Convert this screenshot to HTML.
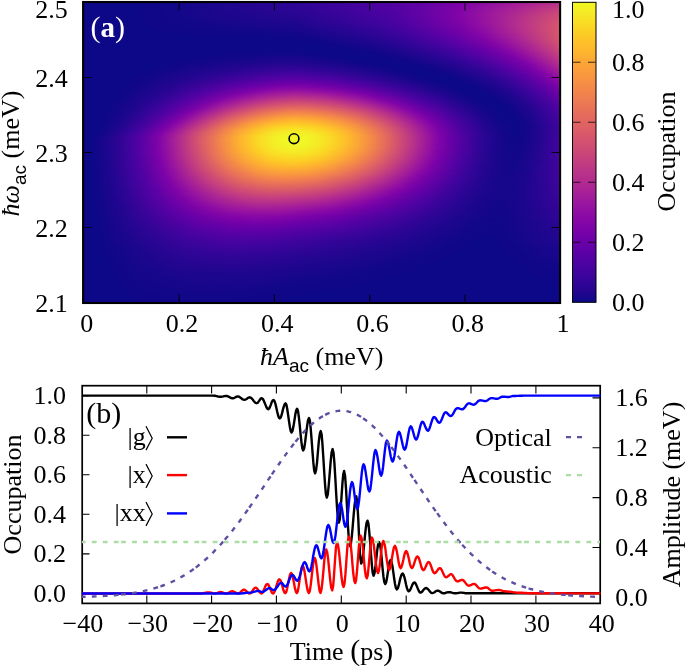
<!DOCTYPE html>
<html><head><meta charset="utf-8"><title>figure</title>
<style>html,body{margin:0;padding:0;background:#fff;width:685px;height:666px;overflow:hidden}svg{display:block;will-change:transform}</style>
</head><body>
<svg width="685" height="666" viewBox="0 0 685 666">
<defs><linearGradient id="r0"><stop offset=".000" stop-color="#0d0887"/><stop offset=".122" stop-color="#0d0887"/><stop offset=".128" stop-color="#100788"/><stop offset=".164" stop-color="#100788"/><stop offset=".174" stop-color="#130789"/><stop offset=".197" stop-color="#130789"/><stop offset=".218" stop-color="#16078a"/><stop offset=".481" stop-color="#350498"/><stop offset=".668" stop-color="#5502a4"/><stop offset=".798" stop-color="#7e03a8"/><stop offset=".920" stop-color="#a51f99"/><stop offset="1.000" stop-color="#b7318a"/></linearGradient><linearGradient id="r1"><stop offset=".000" stop-color="#0d0887"/><stop offset=".120" stop-color="#0d0887"/><stop offset=".126" stop-color="#100788"/><stop offset=".164" stop-color="#100788"/><stop offset=".174" stop-color="#130789"/><stop offset=".195" stop-color="#130789"/><stop offset=".216" stop-color="#16078a"/><stop offset=".473" stop-color="#330597"/><stop offset=".662" stop-color="#5302a3"/><stop offset=".796" stop-color="#7e03a8"/><stop offset=".914" stop-color="#a51f99"/><stop offset="1.000" stop-color="#ba3388"/></linearGradient><linearGradient id="r2"><stop offset=".000" stop-color="#0d0887"/><stop offset=".120" stop-color="#0d0887"/><stop offset=".126" stop-color="#100788"/><stop offset=".162" stop-color="#100788"/><stop offset=".172" stop-color="#130789"/><stop offset=".195" stop-color="#130789"/><stop offset=".216" stop-color="#16078a"/><stop offset=".462" stop-color="#310597"/><stop offset=".662" stop-color="#5302a3"/><stop offset=".792" stop-color="#7e03a8"/><stop offset=".903" stop-color="#a31e9a"/><stop offset="1.000" stop-color="#bc3587"/></linearGradient><linearGradient id="r3"><stop offset=".000" stop-color="#0d0887"/><stop offset=".118" stop-color="#0d0887"/><stop offset=".124" stop-color="#100788"/><stop offset=".162" stop-color="#100788"/><stop offset=".172" stop-color="#130789"/><stop offset=".195" stop-color="#130789"/><stop offset=".216" stop-color="#16078a"/><stop offset=".466" stop-color="#310597"/><stop offset=".662" stop-color="#5302a3"/><stop offset=".790" stop-color="#7e03a8"/><stop offset=".891" stop-color="#a11b9b"/><stop offset="1.000" stop-color="#bf3984"/></linearGradient><linearGradient id="r4"><stop offset=".000" stop-color="#0d0887"/><stop offset=".118" stop-color="#0d0887"/><stop offset=".124" stop-color="#100788"/><stop offset=".162" stop-color="#100788"/><stop offset=".172" stop-color="#130789"/><stop offset=".195" stop-color="#130789"/><stop offset=".216" stop-color="#16078a"/><stop offset=".468" stop-color="#310597"/><stop offset=".662" stop-color="#5302a3"/><stop offset=".788" stop-color="#7e03a8"/><stop offset=".878" stop-color="#9e199d"/><stop offset=".996" stop-color="#c03a83"/><stop offset="1.000" stop-color="#c13b82"/></linearGradient><linearGradient id="r5"><stop offset=".000" stop-color="#0d0887"/><stop offset=".116" stop-color="#0d0887"/><stop offset=".122" stop-color="#100788"/><stop offset=".160" stop-color="#100788"/><stop offset=".170" stop-color="#130789"/><stop offset=".195" stop-color="#130789"/><stop offset=".216" stop-color="#16078a"/><stop offset=".460" stop-color="#2f0596"/><stop offset=".662" stop-color="#5302a3"/><stop offset=".786" stop-color="#7e03a8"/><stop offset=".887" stop-color="#a21d9a"/><stop offset=".998" stop-color="#c23c81"/><stop offset="1.000" stop-color="#c23c81"/></linearGradient><linearGradient id="r6"><stop offset=".000" stop-color="#0d0887"/><stop offset=".116" stop-color="#0d0887"/><stop offset=".122" stop-color="#100788"/><stop offset=".160" stop-color="#100788"/><stop offset=".170" stop-color="#130789"/><stop offset=".195" stop-color="#130789"/><stop offset=".216" stop-color="#16078a"/><stop offset=".464" stop-color="#2f0596"/><stop offset=".662" stop-color="#5302a3"/><stop offset=".786" stop-color="#7e03a8"/><stop offset=".887" stop-color="#a31e9a"/><stop offset=".994" stop-color="#c33d80"/><stop offset="1.000" stop-color="#c43e7f"/></linearGradient><linearGradient id="r7"><stop offset=".000" stop-color="#0d0887"/><stop offset=".116" stop-color="#0d0887"/><stop offset=".122" stop-color="#100788"/><stop offset=".160" stop-color="#100788"/><stop offset=".170" stop-color="#130789"/><stop offset=".195" stop-color="#130789"/><stop offset=".216" stop-color="#16078a"/><stop offset=".458" stop-color="#2e0595"/><stop offset=".662" stop-color="#5302a3"/><stop offset=".784" stop-color="#7e03a8"/><stop offset=".868" stop-color="#9e199d"/><stop offset=".989" stop-color="#c43e7f"/><stop offset="1.000" stop-color="#c6417d"/></linearGradient><linearGradient id="r8"><stop offset=".000" stop-color="#0d0887"/><stop offset=".116" stop-color="#0d0887"/><stop offset=".122" stop-color="#100788"/><stop offset=".160" stop-color="#100788"/><stop offset=".170" stop-color="#130789"/><stop offset=".197" stop-color="#130789"/><stop offset=".218" stop-color="#16078a"/><stop offset=".462" stop-color="#2e0595"/><stop offset=".662" stop-color="#5302a3"/><stop offset=".784" stop-color="#7e03a8"/><stop offset=".876" stop-color="#a21d9a"/><stop offset=".996" stop-color="#c7427c"/><stop offset="1.000" stop-color="#c8437b"/></linearGradient><linearGradient id="r9"><stop offset=".000" stop-color="#0d0887"/><stop offset=".116" stop-color="#0d0887"/><stop offset=".122" stop-color="#100788"/><stop offset=".162" stop-color="#100788"/><stop offset=".172" stop-color="#130789"/><stop offset=".197" stop-color="#130789"/><stop offset=".218" stop-color="#16078a"/><stop offset=".454" stop-color="#2c0594"/><stop offset=".658" stop-color="#5102a3"/><stop offset=".782" stop-color="#7e03a8"/><stop offset=".853" stop-color="#9a169f"/><stop offset=".981" stop-color="#c5407e"/><stop offset="1.000" stop-color="#ca457a"/></linearGradient><linearGradient id="r10"><stop offset=".000" stop-color="#0d0887"/><stop offset=".116" stop-color="#0d0887"/><stop offset=".122" stop-color="#100788"/><stop offset=".162" stop-color="#100788"/><stop offset=".172" stop-color="#130789"/><stop offset=".200" stop-color="#130789"/><stop offset=".221" stop-color="#16078a"/><stop offset=".460" stop-color="#2c0594"/><stop offset=".660" stop-color="#5102a3"/><stop offset=".782" stop-color="#7e03a8"/><stop offset=".866" stop-color="#a01a9c"/><stop offset=".987" stop-color="#c8437b"/><stop offset="1.000" stop-color="#cb4679"/></linearGradient><linearGradient id="r11"><stop offset=".000" stop-color="#0d0887"/><stop offset=".116" stop-color="#0d0887"/><stop offset=".122" stop-color="#100788"/><stop offset=".162" stop-color="#100788"/><stop offset=".172" stop-color="#130789"/><stop offset=".200" stop-color="#130789"/><stop offset=".221" stop-color="#16078a"/><stop offset=".452" stop-color="#2a0593"/><stop offset=".655" stop-color="#5002a2"/><stop offset=".777" stop-color="#7d03a8"/><stop offset=".851" stop-color="#9a169f"/><stop offset=".975" stop-color="#c6417d"/><stop offset="1.000" stop-color="#cc4977"/></linearGradient><linearGradient id="r12"><stop offset=".000" stop-color="#0d0887"/><stop offset=".116" stop-color="#0d0887"/><stop offset=".122" stop-color="#100788"/><stop offset=".164" stop-color="#100788"/><stop offset=".174" stop-color="#130789"/><stop offset=".202" stop-color="#130789"/><stop offset=".223" stop-color="#16078a"/><stop offset=".458" stop-color="#2a0593"/><stop offset=".658" stop-color="#5002a2"/><stop offset=".779" stop-color="#7d03a8"/><stop offset=".853" stop-color="#9c179e"/><stop offset=".981" stop-color="#c9447a"/><stop offset="1.000" stop-color="#cd4a76"/></linearGradient><linearGradient id="r13"><stop offset=".000" stop-color="#0d0887"/><stop offset=".116" stop-color="#0d0887"/><stop offset=".122" stop-color="#100788"/><stop offset=".164" stop-color="#100788"/><stop offset=".174" stop-color="#130789"/><stop offset=".204" stop-color="#130789"/><stop offset=".225" stop-color="#16078a"/><stop offset=".452" stop-color="#280592"/><stop offset=".655" stop-color="#4e02a2"/><stop offset=".777" stop-color="#7d03a8"/><stop offset=".842" stop-color="#9814a0"/><stop offset=".971" stop-color="#c7427c"/><stop offset="1.000" stop-color="#cf4c74"/></linearGradient><linearGradient id="r14"><stop offset=".000" stop-color="#0d0887"/><stop offset=".116" stop-color="#0d0887"/><stop offset=".122" stop-color="#100788"/><stop offset=".166" stop-color="#100788"/><stop offset=".176" stop-color="#130789"/><stop offset=".208" stop-color="#130789"/><stop offset=".229" stop-color="#16078a"/><stop offset=".458" stop-color="#280592"/><stop offset=".651" stop-color="#4c02a1"/><stop offset=".777" stop-color="#7d03a8"/><stop offset=".836" stop-color="#9511a1"/><stop offset=".964" stop-color="#c6417d"/><stop offset="1.000" stop-color="#d04d73"/></linearGradient><linearGradient id="r15"><stop offset=".000" stop-color="#0d0887"/><stop offset=".118" stop-color="#0d0887"/><stop offset=".124" stop-color="#100788"/><stop offset=".168" stop-color="#100788"/><stop offset=".179" stop-color="#130789"/><stop offset=".210" stop-color="#130789"/><stop offset=".231" stop-color="#16078a"/><stop offset=".450" stop-color="#260591"/><stop offset=".649" stop-color="#4b03a1"/><stop offset=".777" stop-color="#7b02a8"/><stop offset=".842" stop-color="#9814a0"/><stop offset=".971" stop-color="#c9447a"/><stop offset="1.000" stop-color="#d14e72"/></linearGradient><linearGradient id="r16"><stop offset=".000" stop-color="#0d0887"/><stop offset=".118" stop-color="#0d0887"/><stop offset=".124" stop-color="#100788"/><stop offset=".170" stop-color="#100788"/><stop offset=".181" stop-color="#130789"/><stop offset=".214" stop-color="#130789"/><stop offset=".235" stop-color="#16078a"/><stop offset=".456" stop-color="#260591"/><stop offset=".645" stop-color="#4903a0"/><stop offset=".775" stop-color="#7a02a8"/><stop offset=".830" stop-color="#920fa3"/><stop offset=".931" stop-color="#bc3587"/><stop offset="1.000" stop-color="#d24f71"/></linearGradient><linearGradient id="r17"><stop offset=".000" stop-color="#0d0887"/><stop offset=".120" stop-color="#0d0887"/><stop offset=".126" stop-color="#100788"/><stop offset=".172" stop-color="#100788"/><stop offset=".183" stop-color="#130789"/><stop offset=".218" stop-color="#130789"/><stop offset=".239" stop-color="#16078a"/><stop offset=".450" stop-color="#240691"/><stop offset=".649" stop-color="#4903a0"/><stop offset=".775" stop-color="#7a02a8"/><stop offset=".828" stop-color="#910ea3"/><stop offset=".924" stop-color="#ba3388"/><stop offset="1.000" stop-color="#d35171"/></linearGradient><linearGradient id="r18"><stop offset=".000" stop-color="#0d0887"/><stop offset=".120" stop-color="#0d0887"/><stop offset=".126" stop-color="#100788"/><stop offset=".176" stop-color="#100788"/><stop offset=".187" stop-color="#130789"/><stop offset=".225" stop-color="#130789"/><stop offset=".246" stop-color="#16078a"/><stop offset=".443" stop-color="#220690"/><stop offset=".632" stop-color="#44039e"/><stop offset=".725" stop-color="#6400a7"/><stop offset=".800" stop-color="#8405a7"/><stop offset=".878" stop-color="#a72197"/><stop offset="1.000" stop-color="#d45270"/></linearGradient><linearGradient id="r19"><stop offset=".000" stop-color="#0d0887"/><stop offset=".122" stop-color="#0d0887"/><stop offset=".128" stop-color="#100788"/><stop offset=".181" stop-color="#100788"/><stop offset=".191" stop-color="#130789"/><stop offset=".231" stop-color="#130789"/><stop offset=".252" stop-color="#16078a"/><stop offset=".450" stop-color="#220690"/><stop offset=".628" stop-color="#43039e"/><stop offset=".691" stop-color="#5601a4"/><stop offset=".792" stop-color="#8004a8"/><stop offset=".870" stop-color="#a31e9a"/><stop offset=".996" stop-color="#d45270"/><stop offset="1.000" stop-color="#d5536f"/></linearGradient><linearGradient id="r20"><stop offset=".000" stop-color="#0d0887"/><stop offset=".124" stop-color="#0d0887"/><stop offset=".130" stop-color="#100788"/><stop offset=".185" stop-color="#100788"/><stop offset=".195" stop-color="#130789"/><stop offset=".237" stop-color="#130789"/><stop offset=".258" stop-color="#16078a"/><stop offset=".443" stop-color="#20068f"/><stop offset=".626" stop-color="#41049d"/><stop offset=".689" stop-color="#5502a4"/><stop offset=".790" stop-color="#7e03a8"/><stop offset=".857" stop-color="#9d189d"/><stop offset=".975" stop-color="#cd4a76"/><stop offset="1.000" stop-color="#d5546e"/></linearGradient><linearGradient id="r21"><stop offset=".000" stop-color="#0d0887"/><stop offset=".126" stop-color="#0d0887"/><stop offset=".132" stop-color="#100788"/><stop offset=".189" stop-color="#100788"/><stop offset=".200" stop-color="#130789"/><stop offset=".248" stop-color="#130789"/><stop offset=".269" stop-color="#16078a"/><stop offset=".452" stop-color="#20068f"/><stop offset=".639" stop-color="#43039e"/><stop offset=".769" stop-color="#7401a8"/><stop offset=".824" stop-color="#8d0ba5"/><stop offset=".903" stop-color="#b22b8f"/><stop offset="1.000" stop-color="#d6556d"/></linearGradient><linearGradient id="r22"><stop offset=".000" stop-color="#0d0887"/><stop offset=".128" stop-color="#0d0887"/><stop offset=".134" stop-color="#100788"/><stop offset=".195" stop-color="#100788"/><stop offset=".206" stop-color="#130789"/><stop offset=".258" stop-color="#130789"/><stop offset=".279" stop-color="#16078a"/><stop offset=".443" stop-color="#1d068e"/><stop offset=".613" stop-color="#3c049b"/><stop offset=".674" stop-color="#4c02a1"/><stop offset=".788" stop-color="#7b02a8"/><stop offset=".836" stop-color="#920fa3"/><stop offset=".922" stop-color="#ba3388"/><stop offset="1.000" stop-color="#d6556d"/></linearGradient><linearGradient id="r23"><stop offset=".000" stop-color="#0d0887"/><stop offset=".132" stop-color="#0d0887"/><stop offset=".139" stop-color="#100788"/><stop offset=".202" stop-color="#100788"/><stop offset=".212" stop-color="#130789"/><stop offset=".271" stop-color="#130789"/><stop offset=".292" stop-color="#16078a"/><stop offset=".429" stop-color="#1b068d"/><stop offset=".569" stop-color="#310597"/><stop offset=".664" stop-color="#48039f"/><stop offset=".786" stop-color="#7a02a8"/><stop offset=".832" stop-color="#8f0da4"/><stop offset=".910" stop-color="#b42e8d"/><stop offset="1.000" stop-color="#d7566c"/></linearGradient><linearGradient id="r24"><stop offset=".000" stop-color="#0d0887"/><stop offset=".134" stop-color="#0d0887"/><stop offset=".141" stop-color="#100788"/><stop offset=".212" stop-color="#100788"/><stop offset=".223" stop-color="#130789"/><stop offset=".286" stop-color="#130789"/><stop offset=".307" stop-color="#16078a"/><stop offset=".443" stop-color="#1b068d"/><stop offset=".611" stop-color="#38049a"/><stop offset=".681" stop-color="#4c02a1"/><stop offset=".792" stop-color="#7b02a8"/><stop offset=".842" stop-color="#9410a2"/><stop offset=".931" stop-color="#bd3786"/><stop offset="1.000" stop-color="#d7566c"/></linearGradient><linearGradient id="r25"><stop offset=".000" stop-color="#0d0887"/><stop offset=".139" stop-color="#0d0887"/><stop offset=".145" stop-color="#100788"/><stop offset=".223" stop-color="#100788"/><stop offset=".233" stop-color="#130789"/><stop offset=".307" stop-color="#130789"/><stop offset=".328" stop-color="#16078a"/><stop offset=".452" stop-color="#1b068d"/><stop offset=".616" stop-color="#38049a"/><stop offset=".681" stop-color="#4b03a1"/><stop offset=".796" stop-color="#7b02a8"/><stop offset=".845" stop-color="#9410a2"/><stop offset=".931" stop-color="#bd3786"/><stop offset="1.000" stop-color="#d8576b"/></linearGradient><linearGradient id="r26"><stop offset=".000" stop-color="#0d0887"/><stop offset=".145" stop-color="#0d0887"/><stop offset=".151" stop-color="#100788"/><stop offset=".235" stop-color="#100788"/><stop offset=".246" stop-color="#130789"/><stop offset=".330" stop-color="#130789"/><stop offset=".351" stop-color="#16078a"/><stop offset=".443" stop-color="#19068c"/><stop offset=".599" stop-color="#330597"/><stop offset=".674" stop-color="#48039f"/><stop offset=".792" stop-color="#7801a8"/><stop offset=".838" stop-color="#8f0da4"/><stop offset=".918" stop-color="#b6308b"/><stop offset="1.000" stop-color="#d8576b"/></linearGradient><linearGradient id="r27"><stop offset=".000" stop-color="#0d0887"/><stop offset=".149" stop-color="#0d0887"/><stop offset=".155" stop-color="#100788"/><stop offset=".254" stop-color="#100788"/><stop offset=".265" stop-color="#130789"/><stop offset=".355" stop-color="#130789"/><stop offset=".376" stop-color="#16078a"/><stop offset=".452" stop-color="#19068c"/><stop offset=".597" stop-color="#310597"/><stop offset=".670" stop-color="#44039e"/><stop offset=".782" stop-color="#7201a8"/><stop offset=".832" stop-color="#8b0aa5"/><stop offset=".901" stop-color="#ae2892"/><stop offset="1.000" stop-color="#d8576b"/></linearGradient><linearGradient id="r28"><stop offset=".000" stop-color="#0d0887"/><stop offset=".158" stop-color="#0d0887"/><stop offset=".164" stop-color="#100788"/><stop offset=".277" stop-color="#100788"/><stop offset=".288" stop-color="#130789"/><stop offset=".382" stop-color="#130789"/><stop offset=".403" stop-color="#16078a"/><stop offset=".462" stop-color="#19068c"/><stop offset=".620" stop-color="#350498"/><stop offset=".687" stop-color="#4903a0"/><stop offset=".788" stop-color="#7401a8"/><stop offset=".838" stop-color="#8d0ba5"/><stop offset=".916" stop-color="#b42e8d"/><stop offset="1.000" stop-color="#d8576b"/></linearGradient><linearGradient id="r29"><stop offset=".000" stop-color="#0d0887"/><stop offset=".166" stop-color="#0d0887"/><stop offset=".172" stop-color="#100788"/><stop offset=".309" stop-color="#100788"/><stop offset=".319" stop-color="#130789"/><stop offset=".410" stop-color="#130789"/><stop offset=".431" stop-color="#16078a"/><stop offset=".471" stop-color="#19068c"/><stop offset=".626" stop-color="#350498"/><stop offset=".700" stop-color="#4c02a1"/><stop offset=".794" stop-color="#7501a8"/><stop offset=".840" stop-color="#8d0ba5"/><stop offset=".912" stop-color="#b22b8f"/><stop offset="1.000" stop-color="#d8576b"/></linearGradient><linearGradient id="r30"><stop offset=".000" stop-color="#0d0887"/><stop offset=".179" stop-color="#0d0887"/><stop offset=".185" stop-color="#100788"/><stop offset=".347" stop-color="#100788"/><stop offset=".357" stop-color="#130789"/><stop offset=".435" stop-color="#130789"/><stop offset=".456" stop-color="#16078a"/><stop offset=".582" stop-color="#2a0593"/><stop offset=".664" stop-color="#3e049c"/><stop offset=".775" stop-color="#6a00a8"/><stop offset=".832" stop-color="#8707a6"/><stop offset=".897" stop-color="#aa2395"/><stop offset="1.000" stop-color="#d8576b"/></linearGradient><linearGradient id="r31"><stop offset=".000" stop-color="#0d0887"/><stop offset=".195" stop-color="#0d0887"/><stop offset=".202" stop-color="#100788"/><stop offset=".384" stop-color="#100788"/><stop offset=".395" stop-color="#130789"/><stop offset=".447" stop-color="#130789"/><stop offset=".468" stop-color="#16078a"/><stop offset=".607" stop-color="#2e0595"/><stop offset=".683" stop-color="#43039e"/><stop offset=".792" stop-color="#7100a8"/><stop offset=".840" stop-color="#8a09a5"/><stop offset=".910" stop-color="#ae2892"/><stop offset="1.000" stop-color="#d8576b"/></linearGradient><linearGradient id="r32"><stop offset=".000" stop-color="#0d0887"/><stop offset=".223" stop-color="#0d0887"/><stop offset=".229" stop-color="#100788"/><stop offset=".418" stop-color="#100788"/><stop offset=".429" stop-color="#130789"/><stop offset=".458" stop-color="#130789"/><stop offset=".479" stop-color="#16078a"/><stop offset=".616" stop-color="#2e0595"/><stop offset=".687" stop-color="#43039e"/><stop offset=".792" stop-color="#6f00a8"/><stop offset=".845" stop-color="#8a09a5"/><stop offset=".916" stop-color="#b12a90"/><stop offset="1.000" stop-color="#d8576b"/></linearGradient><linearGradient id="r33"><stop offset=".000" stop-color="#0d0887"/><stop offset=".275" stop-color="#0d0887"/><stop offset=".282" stop-color="#100788"/><stop offset=".441" stop-color="#100788"/><stop offset=".452" stop-color="#130789"/><stop offset=".508" stop-color="#19068c"/><stop offset=".645" stop-color="#330597"/><stop offset=".756" stop-color="#5c01a6"/><stop offset=".832" stop-color="#8104a7"/><stop offset=".895" stop-color="#a51f99"/><stop offset="1.000" stop-color="#d8576b"/></linearGradient><linearGradient id="r34"><stop offset=".000" stop-color="#0d0887"/><stop offset=".351" stop-color="#0d0887"/><stop offset=".357" stop-color="#100788"/><stop offset=".454" stop-color="#100788"/><stop offset=".464" stop-color="#130789"/><stop offset=".534" stop-color="#1b068d"/><stop offset=".658" stop-color="#350498"/><stop offset=".771" stop-color="#6100a7"/><stop offset=".836" stop-color="#8305a7"/><stop offset=".897" stop-color="#a51f99"/><stop offset="1.000" stop-color="#d7566c"/></linearGradient><linearGradient id="r35"><stop offset=".000" stop-color="#0d0887"/><stop offset=".403" stop-color="#0d0887"/><stop offset=".410" stop-color="#100788"/><stop offset=".464" stop-color="#100788"/><stop offset=".475" stop-color="#130789"/><stop offset=".569" stop-color="#20068f"/><stop offset=".662" stop-color="#350498"/><stop offset=".775" stop-color="#6100a7"/><stop offset=".840" stop-color="#8305a7"/><stop offset=".901" stop-color="#a62098"/><stop offset="1.000" stop-color="#d7566c"/></linearGradient><linearGradient id="r36"><stop offset=".000" stop-color="#0d0887"/><stop offset=".439" stop-color="#0d0887"/><stop offset=".445" stop-color="#100788"/><stop offset=".475" stop-color="#100788"/><stop offset=".485" stop-color="#130789"/><stop offset=".565" stop-color="#1d068e"/><stop offset=".662" stop-color="#330597"/><stop offset=".773" stop-color="#5e01a6"/><stop offset=".840" stop-color="#8104a7"/><stop offset=".901" stop-color="#a31e9a"/><stop offset=".998" stop-color="#d5546e"/><stop offset="1.000" stop-color="#d6556d"/></linearGradient><linearGradient id="r37"><stop offset=".000" stop-color="#0d0887"/><stop offset=".452" stop-color="#0d0887"/><stop offset=".458" stop-color="#100788"/><stop offset=".487" stop-color="#100788"/><stop offset=".498" stop-color="#130789"/><stop offset=".597" stop-color="#220690"/><stop offset=".672" stop-color="#350498"/><stop offset=".777" stop-color="#5e01a6"/><stop offset=".845" stop-color="#8104a7"/><stop offset=".908" stop-color="#a62098"/><stop offset="1.000" stop-color="#d6556d"/></linearGradient><linearGradient id="r38"><stop offset=".000" stop-color="#0d0887"/><stop offset=".464" stop-color="#0d0887"/><stop offset=".471" stop-color="#100788"/><stop offset=".498" stop-color="#100788"/><stop offset=".508" stop-color="#130789"/><stop offset=".582" stop-color="#1d068e"/><stop offset=".668" stop-color="#310597"/><stop offset=".775" stop-color="#5b01a5"/><stop offset=".849" stop-color="#8104a7"/><stop offset=".908" stop-color="#a51f99"/><stop offset="1.000" stop-color="#d5546e"/></linearGradient><linearGradient id="r39"><stop offset=".000" stop-color="#0d0887"/><stop offset=".475" stop-color="#0d0887"/><stop offset=".481" stop-color="#100788"/><stop offset=".508" stop-color="#100788"/><stop offset=".519" stop-color="#130789"/><stop offset=".613" stop-color="#220690"/><stop offset=".693" stop-color="#38049a"/><stop offset=".790" stop-color="#6001a6"/><stop offset=".855" stop-color="#8305a7"/><stop offset=".916" stop-color="#a82296"/><stop offset="1.000" stop-color="#d5536f"/></linearGradient><linearGradient id="r40"><stop offset=".000" stop-color="#0d0887"/><stop offset=".487" stop-color="#0d0887"/><stop offset=".494" stop-color="#100788"/><stop offset=".519" stop-color="#100788"/><stop offset=".529" stop-color="#130789"/><stop offset=".622" stop-color="#220690"/><stop offset=".708" stop-color="#3c049b"/><stop offset=".788" stop-color="#5c01a6"/><stop offset=".855" stop-color="#8104a7"/><stop offset=".912" stop-color="#a31e9a"/><stop offset="1.000" stop-color="#d45270"/></linearGradient><linearGradient id="r41"><stop offset=".000" stop-color="#0d0887"/><stop offset=".498" stop-color="#0d0887"/><stop offset=".504" stop-color="#100788"/><stop offset=".529" stop-color="#100788"/><stop offset=".540" stop-color="#130789"/><stop offset=".628" stop-color="#220690"/><stop offset=".704" stop-color="#38049a"/><stop offset=".792" stop-color="#5c01a6"/><stop offset=".859" stop-color="#8104a7"/><stop offset=".920" stop-color="#a72197"/><stop offset="1.000" stop-color="#d35171"/></linearGradient><linearGradient id="r42"><stop offset=".000" stop-color="#0d0887"/><stop offset=".508" stop-color="#0d0887"/><stop offset=".515" stop-color="#100788"/><stop offset=".538" stop-color="#100788"/><stop offset=".548" stop-color="#130789"/><stop offset=".616" stop-color="#1d068e"/><stop offset=".689" stop-color="#310597"/><stop offset=".788" stop-color="#5801a4"/><stop offset=".859" stop-color="#8004a8"/><stop offset=".916" stop-color="#a21d9a"/><stop offset="1.000" stop-color="#d24f71"/></linearGradient><linearGradient id="r43"><stop offset=".000" stop-color="#0d0887"/><stop offset=".521" stop-color="#0d0887"/><stop offset=".527" stop-color="#100788"/><stop offset=".548" stop-color="#100788"/><stop offset=".559" stop-color="#130789"/><stop offset=".645" stop-color="#220690"/><stop offset=".752" stop-color="#46039f"/><stop offset=".836" stop-color="#6f00a8"/><stop offset=".880" stop-color="#8a09a5"/><stop offset=".943" stop-color="#b22b8f"/><stop offset="1.000" stop-color="#d14e72"/></linearGradient><linearGradient id="r44"><stop offset=".000" stop-color="#0d0887"/><stop offset=".532" stop-color="#0d0887"/><stop offset=".538" stop-color="#100788"/><stop offset=".559" stop-color="#100788"/><stop offset=".569" stop-color="#130789"/><stop offset=".651" stop-color="#220690"/><stop offset=".767" stop-color="#4903a0"/><stop offset=".853" stop-color="#7701a8"/><stop offset=".895" stop-color="#910ea3"/><stop offset=".958" stop-color="#b83289"/><stop offset="1.000" stop-color="#d04d73"/></linearGradient><linearGradient id="r45"><stop offset=".000" stop-color="#0d0887"/><stop offset=".542" stop-color="#0d0887"/><stop offset=".548" stop-color="#100788"/><stop offset=".567" stop-color="#100788"/><stop offset=".578" stop-color="#130789"/><stop offset=".658" stop-color="#220690"/><stop offset=".767" stop-color="#48039f"/><stop offset=".847" stop-color="#7100a8"/><stop offset=".887" stop-color="#8a09a5"/><stop offset=".950" stop-color="#b22b8f"/><stop offset="1.000" stop-color="#cf4c74"/></linearGradient><linearGradient id="r46"><stop offset=".000" stop-color="#0d0887"/><stop offset=".550" stop-color="#0d0887"/><stop offset=".557" stop-color="#100788"/><stop offset=".578" stop-color="#100788"/><stop offset=".588" stop-color="#130789"/><stop offset=".664" stop-color="#220690"/><stop offset=".765" stop-color="#44039e"/><stop offset=".840" stop-color="#6a00a8"/><stop offset=".887" stop-color="#8707a6"/><stop offset=".943" stop-color="#ac2694"/><stop offset="1.000" stop-color="#ce4b75"/></linearGradient><linearGradient id="r47"><stop offset=".000" stop-color="#0d0887"/><stop offset=".561" stop-color="#0d0887"/><stop offset=".567" stop-color="#100788"/><stop offset=".586" stop-color="#100788"/><stop offset=".597" stop-color="#130789"/><stop offset=".664" stop-color="#20068f"/><stop offset=".771" stop-color="#44039e"/><stop offset=".855" stop-color="#7100a8"/><stop offset=".897" stop-color="#8b0aa5"/><stop offset=".958" stop-color="#b42e8d"/><stop offset="1.000" stop-color="#cd4a76"/></linearGradient><linearGradient id="r48"><stop offset=".000" stop-color="#0d0887"/><stop offset=".571" stop-color="#0d0887"/><stop offset=".578" stop-color="#100788"/><stop offset=".597" stop-color="#100788"/><stop offset=".607" stop-color="#130789"/><stop offset=".670" stop-color="#20068f"/><stop offset=".775" stop-color="#44039e"/><stop offset=".847" stop-color="#6900a8"/><stop offset=".893" stop-color="#8707a6"/><stop offset=".945" stop-color="#aa2395"/><stop offset="1.000" stop-color="#cc4778"/></linearGradient><linearGradient id="r49"><stop offset=".000" stop-color="#0d0887"/><stop offset=".580" stop-color="#0d0887"/><stop offset=".586" stop-color="#100788"/><stop offset=".605" stop-color="#100788"/><stop offset=".616" stop-color="#130789"/><stop offset=".683" stop-color="#220690"/><stop offset=".773" stop-color="#41049d"/><stop offset=".849" stop-color="#6700a8"/><stop offset=".895" stop-color="#8606a6"/><stop offset=".945" stop-color="#a82296"/><stop offset="1.000" stop-color="#cb4679"/></linearGradient><linearGradient id="r50"><stop offset=".000" stop-color="#0d0887"/><stop offset=".342" stop-color="#0d0887"/><stop offset=".349" stop-color="#100788"/><stop offset=".452" stop-color="#100788"/><stop offset=".458" stop-color="#0d0887"/><stop offset=".590" stop-color="#0d0887"/><stop offset=".597" stop-color="#100788"/><stop offset=".613" stop-color="#100788"/><stop offset=".624" stop-color="#130789"/><stop offset=".674" stop-color="#1d068e"/><stop offset=".775" stop-color="#3f049c"/><stop offset=".855" stop-color="#6900a8"/><stop offset=".901" stop-color="#8707a6"/><stop offset=".956" stop-color="#ad2793"/><stop offset="1.000" stop-color="#c9447a"/></linearGradient><linearGradient id="r51"><stop offset=".000" stop-color="#0d0887"/><stop offset=".311" stop-color="#0d0887"/><stop offset=".317" stop-color="#100788"/><stop offset=".468" stop-color="#100788"/><stop offset=".475" stop-color="#0d0887"/><stop offset=".599" stop-color="#0d0887"/><stop offset=".605" stop-color="#100788"/><stop offset=".622" stop-color="#100788"/><stop offset=".632" stop-color="#130789"/><stop offset=".695" stop-color="#220690"/><stop offset=".786" stop-color="#41049d"/><stop offset=".861" stop-color="#6a00a8"/><stop offset=".905" stop-color="#8707a6"/><stop offset=".956" stop-color="#ab2494"/><stop offset="1.000" stop-color="#c8437b"/></linearGradient><linearGradient id="r52"><stop offset=".000" stop-color="#0d0887"/><stop offset=".290" stop-color="#0d0887"/><stop offset=".296" stop-color="#100788"/><stop offset=".376" stop-color="#100788"/><stop offset=".387" stop-color="#130789"/><stop offset=".445" stop-color="#130789"/><stop offset=".456" stop-color="#100788"/><stop offset=".483" stop-color="#100788"/><stop offset=".489" stop-color="#0d0887"/><stop offset=".609" stop-color="#0d0887"/><stop offset=".616" stop-color="#100788"/><stop offset=".630" stop-color="#100788"/><stop offset=".641" stop-color="#130789"/><stop offset=".723" stop-color="#280592"/><stop offset=".800" stop-color="#46039f"/><stop offset=".876" stop-color="#7100a8"/><stop offset=".916" stop-color="#8d0ba5"/><stop offset=".971" stop-color="#b32c8e"/><stop offset="1.000" stop-color="#c6417d"/></linearGradient><linearGradient id="r53"><stop offset=".000" stop-color="#0d0887"/><stop offset=".271" stop-color="#0d0887"/><stop offset=".277" stop-color="#100788"/><stop offset=".338" stop-color="#100788"/><stop offset=".349" stop-color="#130789"/><stop offset=".462" stop-color="#130789"/><stop offset=".473" stop-color="#100788"/><stop offset=".498" stop-color="#100788"/><stop offset=".504" stop-color="#0d0887"/><stop offset=".618" stop-color="#0d0887"/><stop offset=".624" stop-color="#100788"/><stop offset=".639" stop-color="#100788"/><stop offset=".649" stop-color="#130789"/><stop offset=".735" stop-color="#2a0593"/><stop offset=".815" stop-color="#4b03a1"/><stop offset=".889" stop-color="#7701a8"/><stop offset=".922" stop-color="#8e0ca4"/><stop offset=".977" stop-color="#b52f8c"/><stop offset="1.000" stop-color="#c5407e"/></linearGradient><linearGradient id="r54"><stop offset=".000" stop-color="#0d0887"/><stop offset=".254" stop-color="#0d0887"/><stop offset=".261" stop-color="#100788"/><stop offset=".315" stop-color="#100788"/><stop offset=".326" stop-color="#130789"/><stop offset=".376" stop-color="#130789"/><stop offset=".397" stop-color="#16078a"/><stop offset=".450" stop-color="#16078a"/><stop offset=".471" stop-color="#130789"/><stop offset=".511" stop-color="#100788"/><stop offset=".517" stop-color="#0d0887"/><stop offset=".626" stop-color="#0d0887"/><stop offset=".632" stop-color="#100788"/><stop offset=".647" stop-color="#100788"/><stop offset=".658" stop-color="#130789"/><stop offset=".742" stop-color="#2a0593"/><stop offset=".817" stop-color="#4903a0"/><stop offset=".891" stop-color="#7501a8"/><stop offset=".924" stop-color="#8e0ca4"/><stop offset=".975" stop-color="#b22b8f"/><stop offset="1.000" stop-color="#c33d80"/></linearGradient><linearGradient id="r55"><stop offset=".000" stop-color="#0d0887"/><stop offset=".239" stop-color="#0d0887"/><stop offset=".246" stop-color="#100788"/><stop offset=".294" stop-color="#100788"/><stop offset=".305" stop-color="#130789"/><stop offset=".342" stop-color="#130789"/><stop offset=".363" stop-color="#16078a"/><stop offset=".441" stop-color="#19068c"/><stop offset=".494" stop-color="#130789"/><stop offset=".504" stop-color="#100788"/><stop offset=".523" stop-color="#100788"/><stop offset=".529" stop-color="#0d0887"/><stop offset=".634" stop-color="#0d0887"/><stop offset=".641" stop-color="#100788"/><stop offset=".655" stop-color="#100788"/><stop offset=".666" stop-color="#130789"/><stop offset=".765" stop-color="#2f0596"/><stop offset=".840" stop-color="#5302a3"/><stop offset=".908" stop-color="#7e03a8"/><stop offset=".956" stop-color="#a21d9a"/><stop offset="1.000" stop-color="#c23c81"/></linearGradient><linearGradient id="r56"><stop offset=".000" stop-color="#0d0887"/><stop offset=".227" stop-color="#0d0887"/><stop offset=".233" stop-color="#100788"/><stop offset=".277" stop-color="#100788"/><stop offset=".288" stop-color="#130789"/><stop offset=".319" stop-color="#130789"/><stop offset=".340" stop-color="#16078a"/><stop offset=".460" stop-color="#19068c"/><stop offset=".508" stop-color="#130789"/><stop offset=".519" stop-color="#100788"/><stop offset=".536" stop-color="#100788"/><stop offset=".542" stop-color="#0d0887"/><stop offset=".643" stop-color="#0d0887"/><stop offset=".649" stop-color="#100788"/><stop offset=".662" stop-color="#100788"/><stop offset=".672" stop-color="#130789"/><stop offset=".754" stop-color="#2a0593"/><stop offset=".830" stop-color="#4b03a1"/><stop offset=".903" stop-color="#7801a8"/><stop offset=".941" stop-color="#9511a1"/><stop offset="1.000" stop-color="#c03a83"/></linearGradient><linearGradient id="r57"><stop offset=".000" stop-color="#0d0887"/><stop offset=".216" stop-color="#0d0887"/><stop offset=".223" stop-color="#100788"/><stop offset=".265" stop-color="#100788"/><stop offset=".275" stop-color="#130789"/><stop offset=".300" stop-color="#130789"/><stop offset=".321" stop-color="#16078a"/><stop offset=".433" stop-color="#1b068d"/><stop offset=".500" stop-color="#16078a"/><stop offset=".540" stop-color="#100788"/><stop offset=".548" stop-color="#100788"/><stop offset=".555" stop-color="#0d0887"/><stop offset=".651" stop-color="#0d0887"/><stop offset=".658" stop-color="#100788"/><stop offset=".670" stop-color="#100788"/><stop offset=".681" stop-color="#130789"/><stop offset=".771" stop-color="#2e0595"/><stop offset=".840" stop-color="#4e02a2"/><stop offset=".905" stop-color="#7801a8"/><stop offset=".939" stop-color="#910ea3"/><stop offset=".989" stop-color="#b6308b"/><stop offset="1.000" stop-color="#be3885"/></linearGradient><linearGradient id="r58"><stop offset=".000" stop-color="#0d0887"/><stop offset=".206" stop-color="#0d0887"/><stop offset=".212" stop-color="#100788"/><stop offset=".252" stop-color="#100788"/><stop offset=".263" stop-color="#130789"/><stop offset=".286" stop-color="#130789"/><stop offset=".307" stop-color="#16078a"/><stop offset=".426" stop-color="#1d068e"/><stop offset=".475" stop-color="#1b068d"/><stop offset=".536" stop-color="#130789"/><stop offset=".546" stop-color="#100788"/><stop offset=".559" stop-color="#100788"/><stop offset=".565" stop-color="#0d0887"/><stop offset=".658" stop-color="#0d0887"/><stop offset=".664" stop-color="#100788"/><stop offset=".676" stop-color="#100788"/><stop offset=".687" stop-color="#130789"/><stop offset=".767" stop-color="#2a0593"/><stop offset=".836" stop-color="#4903a0"/><stop offset=".901" stop-color="#7201a8"/><stop offset=".935" stop-color="#8b0aa5"/><stop offset=".981" stop-color="#ae2892"/><stop offset="1.000" stop-color="#bd3786"/></linearGradient><linearGradient id="r59"><stop offset=".000" stop-color="#0d0887"/><stop offset=".197" stop-color="#0d0887"/><stop offset=".204" stop-color="#100788"/><stop offset=".239" stop-color="#100788"/><stop offset=".250" stop-color="#130789"/><stop offset=".271" stop-color="#130789"/><stop offset=".292" stop-color="#16078a"/><stop offset=".420" stop-color="#20068f"/><stop offset=".473" stop-color="#1d068e"/><stop offset=".546" stop-color="#130789"/><stop offset=".557" stop-color="#100788"/><stop offset=".569" stop-color="#100788"/><stop offset=".576" stop-color="#0d0887"/><stop offset=".666" stop-color="#0d0887"/><stop offset=".672" stop-color="#100788"/><stop offset=".683" stop-color="#100788"/><stop offset=".693" stop-color="#130789"/><stop offset=".767" stop-color="#280592"/><stop offset=".838" stop-color="#48039f"/><stop offset=".912" stop-color="#7701a8"/><stop offset=".947" stop-color="#920fa3"/><stop offset="1.000" stop-color="#bb3488"/></linearGradient><linearGradient id="r60"><stop offset=".000" stop-color="#0d0887"/><stop offset=".187" stop-color="#0d0887"/><stop offset=".193" stop-color="#100788"/><stop offset=".229" stop-color="#100788"/><stop offset=".239" stop-color="#130789"/><stop offset=".418" stop-color="#220690"/><stop offset=".475" stop-color="#20068f"/><stop offset=".559" stop-color="#130789"/><stop offset=".569" stop-color="#100788"/><stop offset=".580" stop-color="#100788"/><stop offset=".586" stop-color="#0d0887"/><stop offset=".672" stop-color="#0d0887"/><stop offset=".679" stop-color="#100788"/><stop offset=".691" stop-color="#100788"/><stop offset=".702" stop-color="#130789"/><stop offset=".773" stop-color="#280592"/><stop offset=".842" stop-color="#48039f"/><stop offset=".916" stop-color="#7701a8"/><stop offset=".950" stop-color="#910ea3"/><stop offset="1.000" stop-color="#b83289"/></linearGradient><linearGradient id="r61"><stop offset=".000" stop-color="#0d0887"/><stop offset=".181" stop-color="#0d0887"/><stop offset=".187" stop-color="#100788"/><stop offset=".218" stop-color="#100788"/><stop offset=".229" stop-color="#130789"/><stop offset=".412" stop-color="#240691"/><stop offset=".475" stop-color="#220690"/><stop offset=".569" stop-color="#130789"/><stop offset=".580" stop-color="#100788"/><stop offset=".590" stop-color="#100788"/><stop offset=".597" stop-color="#0d0887"/><stop offset=".681" stop-color="#0d0887"/><stop offset=".687" stop-color="#100788"/><stop offset=".697" stop-color="#100788"/><stop offset=".708" stop-color="#130789"/><stop offset=".779" stop-color="#280592"/><stop offset=".853" stop-color="#4b03a1"/><stop offset=".914" stop-color="#7201a8"/><stop offset=".947" stop-color="#8d0ba5"/><stop offset=".996" stop-color="#b32c8e"/><stop offset="1.000" stop-color="#b6308b"/></linearGradient><linearGradient id="r62"><stop offset=".000" stop-color="#0d0887"/><stop offset=".172" stop-color="#0d0887"/><stop offset=".179" stop-color="#100788"/><stop offset=".210" stop-color="#100788"/><stop offset=".221" stop-color="#130789"/><stop offset=".405" stop-color="#260591"/><stop offset=".462" stop-color="#260591"/><stop offset=".580" stop-color="#130789"/><stop offset=".590" stop-color="#100788"/><stop offset=".601" stop-color="#100788"/><stop offset=".607" stop-color="#0d0887"/><stop offset=".687" stop-color="#0d0887"/><stop offset=".693" stop-color="#100788"/><stop offset=".704" stop-color="#100788"/><stop offset=".714" stop-color="#130789"/><stop offset=".779" stop-color="#260591"/><stop offset=".849" stop-color="#46039f"/><stop offset=".908" stop-color="#6c00a8"/><stop offset=".945" stop-color="#8808a6"/><stop offset=".989" stop-color="#ac2694"/><stop offset="1.000" stop-color="#b42e8d"/></linearGradient><linearGradient id="r63"><stop offset=".000" stop-color="#0d0887"/><stop offset=".166" stop-color="#0d0887"/><stop offset=".172" stop-color="#100788"/><stop offset=".202" stop-color="#100788"/><stop offset=".212" stop-color="#130789"/><stop offset=".399" stop-color="#280592"/><stop offset=".468" stop-color="#280592"/><stop offset=".590" stop-color="#130789"/><stop offset=".601" stop-color="#100788"/><stop offset=".609" stop-color="#100788"/><stop offset=".616" stop-color="#0d0887"/><stop offset=".693" stop-color="#0d0887"/><stop offset=".700" stop-color="#100788"/><stop offset=".712" stop-color="#100788"/><stop offset=".723" stop-color="#130789"/><stop offset=".790" stop-color="#280592"/><stop offset=".859" stop-color="#4903a0"/><stop offset=".931" stop-color="#7a02a8"/><stop offset=".962" stop-color="#9410a2"/><stop offset="1.000" stop-color="#b32c8e"/></linearGradient><linearGradient id="r64"><stop offset=".000" stop-color="#0d0887"/><stop offset=".160" stop-color="#0d0887"/><stop offset=".166" stop-color="#100788"/><stop offset=".195" stop-color="#100788"/><stop offset=".206" stop-color="#130789"/><stop offset=".393" stop-color="#2a0593"/><stop offset=".447" stop-color="#2c0594"/><stop offset=".536" stop-color="#20068f"/><stop offset=".601" stop-color="#130789"/><stop offset=".611" stop-color="#100788"/><stop offset=".618" stop-color="#100788"/><stop offset=".624" stop-color="#0d0887"/><stop offset=".702" stop-color="#0d0887"/><stop offset=".708" stop-color="#100788"/><stop offset=".718" stop-color="#100788"/><stop offset=".729" stop-color="#130789"/><stop offset=".800" stop-color="#2a0593"/><stop offset=".863" stop-color="#4903a0"/><stop offset=".929" stop-color="#7501a8"/><stop offset=".960" stop-color="#8f0da4"/><stop offset="1.000" stop-color="#b12a90"/></linearGradient><linearGradient id="r65"><stop offset=".000" stop-color="#0d0887"/><stop offset=".153" stop-color="#0d0887"/><stop offset=".160" stop-color="#100788"/><stop offset=".187" stop-color="#100788"/><stop offset=".197" stop-color="#130789"/><stop offset=".401" stop-color="#2e0595"/><stop offset=".468" stop-color="#2e0595"/><stop offset=".595" stop-color="#16078a"/><stop offset=".624" stop-color="#100788"/><stop offset=".647" stop-color="#0d0887"/><stop offset=".708" stop-color="#0d0887"/><stop offset=".714" stop-color="#100788"/><stop offset=".727" stop-color="#100788"/><stop offset=".737" stop-color="#130789"/><stop offset=".815" stop-color="#2e0595"/><stop offset=".878" stop-color="#5002a2"/><stop offset=".941" stop-color="#7d03a8"/><stop offset=".975" stop-color="#99159f"/><stop offset="1.000" stop-color="#ae2892"/></linearGradient><linearGradient id="r66"><stop offset=".000" stop-color="#0d0887"/><stop offset=".147" stop-color="#0d0887"/><stop offset=".153" stop-color="#100788"/><stop offset=".181" stop-color="#100788"/><stop offset=".191" stop-color="#130789"/><stop offset=".393" stop-color="#2f0596"/><stop offset=".445" stop-color="#330597"/><stop offset=".550" stop-color="#220690"/><stop offset=".618" stop-color="#130789"/><stop offset=".637" stop-color="#100788"/><stop offset=".643" stop-color="#0d0887"/><stop offset=".716" stop-color="#0d0887"/><stop offset=".723" stop-color="#100788"/><stop offset=".733" stop-color="#100788"/><stop offset=".744" stop-color="#130789"/><stop offset=".811" stop-color="#2a0593"/><stop offset=".878" stop-color="#4c02a1"/><stop offset=".941" stop-color="#7a02a8"/><stop offset=".975" stop-color="#9613a1"/><stop offset="1.000" stop-color="#ac2694"/></linearGradient><linearGradient id="r67"><stop offset=".000" stop-color="#0d0887"/><stop offset=".141" stop-color="#0d0887"/><stop offset=".147" stop-color="#100788"/><stop offset=".174" stop-color="#100788"/><stop offset=".185" stop-color="#130789"/><stop offset=".399" stop-color="#330597"/><stop offset=".456" stop-color="#350498"/><stop offset=".553" stop-color="#240691"/><stop offset=".641" stop-color="#100788"/><stop offset=".664" stop-color="#0d0887"/><stop offset=".723" stop-color="#0d0887"/><stop offset=".729" stop-color="#100788"/><stop offset=".739" stop-color="#100788"/><stop offset=".750" stop-color="#130789"/><stop offset=".821" stop-color="#2c0594"/><stop offset=".887" stop-color="#5002a2"/><stop offset=".947" stop-color="#7d03a8"/><stop offset=".981" stop-color="#99159f"/><stop offset="1.000" stop-color="#aa2395"/></linearGradient><linearGradient id="r68"><stop offset=".000" stop-color="#0d0887"/><stop offset=".137" stop-color="#0d0887"/><stop offset=".143" stop-color="#100788"/><stop offset=".168" stop-color="#100788"/><stop offset=".179" stop-color="#130789"/><stop offset=".286" stop-color="#240691"/><stop offset=".389" stop-color="#350498"/><stop offset=".452" stop-color="#38049a"/><stop offset=".548" stop-color="#280592"/><stop offset=".649" stop-color="#100788"/><stop offset=".672" stop-color="#0d0887"/><stop offset=".731" stop-color="#0d0887"/><stop offset=".737" stop-color="#100788"/><stop offset=".784" stop-color="#1b068d"/><stop offset=".861" stop-color="#3e049c"/><stop offset=".926" stop-color="#6900a8"/><stop offset=".962" stop-color="#8707a6"/><stop offset="1.000" stop-color="#a72197"/></linearGradient><linearGradient id="r69"><stop offset=".000" stop-color="#0d0887"/><stop offset=".132" stop-color="#0d0887"/><stop offset=".139" stop-color="#100788"/><stop offset=".162" stop-color="#100788"/><stop offset=".172" stop-color="#130789"/><stop offset=".265" stop-color="#220690"/><stop offset=".391" stop-color="#38049a"/><stop offset=".452" stop-color="#3c049b"/><stop offset=".544" stop-color="#2c0594"/><stop offset=".643" stop-color="#130789"/><stop offset=".660" stop-color="#100788"/><stop offset=".666" stop-color="#0d0887"/><stop offset=".737" stop-color="#0d0887"/><stop offset=".744" stop-color="#100788"/><stop offset=".773" stop-color="#16078a"/><stop offset=".851" stop-color="#350498"/><stop offset=".924" stop-color="#6400a7"/><stop offset=".962" stop-color="#8405a7"/><stop offset="1.000" stop-color="#a51f99"/></linearGradient><linearGradient id="r70"><stop offset=".000" stop-color="#0d0887"/><stop offset=".128" stop-color="#0d0887"/><stop offset=".134" stop-color="#100788"/><stop offset=".158" stop-color="#100788"/><stop offset=".168" stop-color="#130789"/><stop offset=".275" stop-color="#260591"/><stop offset=".393" stop-color="#3c049b"/><stop offset=".450" stop-color="#3f049c"/><stop offset=".534" stop-color="#310597"/><stop offset=".651" stop-color="#130789"/><stop offset=".668" stop-color="#100788"/><stop offset=".674" stop-color="#0d0887"/><stop offset=".744" stop-color="#0d0887"/><stop offset=".750" stop-color="#100788"/><stop offset=".779" stop-color="#16078a"/><stop offset=".847" stop-color="#310597"/><stop offset=".905" stop-color="#5502a4"/><stop offset=".958" stop-color="#7e03a8"/><stop offset=".983" stop-color="#9410a2"/><stop offset="1.000" stop-color="#a21d9a"/></linearGradient><linearGradient id="r71"><stop offset=".000" stop-color="#0d0887"/><stop offset=".124" stop-color="#0d0887"/><stop offset=".130" stop-color="#100788"/><stop offset=".151" stop-color="#100788"/><stop offset=".162" stop-color="#130789"/><stop offset=".248" stop-color="#220690"/><stop offset=".380" stop-color="#3e049c"/><stop offset=".445" stop-color="#44039e"/><stop offset=".540" stop-color="#330597"/><stop offset=".660" stop-color="#130789"/><stop offset=".676" stop-color="#100788"/><stop offset=".683" stop-color="#0d0887"/><stop offset=".750" stop-color="#0d0887"/><stop offset=".756" stop-color="#100788"/><stop offset=".786" stop-color="#16078a"/><stop offset=".851" stop-color="#310597"/><stop offset=".910" stop-color="#5502a4"/><stop offset=".962" stop-color="#7e03a8"/><stop offset=".998" stop-color="#9e199d"/><stop offset="1.000" stop-color="#a11b9b"/></linearGradient><linearGradient id="r72"><stop offset=".000" stop-color="#0d0887"/><stop offset=".120" stop-color="#0d0887"/><stop offset=".126" stop-color="#100788"/><stop offset=".147" stop-color="#100788"/><stop offset=".158" stop-color="#130789"/><stop offset=".239" stop-color="#220690"/><stop offset=".380" stop-color="#41049d"/><stop offset=".450" stop-color="#48039f"/><stop offset=".546" stop-color="#350498"/><stop offset=".679" stop-color="#100788"/><stop offset=".702" stop-color="#0d0887"/><stop offset=".756" stop-color="#0d0887"/><stop offset=".763" stop-color="#100788"/><stop offset=".798" stop-color="#19068c"/><stop offset=".872" stop-color="#3a049a"/><stop offset=".939" stop-color="#6700a8"/><stop offset=".975" stop-color="#8707a6"/><stop offset="1.000" stop-color="#9e199d"/></linearGradient><linearGradient id="r73"><stop offset=".000" stop-color="#0d0887"/><stop offset=".116" stop-color="#0d0887"/><stop offset=".122" stop-color="#100788"/><stop offset=".143" stop-color="#100788"/><stop offset=".153" stop-color="#130789"/><stop offset=".242" stop-color="#240691"/><stop offset=".380" stop-color="#44039e"/><stop offset=".443" stop-color="#4b03a1"/><stop offset=".513" stop-color="#41049d"/><stop offset=".674" stop-color="#130789"/><stop offset=".691" stop-color="#100788"/><stop offset=".697" stop-color="#0d0887"/><stop offset=".763" stop-color="#0d0887"/><stop offset=".769" stop-color="#100788"/><stop offset=".811" stop-color="#1b068d"/><stop offset=".876" stop-color="#3a049a"/><stop offset=".931" stop-color="#5e01a6"/><stop offset=".973" stop-color="#8305a7"/><stop offset="1.000" stop-color="#9c179e"/></linearGradient><linearGradient id="r74"><stop offset=".000" stop-color="#0d0887"/><stop offset=".111" stop-color="#0d0887"/><stop offset=".118" stop-color="#100788"/><stop offset=".139" stop-color="#100788"/><stop offset=".149" stop-color="#130789"/><stop offset=".244" stop-color="#260591"/><stop offset=".370" stop-color="#46039f"/><stop offset=".445" stop-color="#5002a2"/><stop offset=".527" stop-color="#41049d"/><stop offset=".691" stop-color="#100788"/><stop offset=".697" stop-color="#100788"/><stop offset=".704" stop-color="#0d0887"/><stop offset=".769" stop-color="#0d0887"/><stop offset=".775" stop-color="#100788"/><stop offset=".809" stop-color="#19068c"/><stop offset=".874" stop-color="#370499"/><stop offset=".931" stop-color="#5c01a6"/><stop offset=".975" stop-color="#8104a7"/><stop offset="1.000" stop-color="#99159f"/></linearGradient><linearGradient id="r75"><stop offset=".000" stop-color="#0d0887"/><stop offset=".107" stop-color="#0d0887"/><stop offset=".113" stop-color="#100788"/><stop offset=".134" stop-color="#100788"/><stop offset=".145" stop-color="#130789"/><stop offset=".235" stop-color="#260591"/><stop offset=".376" stop-color="#4b03a1"/><stop offset=".441" stop-color="#5502a4"/><stop offset=".523" stop-color="#46039f"/><stop offset=".679" stop-color="#16078a"/><stop offset=".704" stop-color="#100788"/><stop offset=".710" stop-color="#0d0887"/><stop offset=".775" stop-color="#0d0887"/><stop offset=".782" stop-color="#100788"/><stop offset=".826" stop-color="#1d068e"/><stop offset=".887" stop-color="#3c049b"/><stop offset=".941" stop-color="#6100a7"/><stop offset=".981" stop-color="#8405a7"/><stop offset="1.000" stop-color="#9613a1"/></linearGradient><linearGradient id="r76"><stop offset=".000" stop-color="#0d0887"/><stop offset=".105" stop-color="#0d0887"/><stop offset=".111" stop-color="#100788"/><stop offset=".130" stop-color="#100788"/><stop offset=".141" stop-color="#130789"/><stop offset=".221" stop-color="#240691"/><stop offset=".380" stop-color="#5002a2"/><stop offset=".443" stop-color="#5801a4"/><stop offset=".515" stop-color="#4c02a1"/><stop offset=".695" stop-color="#130789"/><stop offset=".712" stop-color="#100788"/><stop offset=".718" stop-color="#0d0887"/><stop offset=".779" stop-color="#0d0887"/><stop offset=".786" stop-color="#100788"/><stop offset=".803" stop-color="#130789"/><stop offset=".866" stop-color="#2e0595"/><stop offset=".920" stop-color="#5002a2"/><stop offset=".975" stop-color="#7d03a8"/><stop offset="1.000" stop-color="#9410a2"/></linearGradient><linearGradient id="r77"><stop offset=".000" stop-color="#0d0887"/><stop offset=".101" stop-color="#0d0887"/><stop offset=".107" stop-color="#100788"/><stop offset=".126" stop-color="#100788"/><stop offset=".137" stop-color="#130789"/><stop offset=".223" stop-color="#260591"/><stop offset=".382" stop-color="#5502a4"/><stop offset=".450" stop-color="#5c01a6"/><stop offset=".529" stop-color="#4c02a1"/><stop offset=".702" stop-color="#130789"/><stop offset=".718" stop-color="#100788"/><stop offset=".725" stop-color="#0d0887"/><stop offset=".786" stop-color="#0d0887"/><stop offset=".792" stop-color="#100788"/><stop offset=".830" stop-color="#1b068d"/><stop offset=".897" stop-color="#3e049c"/><stop offset=".962" stop-color="#6e00a8"/><stop offset=".992" stop-color="#8a09a5"/><stop offset="1.000" stop-color="#910ea3"/></linearGradient><linearGradient id="r78"><stop offset=".000" stop-color="#0d0887"/><stop offset=".099" stop-color="#0d0887"/><stop offset=".105" stop-color="#100788"/><stop offset=".124" stop-color="#100788"/><stop offset=".134" stop-color="#130789"/><stop offset=".216" stop-color="#260591"/><stop offset=".380" stop-color="#5801a4"/><stop offset=".445" stop-color="#6100a7"/><stop offset=".523" stop-color="#5302a3"/><stop offset=".700" stop-color="#16078a"/><stop offset=".725" stop-color="#100788"/><stop offset=".731" stop-color="#0d0887"/><stop offset=".790" stop-color="#0d0887"/><stop offset=".796" stop-color="#100788"/><stop offset=".813" stop-color="#130789"/><stop offset=".880" stop-color="#310597"/><stop offset=".941" stop-color="#5901a5"/><stop offset=".983" stop-color="#7e03a8"/><stop offset="1.000" stop-color="#8f0da4"/></linearGradient><linearGradient id="r79"><stop offset=".000" stop-color="#0d0887"/><stop offset=".097" stop-color="#0d0887"/><stop offset=".103" stop-color="#100788"/><stop offset=".120" stop-color="#100788"/><stop offset=".130" stop-color="#130789"/><stop offset=".204" stop-color="#240691"/><stop offset=".376" stop-color="#5b01a5"/><stop offset=".441" stop-color="#6600a7"/><stop offset=".511" stop-color="#5b01a5"/><stop offset=".626" stop-color="#330597"/><stop offset=".706" stop-color="#16078a"/><stop offset=".731" stop-color="#100788"/><stop offset=".746" stop-color="#0d0887"/><stop offset=".796" stop-color="#0d0887"/><stop offset=".803" stop-color="#100788"/><stop offset=".849" stop-color="#20068f"/><stop offset=".901" stop-color="#3c049b"/><stop offset=".966" stop-color="#6c00a8"/><stop offset=".998" stop-color="#8a09a5"/><stop offset="1.000" stop-color="#8d0ba5"/></linearGradient><linearGradient id="r80"><stop offset=".000" stop-color="#0d0887"/><stop offset=".092" stop-color="#0d0887"/><stop offset=".099" stop-color="#100788"/><stop offset=".118" stop-color="#100788"/><stop offset=".128" stop-color="#130789"/><stop offset=".206" stop-color="#260591"/><stop offset=".376" stop-color="#6001a6"/><stop offset=".441" stop-color="#6a00a8"/><stop offset=".504" stop-color="#6100a7"/><stop offset=".609" stop-color="#3e049c"/><stop offset=".704" stop-color="#19068c"/><stop offset=".735" stop-color="#100788"/><stop offset=".758" stop-color="#0d0887"/><stop offset=".800" stop-color="#0d0887"/><stop offset=".807" stop-color="#100788"/><stop offset=".830" stop-color="#16078a"/><stop offset=".891" stop-color="#330597"/><stop offset=".945" stop-color="#5801a4"/><stop offset=".989" stop-color="#8004a8"/><stop offset="1.000" stop-color="#8a09a5"/></linearGradient><linearGradient id="r81"><stop offset=".000" stop-color="#0d0887"/><stop offset=".090" stop-color="#0d0887"/><stop offset=".097" stop-color="#100788"/><stop offset=".113" stop-color="#100788"/><stop offset=".124" stop-color="#130789"/><stop offset=".193" stop-color="#240691"/><stop offset=".370" stop-color="#6300a7"/><stop offset=".437" stop-color="#6f00a8"/><stop offset=".492" stop-color="#6900a8"/><stop offset=".582" stop-color="#4c02a1"/><stop offset=".704" stop-color="#1b068d"/><stop offset=".742" stop-color="#100788"/><stop offset=".765" stop-color="#0d0887"/><stop offset=".807" stop-color="#0d0887"/><stop offset=".813" stop-color="#100788"/><stop offset=".857" stop-color="#20068f"/><stop offset=".914" stop-color="#3f049c"/><stop offset=".977" stop-color="#7100a8"/><stop offset="1.000" stop-color="#8707a6"/></linearGradient><linearGradient id="r82"><stop offset=".000" stop-color="#0d0887"/><stop offset=".088" stop-color="#0d0887"/><stop offset=".095" stop-color="#100788"/><stop offset=".111" stop-color="#100788"/><stop offset=".122" stop-color="#130789"/><stop offset=".195" stop-color="#260591"/><stop offset=".361" stop-color="#6400a7"/><stop offset=".431" stop-color="#7401a8"/><stop offset=".471" stop-color="#7201a8"/><stop offset=".546" stop-color="#5e01a6"/><stop offset=".706" stop-color="#1d068e"/><stop offset=".746" stop-color="#100788"/><stop offset=".769" stop-color="#0d0887"/><stop offset=".811" stop-color="#0d0887"/><stop offset=".817" stop-color="#100788"/><stop offset=".851" stop-color="#1b068d"/><stop offset=".910" stop-color="#3a049a"/><stop offset=".964" stop-color="#6300a7"/><stop offset=".998" stop-color="#8305a7"/><stop offset="1.000" stop-color="#8606a6"/></linearGradient><linearGradient id="r83"><stop offset=".000" stop-color="#0d0887"/><stop offset=".086" stop-color="#0d0887"/><stop offset=".092" stop-color="#100788"/><stop offset=".107" stop-color="#100788"/><stop offset=".118" stop-color="#130789"/><stop offset=".185" stop-color="#240691"/><stop offset=".349" stop-color="#6400a7"/><stop offset=".422" stop-color="#7801a8"/><stop offset=".466" stop-color="#7801a8"/><stop offset=".542" stop-color="#6400a7"/><stop offset=".666" stop-color="#2f0596"/><stop offset=".733" stop-color="#16078a"/><stop offset=".754" stop-color="#100788"/><stop offset=".769" stop-color="#0d0887"/><stop offset=".815" stop-color="#0d0887"/><stop offset=".821" stop-color="#100788"/><stop offset=".855" stop-color="#1b068d"/><stop offset=".918" stop-color="#3e049c"/><stop offset=".979" stop-color="#6e00a8"/><stop offset="1.000" stop-color="#8305a7"/></linearGradient><linearGradient id="r84"><stop offset=".000" stop-color="#0d0887"/><stop offset=".084" stop-color="#0d0887"/><stop offset=".090" stop-color="#100788"/><stop offset=".105" stop-color="#100788"/><stop offset=".116" stop-color="#130789"/><stop offset=".191" stop-color="#280592"/><stop offset=".345" stop-color="#6700a8"/><stop offset=".418" stop-color="#7d03a8"/><stop offset=".462" stop-color="#7e03a8"/><stop offset=".540" stop-color="#6a00a8"/><stop offset=".653" stop-color="#38049a"/><stop offset=".731" stop-color="#19068c"/><stop offset=".761" stop-color="#100788"/><stop offset=".775" stop-color="#0d0887"/><stop offset=".819" stop-color="#0d0887"/><stop offset=".826" stop-color="#100788"/><stop offset=".870" stop-color="#20068f"/><stop offset=".929" stop-color="#43039e"/><stop offset=".983" stop-color="#6f00a8"/><stop offset="1.000" stop-color="#8004a8"/></linearGradient><linearGradient id="r85"><stop offset=".000" stop-color="#0d0887"/><stop offset=".082" stop-color="#0d0887"/><stop offset=".088" stop-color="#100788"/><stop offset=".103" stop-color="#100788"/><stop offset=".113" stop-color="#130789"/><stop offset=".187" stop-color="#280592"/><stop offset=".307" stop-color="#5b01a5"/><stop offset=".389" stop-color="#7b02a8"/><stop offset=".443" stop-color="#8405a7"/><stop offset=".504" stop-color="#7b02a8"/><stop offset=".588" stop-color="#5b01a5"/><stop offset=".723" stop-color="#1d068e"/><stop offset=".754" stop-color="#130789"/><stop offset=".777" stop-color="#0d0887"/><stop offset=".824" stop-color="#0d0887"/><stop offset=".830" stop-color="#100788"/><stop offset=".868" stop-color="#1d068e"/><stop offset=".924" stop-color="#3e049c"/><stop offset=".981" stop-color="#6a00a8"/><stop offset="1.000" stop-color="#7d03a8"/></linearGradient><linearGradient id="r86"><stop offset=".000" stop-color="#0d0887"/><stop offset=".080" stop-color="#0d0887"/><stop offset=".086" stop-color="#100788"/><stop offset=".101" stop-color="#100788"/><stop offset=".111" stop-color="#130789"/><stop offset=".183" stop-color="#280592"/><stop offset=".282" stop-color="#5302a3"/><stop offset=".370" stop-color="#7a02a8"/><stop offset=".435" stop-color="#8a09a5"/><stop offset=".489" stop-color="#8405a7"/><stop offset=".571" stop-color="#6700a8"/><stop offset=".687" stop-color="#2f0596"/><stop offset=".750" stop-color="#16078a"/><stop offset=".771" stop-color="#100788"/><stop offset=".786" stop-color="#0d0887"/><stop offset=".828" stop-color="#0d0887"/><stop offset=".834" stop-color="#100788"/><stop offset=".872" stop-color="#1d068e"/><stop offset=".935" stop-color="#43039e"/><stop offset=".992" stop-color="#7201a8"/><stop offset="1.000" stop-color="#7b02a8"/></linearGradient><linearGradient id="r87"><stop offset=".000" stop-color="#0d0887"/><stop offset=".078" stop-color="#0d0887"/><stop offset=".084" stop-color="#100788"/><stop offset=".099" stop-color="#100788"/><stop offset=".109" stop-color="#130789"/><stop offset=".179" stop-color="#280592"/><stop offset=".271" stop-color="#5102a3"/><stop offset=".366" stop-color="#7d03a8"/><stop offset=".420" stop-color="#8d0ba5"/><stop offset=".464" stop-color="#8e0ca4"/><stop offset=".534" stop-color="#7d03a8"/><stop offset=".626" stop-color="#5102a3"/><stop offset=".714" stop-color="#260591"/><stop offset=".775" stop-color="#100788"/><stop offset=".790" stop-color="#0d0887"/><stop offset=".832" stop-color="#0d0887"/><stop offset=".838" stop-color="#100788"/><stop offset=".870" stop-color="#1b068d"/><stop offset=".922" stop-color="#38049a"/><stop offset=".973" stop-color="#5e01a6"/><stop offset="1.000" stop-color="#7801a8"/></linearGradient><linearGradient id="r88"><stop offset=".000" stop-color="#0d0887"/><stop offset=".076" stop-color="#0d0887"/><stop offset=".082" stop-color="#100788"/><stop offset=".097" stop-color="#100788"/><stop offset=".107" stop-color="#130789"/><stop offset=".174" stop-color="#280592"/><stop offset=".265" stop-color="#5102a3"/><stop offset=".353" stop-color="#7d03a8"/><stop offset=".414" stop-color="#910ea3"/><stop offset=".452" stop-color="#9511a1"/><stop offset=".523" stop-color="#8606a6"/><stop offset=".601" stop-color="#6300a7"/><stop offset=".721" stop-color="#260591"/><stop offset=".779" stop-color="#100788"/><stop offset=".803" stop-color="#0d0887"/><stop offset=".836" stop-color="#0d0887"/><stop offset=".842" stop-color="#100788"/><stop offset=".884" stop-color="#20068f"/><stop offset=".950" stop-color="#4903a0"/><stop offset="1.000" stop-color="#7701a8"/></linearGradient><linearGradient id="r89"><stop offset=".000" stop-color="#0d0887"/><stop offset=".074" stop-color="#0d0887"/><stop offset=".080" stop-color="#100788"/><stop offset=".092" stop-color="#100788"/><stop offset=".103" stop-color="#130789"/><stop offset=".166" stop-color="#260591"/><stop offset=".258" stop-color="#5102a3"/><stop offset=".342" stop-color="#7d03a8"/><stop offset=".403" stop-color="#9410a2"/><stop offset=".452" stop-color="#9a169f"/><stop offset=".523" stop-color="#8b0aa5"/><stop offset=".590" stop-color="#6e00a8"/><stop offset=".689" stop-color="#38049a"/><stop offset=".752" stop-color="#1b068d"/><stop offset=".786" stop-color="#100788"/><stop offset=".800" stop-color="#0d0887"/><stop offset=".840" stop-color="#0d0887"/><stop offset=".847" stop-color="#100788"/><stop offset=".891" stop-color="#220690"/><stop offset=".947" stop-color="#46039f"/><stop offset="1.000" stop-color="#7401a8"/></linearGradient><linearGradient id="r90"><stop offset=".000" stop-color="#0d0887"/><stop offset=".071" stop-color="#0d0887"/><stop offset=".078" stop-color="#100788"/><stop offset=".090" stop-color="#100788"/><stop offset=".101" stop-color="#130789"/><stop offset=".172" stop-color="#2a0593"/><stop offset=".258" stop-color="#5502a4"/><stop offset=".336" stop-color="#7e03a8"/><stop offset=".397" stop-color="#9814a0"/><stop offset=".447" stop-color="#a01a9c"/><stop offset=".515" stop-color="#9410a2"/><stop offset=".586" stop-color="#7501a8"/><stop offset=".672" stop-color="#44039e"/><stop offset=".742" stop-color="#220690"/><stop offset=".779" stop-color="#130789"/><stop offset=".803" stop-color="#0d0887"/><stop offset=".845" stop-color="#0d0887"/><stop offset=".851" stop-color="#100788"/><stop offset=".901" stop-color="#260591"/><stop offset=".947" stop-color="#44039e"/><stop offset=".998" stop-color="#6f00a8"/><stop offset="1.000" stop-color="#7201a8"/></linearGradient><linearGradient id="r91"><stop offset=".000" stop-color="#0d0887"/><stop offset=".071" stop-color="#0d0887"/><stop offset=".078" stop-color="#100788"/><stop offset=".090" stop-color="#100788"/><stop offset=".101" stop-color="#130789"/><stop offset=".168" stop-color="#2a0593"/><stop offset=".250" stop-color="#5302a3"/><stop offset=".326" stop-color="#7e03a8"/><stop offset=".393" stop-color="#9c179e"/><stop offset=".445" stop-color="#a51f99"/><stop offset=".506" stop-color="#9c179e"/><stop offset=".576" stop-color="#8004a8"/><stop offset=".649" stop-color="#5601a4"/><stop offset=".721" stop-color="#2e0595"/><stop offset=".784" stop-color="#130789"/><stop offset=".807" stop-color="#0d0887"/><stop offset=".849" stop-color="#0d0887"/><stop offset=".855" stop-color="#100788"/><stop offset=".893" stop-color="#20068f"/><stop offset=".941" stop-color="#3e049c"/><stop offset=".987" stop-color="#6300a7"/><stop offset="1.000" stop-color="#6f00a8"/></linearGradient><linearGradient id="r92"><stop offset=".000" stop-color="#0d0887"/><stop offset=".069" stop-color="#0d0887"/><stop offset=".076" stop-color="#100788"/><stop offset=".088" stop-color="#100788"/><stop offset=".099" stop-color="#130789"/><stop offset=".170" stop-color="#2c0594"/><stop offset=".258" stop-color="#5b01a5"/><stop offset=".324" stop-color="#8104a7"/><stop offset=".378" stop-color="#9c179e"/><stop offset=".435" stop-color="#aa2395"/><stop offset=".492" stop-color="#a51f99"/><stop offset=".559" stop-color="#8d0ba5"/><stop offset=".613" stop-color="#6f00a8"/><stop offset=".700" stop-color="#3c049b"/><stop offset=".773" stop-color="#19068c"/><stop offset=".798" stop-color="#100788"/><stop offset=".813" stop-color="#0d0887"/><stop offset=".851" stop-color="#0d0887"/><stop offset=".857" stop-color="#100788"/><stop offset=".908" stop-color="#260591"/><stop offset=".964" stop-color="#4c02a1"/><stop offset="1.000" stop-color="#6e00a8"/></linearGradient><linearGradient id="r93"><stop offset=".000" stop-color="#0d0887"/><stop offset=".067" stop-color="#0d0887"/><stop offset=".074" stop-color="#100788"/><stop offset=".086" stop-color="#100788"/><stop offset=".097" stop-color="#130789"/><stop offset=".166" stop-color="#2c0594"/><stop offset=".250" stop-color="#5901a5"/><stop offset=".311" stop-color="#8004a8"/><stop offset=".378" stop-color="#a11b9b"/><stop offset=".439" stop-color="#b02991"/><stop offset=".502" stop-color="#a72197"/><stop offset=".565" stop-color="#8f0da4"/><stop offset=".613" stop-color="#7501a8"/><stop offset=".691" stop-color="#44039e"/><stop offset=".767" stop-color="#1d068e"/><stop offset=".803" stop-color="#100788"/><stop offset=".817" stop-color="#0d0887"/><stop offset=".855" stop-color="#0d0887"/><stop offset=".861" stop-color="#100788"/><stop offset=".899" stop-color="#20068f"/><stop offset=".954" stop-color="#43039e"/><stop offset="1.000" stop-color="#6a00a8"/></linearGradient><linearGradient id="r94"><stop offset=".000" stop-color="#0d0887"/><stop offset=".067" stop-color="#0d0887"/><stop offset=".074" stop-color="#100788"/><stop offset=".084" stop-color="#100788"/><stop offset=".095" stop-color="#130789"/><stop offset=".168" stop-color="#2e0595"/><stop offset=".252" stop-color="#5e01a6"/><stop offset=".309" stop-color="#8305a7"/><stop offset=".374" stop-color="#a51f99"/><stop offset=".437" stop-color="#b42e8d"/><stop offset=".494" stop-color="#ae2892"/><stop offset=".553" stop-color="#9a169f"/><stop offset=".613" stop-color="#7a02a8"/><stop offset=".683" stop-color="#4c02a1"/><stop offset=".771" stop-color="#1d068e"/><stop offset=".807" stop-color="#100788"/><stop offset=".821" stop-color="#0d0887"/><stop offset=".859" stop-color="#0d0887"/><stop offset=".866" stop-color="#100788"/><stop offset=".910" stop-color="#240691"/><stop offset=".960" stop-color="#46039f"/><stop offset="1.000" stop-color="#6900a8"/></linearGradient><linearGradient id="r95"><stop offset=".000" stop-color="#0d0887"/><stop offset=".065" stop-color="#0d0887"/><stop offset=".071" stop-color="#100788"/><stop offset=".082" stop-color="#100788"/><stop offset=".092" stop-color="#130789"/><stop offset=".155" stop-color="#2a0593"/><stop offset=".227" stop-color="#5102a3"/><stop offset=".294" stop-color="#7e03a8"/><stop offset=".368" stop-color="#a72197"/><stop offset=".433" stop-color="#b83289"/><stop offset=".485" stop-color="#b52f8c"/><stop offset=".550" stop-color="#a11b9b"/><stop offset=".613" stop-color="#7e03a8"/><stop offset=".683" stop-color="#5102a3"/><stop offset=".756" stop-color="#260591"/><stop offset=".800" stop-color="#130789"/><stop offset=".824" stop-color="#0d0887"/><stop offset=".861" stop-color="#0d0887"/><stop offset=".868" stop-color="#100788"/><stop offset=".905" stop-color="#20068f"/><stop offset=".956" stop-color="#41049d"/><stop offset="1.000" stop-color="#6700a8"/></linearGradient><linearGradient id="r96"><stop offset=".000" stop-color="#0d0887"/><stop offset=".063" stop-color="#0d0887"/><stop offset=".069" stop-color="#100788"/><stop offset=".080" stop-color="#100788"/><stop offset=".090" stop-color="#130789"/><stop offset=".143" stop-color="#260591"/><stop offset=".212" stop-color="#4b03a1"/><stop offset=".282" stop-color="#7a02a8"/><stop offset=".328" stop-color="#9814a0"/><stop offset=".387" stop-color="#b32c8e"/><stop offset=".443" stop-color="#be3885"/><stop offset=".504" stop-color="#b6308b"/><stop offset=".569" stop-color="#9d189d"/><stop offset=".626" stop-color="#7b02a8"/><stop offset=".695" stop-color="#4c02a1"/><stop offset=".775" stop-color="#20068f"/><stop offset=".813" stop-color="#100788"/><stop offset=".836" stop-color="#0d0887"/><stop offset=".866" stop-color="#0d0887"/><stop offset=".872" stop-color="#100788"/><stop offset=".922" stop-color="#280592"/><stop offset=".981" stop-color="#5302a3"/><stop offset="1.000" stop-color="#6400a7"/></linearGradient><linearGradient id="r97"><stop offset=".000" stop-color="#0d0887"/><stop offset=".063" stop-color="#0d0887"/><stop offset=".069" stop-color="#100788"/><stop offset=".099" stop-color="#16078a"/><stop offset=".164" stop-color="#310597"/><stop offset=".237" stop-color="#5e01a6"/><stop offset=".288" stop-color="#8305a7"/><stop offset=".351" stop-color="#a82296"/><stop offset=".408" stop-color="#be3885"/><stop offset=".452" stop-color="#c33d80"/><stop offset=".517" stop-color="#b7318a"/><stop offset=".580" stop-color="#9d189d"/><stop offset=".632" stop-color="#7d03a8"/><stop offset=".697" stop-color="#4e02a2"/><stop offset=".779" stop-color="#20068f"/><stop offset=".817" stop-color="#100788"/><stop offset=".840" stop-color="#0d0887"/><stop offset=".868" stop-color="#0d0887"/><stop offset=".874" stop-color="#100788"/><stop offset=".914" stop-color="#220690"/><stop offset=".971" stop-color="#48039f"/><stop offset="1.000" stop-color="#6300a7"/></linearGradient><linearGradient id="r98"><stop offset=".000" stop-color="#0d0887"/><stop offset=".061" stop-color="#0d0887"/><stop offset=".067" stop-color="#100788"/><stop offset=".078" stop-color="#100788"/><stop offset=".151" stop-color="#2c0594"/><stop offset=".221" stop-color="#5601a4"/><stop offset=".277" stop-color="#8004a8"/><stop offset=".338" stop-color="#a72197"/><stop offset=".397" stop-color="#c03a83"/><stop offset=".447" stop-color="#c7427c"/><stop offset=".504" stop-color="#c03a83"/><stop offset=".567" stop-color="#a82296"/><stop offset=".634" stop-color="#8004a8"/><stop offset=".691" stop-color="#5601a4"/><stop offset=".767" stop-color="#280592"/><stop offset=".813" stop-color="#130789"/><stop offset=".832" stop-color="#0d0887"/><stop offset=".870" stop-color="#0d0887"/><stop offset=".876" stop-color="#100788"/><stop offset=".914" stop-color="#20068f"/><stop offset=".973" stop-color="#48039f"/><stop offset="1.000" stop-color="#6100a7"/></linearGradient><linearGradient id="r99"><stop offset=".000" stop-color="#0d0887"/><stop offset=".059" stop-color="#0d0887"/><stop offset=".065" stop-color="#100788"/><stop offset=".076" stop-color="#100788"/><stop offset=".147" stop-color="#2c0594"/><stop offset=".210" stop-color="#5102a3"/><stop offset=".271" stop-color="#7e03a8"/><stop offset=".328" stop-color="#a62098"/><stop offset=".389" stop-color="#c23c81"/><stop offset=".445" stop-color="#cc4778"/><stop offset=".506" stop-color="#c43e7f"/><stop offset=".569" stop-color="#ac2694"/><stop offset=".639" stop-color="#8104a7"/><stop offset=".693" stop-color="#5901a5"/><stop offset=".761" stop-color="#2e0595"/><stop offset=".815" stop-color="#130789"/><stop offset=".838" stop-color="#0d0887"/><stop offset=".874" stop-color="#0d0887"/><stop offset=".880" stop-color="#100788"/><stop offset=".922" stop-color="#240691"/><stop offset=".975" stop-color="#48039f"/><stop offset="1.000" stop-color="#6001a6"/></linearGradient><linearGradient id="r100"><stop offset=".000" stop-color="#0d0887"/><stop offset=".059" stop-color="#0d0887"/><stop offset=".065" stop-color="#100788"/><stop offset=".101" stop-color="#19068c"/><stop offset=".170" stop-color="#3a049a"/><stop offset=".237" stop-color="#6900a8"/><stop offset=".275" stop-color="#8707a6"/><stop offset=".340" stop-color="#b22b8f"/><stop offset=".401" stop-color="#ca457a"/><stop offset=".452" stop-color="#d04d73"/><stop offset=".517" stop-color="#c6417d"/><stop offset=".582" stop-color="#ab2494"/><stop offset=".647" stop-color="#8004a8"/><stop offset=".702" stop-color="#5601a4"/><stop offset=".786" stop-color="#220690"/><stop offset=".819" stop-color="#130789"/><stop offset=".842" stop-color="#0d0887"/><stop offset=".876" stop-color="#0d0887"/><stop offset=".882" stop-color="#100788"/><stop offset=".929" stop-color="#260591"/><stop offset=".975" stop-color="#46039f"/><stop offset="1.000" stop-color="#5e01a6"/></linearGradient><linearGradient id="r101"><stop offset=".000" stop-color="#0d0887"/><stop offset=".057" stop-color="#0d0887"/><stop offset=".063" stop-color="#100788"/><stop offset=".074" stop-color="#100788"/><stop offset=".134" stop-color="#280592"/><stop offset=".200" stop-color="#5002a2"/><stop offset=".258" stop-color="#7d03a8"/><stop offset=".300" stop-color="#9d189d"/><stop offset=".357" stop-color="#bf3984"/><stop offset=".420" stop-color="#d24f71"/><stop offset=".462" stop-color="#d45270"/><stop offset=".529" stop-color="#c6417d"/><stop offset=".592" stop-color="#aa2395"/><stop offset=".651" stop-color="#8104a7"/><stop offset=".702" stop-color="#5b01a5"/><stop offset=".775" stop-color="#2a0593"/><stop offset=".821" stop-color="#130789"/><stop offset=".845" stop-color="#0d0887"/><stop offset=".878" stop-color="#0d0887"/><stop offset=".884" stop-color="#100788"/><stop offset=".931" stop-color="#260591"/><stop offset=".979" stop-color="#4903a0"/><stop offset="1.000" stop-color="#5b01a5"/></linearGradient><linearGradient id="r102"><stop offset=".000" stop-color="#0d0887"/><stop offset=".057" stop-color="#0d0887"/><stop offset=".063" stop-color="#100788"/><stop offset=".097" stop-color="#19068c"/><stop offset=".155" stop-color="#350498"/><stop offset=".214" stop-color="#5c01a6"/><stop offset=".258" stop-color="#8104a7"/><stop offset=".307" stop-color="#a62098"/><stop offset=".366" stop-color="#c7427c"/><stop offset=".429" stop-color="#d7566c"/><stop offset=".477" stop-color="#d6556d"/><stop offset=".542" stop-color="#c6417d"/><stop offset=".607" stop-color="#a62098"/><stop offset=".658" stop-color="#8104a7"/><stop offset=".706" stop-color="#5b01a5"/><stop offset=".782" stop-color="#280592"/><stop offset=".834" stop-color="#100788"/><stop offset=".857" stop-color="#0d0887"/><stop offset=".882" stop-color="#0d0887"/><stop offset=".889" stop-color="#100788"/><stop offset=".939" stop-color="#2a0593"/><stop offset="1.000" stop-color="#5901a5"/></linearGradient><linearGradient id="r103"><stop offset=".000" stop-color="#0d0887"/><stop offset=".055" stop-color="#0d0887"/><stop offset=".061" stop-color="#100788"/><stop offset=".101" stop-color="#1b068d"/><stop offset=".155" stop-color="#370499"/><stop offset=".214" stop-color="#6001a6"/><stop offset=".254" stop-color="#8305a7"/><stop offset=".303" stop-color="#a82296"/><stop offset=".366" stop-color="#cb4679"/><stop offset=".422" stop-color="#da5b69"/><stop offset=".475" stop-color="#da5b69"/><stop offset=".538" stop-color="#cc4778"/><stop offset=".601" stop-color="#ae2892"/><stop offset=".655" stop-color="#8707a6"/><stop offset=".695" stop-color="#6600a7"/><stop offset=".773" stop-color="#2f0596"/><stop offset=".828" stop-color="#130789"/><stop offset=".851" stop-color="#0d0887"/><stop offset=".884" stop-color="#0d0887"/><stop offset=".891" stop-color="#100788"/><stop offset=".935" stop-color="#260591"/><stop offset=".989" stop-color="#4e02a2"/><stop offset="1.000" stop-color="#5801a4"/></linearGradient><linearGradient id="r104"><stop offset=".000" stop-color="#0d0887"/><stop offset=".055" stop-color="#0d0887"/><stop offset=".061" stop-color="#100788"/><stop offset=".078" stop-color="#130789"/><stop offset=".130" stop-color="#2a0593"/><stop offset=".187" stop-color="#4e02a2"/><stop offset=".244" stop-color="#7d03a8"/><stop offset=".286" stop-color="#a01a9c"/><stop offset=".336" stop-color="#c13b82"/><stop offset=".395" stop-color="#d9586a"/><stop offset=".447" stop-color="#e06363"/><stop offset=".506" stop-color="#d9586a"/><stop offset=".571" stop-color="#c23c81"/><stop offset=".626" stop-color="#a21d9a"/><stop offset=".670" stop-color="#8004a8"/><stop offset=".721" stop-color="#5601a4"/><stop offset=".792" stop-color="#260591"/><stop offset=".840" stop-color="#100788"/><stop offset=".855" stop-color="#0d0887"/><stop offset=".887" stop-color="#0d0887"/><stop offset=".893" stop-color="#100788"/><stop offset=".937" stop-color="#260591"/><stop offset=".992" stop-color="#4e02a2"/><stop offset="1.000" stop-color="#5601a4"/></linearGradient><linearGradient id="r105"><stop offset=".000" stop-color="#0d0887"/><stop offset=".053" stop-color="#0d0887"/><stop offset=".059" stop-color="#100788"/><stop offset=".092" stop-color="#19068c"/><stop offset=".147" stop-color="#350498"/><stop offset=".208" stop-color="#6100a7"/><stop offset=".248" stop-color="#8405a7"/><stop offset=".296" stop-color="#ac2694"/><stop offset=".349" stop-color="#cc4778"/><stop offset=".408" stop-color="#df6263"/><stop offset=".450" stop-color="#e4695e"/><stop offset=".508" stop-color="#dc5d67"/><stop offset=".571" stop-color="#c6417d"/><stop offset=".632" stop-color="#a21d9a"/><stop offset=".676" stop-color="#7e03a8"/><stop offset=".731" stop-color="#5102a3"/><stop offset=".796" stop-color="#260591"/><stop offset=".842" stop-color="#100788"/><stop offset=".866" stop-color="#0d0887"/><stop offset=".889" stop-color="#0d0887"/><stop offset=".895" stop-color="#100788"/><stop offset=".939" stop-color="#260591"/><stop offset=".989" stop-color="#4b03a1"/><stop offset="1.000" stop-color="#5502a4"/></linearGradient><linearGradient id="r106"><stop offset=".000" stop-color="#0d0887"/><stop offset=".053" stop-color="#0d0887"/><stop offset=".059" stop-color="#100788"/><stop offset=".097" stop-color="#1b068d"/><stop offset=".155" stop-color="#3c049b"/><stop offset=".221" stop-color="#6f00a8"/><stop offset=".250" stop-color="#8a09a5"/><stop offset=".303" stop-color="#b52f8c"/><stop offset=".363" stop-color="#d6556d"/><stop offset=".422" stop-color="#e56b5d"/><stop offset=".477" stop-color="#e56b5d"/><stop offset=".542" stop-color="#d6556d"/><stop offset=".607" stop-color="#b7318a"/><stop offset=".666" stop-color="#8b0aa5"/><stop offset=".697" stop-color="#7100a8"/><stop offset=".767" stop-color="#3a049a"/><stop offset=".836" stop-color="#130789"/><stop offset=".859" stop-color="#0d0887"/><stop offset=".891" stop-color="#0d0887"/><stop offset=".897" stop-color="#100788"/><stop offset=".941" stop-color="#260591"/><stop offset=".987" stop-color="#48039f"/><stop offset="1.000" stop-color="#5302a3"/></linearGradient><linearGradient id="r107"><stop offset=".000" stop-color="#0d0887"/><stop offset=".050" stop-color="#0d0887"/><stop offset=".057" stop-color="#100788"/><stop offset=".074" stop-color="#130789"/><stop offset=".120" stop-color="#280592"/><stop offset=".179" stop-color="#4e02a2"/><stop offset=".231" stop-color="#7d03a8"/><stop offset=".267" stop-color="#9d189d"/><stop offset=".317" stop-color="#c33d80"/><stop offset=".376" stop-color="#de6164"/><stop offset=".431" stop-color="#e97257"/><stop offset=".475" stop-color="#e97158"/><stop offset=".538" stop-color="#db5c68"/><stop offset=".603" stop-color="#be3885"/><stop offset=".666" stop-color="#8f0da4"/><stop offset=".695" stop-color="#7501a8"/><stop offset=".756" stop-color="#44039e"/><stop offset=".821" stop-color="#1b068d"/><stop offset=".859" stop-color="#0d0887"/><stop offset=".893" stop-color="#0d0887"/><stop offset=".899" stop-color="#100788"/><stop offset=".939" stop-color="#240691"/><stop offset=".983" stop-color="#43039e"/><stop offset="1.000" stop-color="#5302a3"/></linearGradient><linearGradient id="r108"><stop offset=".000" stop-color="#0d0887"/><stop offset=".050" stop-color="#0d0887"/><stop offset=".057" stop-color="#100788"/><stop offset=".080" stop-color="#16078a"/><stop offset=".137" stop-color="#330597"/><stop offset=".200" stop-color="#6300a7"/><stop offset=".233" stop-color="#8305a7"/><stop offset=".275" stop-color="#a82296"/><stop offset=".326" stop-color="#cc4778"/><stop offset=".384" stop-color="#e56a5d"/><stop offset=".439" stop-color="#ed7a52"/><stop offset=".489" stop-color="#ea7457"/><stop offset=".557" stop-color="#d8576b"/><stop offset=".618" stop-color="#b83289"/><stop offset=".672" stop-color="#8e0ca4"/><stop offset=".702" stop-color="#7401a8"/><stop offset=".769" stop-color="#3e049c"/><stop offset=".826" stop-color="#1b068d"/><stop offset=".853" stop-color="#100788"/><stop offset=".868" stop-color="#0d0887"/><stop offset=".895" stop-color="#0d0887"/><stop offset=".901" stop-color="#100788"/><stop offset=".947" stop-color="#280592"/><stop offset="1.000" stop-color="#5102a3"/></linearGradient><linearGradient id="r109"><stop offset=".000" stop-color="#0d0887"/><stop offset=".048" stop-color="#0d0887"/><stop offset=".055" stop-color="#100788"/><stop offset=".071" stop-color="#130789"/><stop offset=".132" stop-color="#310597"/><stop offset=".189" stop-color="#5c01a6"/><stop offset=".227" stop-color="#8104a7"/><stop offset=".263" stop-color="#a21d9a"/><stop offset=".315" stop-color="#ca457a"/><stop offset=".378" stop-color="#e66c5c"/><stop offset=".429" stop-color="#ef7e50"/><stop offset=".462" stop-color="#f07f4f"/><stop offset=".521" stop-color="#e76e5b"/><stop offset=".588" stop-color="#cd4a76"/><stop offset=".649" stop-color="#a62098"/><stop offset=".689" stop-color="#8305a7"/><stop offset=".731" stop-color="#5e01a6"/><stop offset=".798" stop-color="#2c0594"/><stop offset=".845" stop-color="#130789"/><stop offset=".868" stop-color="#0d0887"/><stop offset=".897" stop-color="#0d0887"/><stop offset=".903" stop-color="#100788"/><stop offset=".939" stop-color="#220690"/><stop offset=".987" stop-color="#44039e"/><stop offset="1.000" stop-color="#5002a2"/></linearGradient><linearGradient id="r110"><stop offset=".000" stop-color="#0d0887"/><stop offset=".048" stop-color="#0d0887"/><stop offset=".055" stop-color="#100788"/><stop offset=".095" stop-color="#1d068e"/><stop offset=".147" stop-color="#3e049c"/><stop offset=".197" stop-color="#6700a8"/><stop offset=".227" stop-color="#8405a7"/><stop offset=".267" stop-color="#aa2395"/><stop offset=".317" stop-color="#ce4b75"/><stop offset=".374" stop-color="#e76f5a"/><stop offset=".418" stop-color="#f1814d"/><stop offset=".458" stop-color="#f3854b"/><stop offset=".511" stop-color="#ec7754"/><stop offset=".576" stop-color="#d7566c"/><stop offset=".637" stop-color="#b32c8e"/><stop offset=".683" stop-color="#8d0ba5"/><stop offset=".712" stop-color="#7201a8"/><stop offset=".779" stop-color="#3a049a"/><stop offset=".840" stop-color="#16078a"/><stop offset=".868" stop-color="#0d0887"/><stop offset=".897" stop-color="#0d0887"/><stop offset=".903" stop-color="#100788"/><stop offset=".937" stop-color="#20068f"/><stop offset=".989" stop-color="#44039e"/><stop offset="1.000" stop-color="#4e02a2"/></linearGradient><linearGradient id="r111"><stop offset=".000" stop-color="#0d0887"/><stop offset=".046" stop-color="#0d0887"/><stop offset=".053" stop-color="#100788"/><stop offset=".069" stop-color="#130789"/><stop offset=".124" stop-color="#2f0596"/><stop offset=".183" stop-color="#5c01a6"/><stop offset=".218" stop-color="#8004a8"/><stop offset=".256" stop-color="#a51f99"/><stop offset=".311" stop-color="#ce4b75"/><stop offset=".368" stop-color="#e97158"/><stop offset=".418" stop-color="#f48849"/><stop offset=".456" stop-color="#f58b47"/><stop offset=".502" stop-color="#f0804e"/><stop offset=".561" stop-color="#e06363"/><stop offset=".622" stop-color="#c13b82"/><stop offset=".681" stop-color="#920fa3"/><stop offset=".708" stop-color="#7801a8"/><stop offset=".763" stop-color="#4903a0"/><stop offset=".824" stop-color="#20068f"/><stop offset=".851" stop-color="#130789"/><stop offset=".870" stop-color="#0d0887"/><stop offset=".899" stop-color="#0d0887"/><stop offset=".905" stop-color="#100788"/><stop offset=".945" stop-color="#240691"/><stop offset="1.000" stop-color="#4c02a1"/></linearGradient><linearGradient id="r112"><stop offset=".000" stop-color="#0d0887"/><stop offset=".046" stop-color="#0d0887"/><stop offset=".053" stop-color="#100788"/><stop offset=".086" stop-color="#1b068d"/><stop offset=".143" stop-color="#3e049c"/><stop offset=".197" stop-color="#6e00a8"/><stop offset=".225" stop-color="#8a09a5"/><stop offset=".263" stop-color="#ae2892"/><stop offset=".319" stop-color="#d7566c"/><stop offset=".378" stop-color="#ef7c51"/><stop offset=".422" stop-color="#f68f44"/><stop offset=".468" stop-color="#f79044"/><stop offset=".521" stop-color="#ef7e50"/><stop offset=".584" stop-color="#da5a6a"/><stop offset=".649" stop-color="#b12a90"/><stop offset=".693" stop-color="#8a09a5"/><stop offset=".725" stop-color="#6e00a8"/><stop offset=".790" stop-color="#370499"/><stop offset=".840" stop-color="#19068c"/><stop offset=".872" stop-color="#0d0887"/><stop offset=".901" stop-color="#0d0887"/><stop offset=".908" stop-color="#100788"/><stop offset=".947" stop-color="#240691"/><stop offset=".996" stop-color="#48039f"/><stop offset="1.000" stop-color="#4c02a1"/></linearGradient><linearGradient id="r113"><stop offset=".000" stop-color="#0d0887"/><stop offset=".046" stop-color="#0d0887"/><stop offset=".053" stop-color="#100788"/><stop offset=".084" stop-color="#1b068d"/><stop offset=".132" stop-color="#38049a"/><stop offset=".179" stop-color="#5e01a6"/><stop offset=".214" stop-color="#8305a7"/><stop offset=".252" stop-color="#a82296"/><stop offset=".305" stop-color="#d24f71"/><stop offset=".363" stop-color="#ed7a52"/><stop offset=".414" stop-color="#f79342"/><stop offset=".452" stop-color="#f9983e"/><stop offset=".502" stop-color="#f58c46"/><stop offset=".569" stop-color="#e3685f"/><stop offset=".630" stop-color="#c23c81"/><stop offset=".687" stop-color="#9410a2"/><stop offset=".712" stop-color="#7b02a8"/><stop offset=".765" stop-color="#4c02a1"/><stop offset=".821" stop-color="#240691"/><stop offset=".855" stop-color="#130789"/><stop offset=".874" stop-color="#0d0887"/><stop offset=".903" stop-color="#0d0887"/><stop offset=".910" stop-color="#100788"/><stop offset=".945" stop-color="#220690"/><stop offset=".989" stop-color="#41049d"/><stop offset="1.000" stop-color="#4b03a1"/></linearGradient><linearGradient id="r114"><stop offset=".000" stop-color="#0d0887"/><stop offset=".044" stop-color="#0d0887"/><stop offset=".050" stop-color="#100788"/><stop offset=".088" stop-color="#1d068e"/><stop offset=".147" stop-color="#44039e"/><stop offset=".200" stop-color="#7701a8"/><stop offset=".223" stop-color="#8f0da4"/><stop offset=".267" stop-color="#ba3388"/><stop offset=".324" stop-color="#e06363"/><stop offset=".382" stop-color="#f58b47"/><stop offset=".429" stop-color="#fa9c3c"/><stop offset=".473" stop-color="#fa9b3d"/><stop offset=".525" stop-color="#f3874a"/><stop offset=".592" stop-color="#db5c68"/><stop offset=".653" stop-color="#b42e8d"/><stop offset=".697" stop-color="#8d0ba5"/><stop offset=".725" stop-color="#7201a8"/><stop offset=".788" stop-color="#3c049b"/><stop offset=".845" stop-color="#19068c"/><stop offset=".876" stop-color="#0d0887"/><stop offset=".903" stop-color="#0d0887"/><stop offset=".910" stop-color="#100788"/><stop offset=".950" stop-color="#240691"/><stop offset="1.000" stop-color="#4903a0"/></linearGradient><linearGradient id="r115"><stop offset=".000" stop-color="#0d0887"/><stop offset=".044" stop-color="#0d0887"/><stop offset=".050" stop-color="#100788"/><stop offset=".076" stop-color="#19068c"/><stop offset=".124" stop-color="#350498"/><stop offset=".174" stop-color="#6001a6"/><stop offset=".206" stop-color="#8104a7"/><stop offset=".242" stop-color="#a62098"/><stop offset=".294" stop-color="#d24f71"/><stop offset=".353" stop-color="#ef7e50"/><stop offset=".403" stop-color="#fa9b3d"/><stop offset=".441" stop-color="#fca338"/><stop offset=".479" stop-color="#fb9f3a"/><stop offset=".527" stop-color="#f58b47"/><stop offset=".588" stop-color="#e06363"/><stop offset=".647" stop-color="#bc3587"/><stop offset=".697" stop-color="#8f0da4"/><stop offset=".725" stop-color="#7501a8"/><stop offset=".782" stop-color="#43039e"/><stop offset=".845" stop-color="#19068c"/><stop offset=".878" stop-color="#0d0887"/><stop offset=".905" stop-color="#0d0887"/><stop offset=".912" stop-color="#100788"/><stop offset=".947" stop-color="#220690"/><stop offset=".992" stop-color="#41049d"/><stop offset="1.000" stop-color="#4903a0"/></linearGradient><linearGradient id="r116"><stop offset=".000" stop-color="#0d0887"/><stop offset=".042" stop-color="#0d0887"/><stop offset=".048" stop-color="#100788"/><stop offset=".080" stop-color="#1b068d"/><stop offset=".130" stop-color="#3c049b"/><stop offset=".181" stop-color="#6900a8"/><stop offset=".208" stop-color="#8707a6"/><stop offset=".244" stop-color="#ac2694"/><stop offset=".296" stop-color="#d6556d"/><stop offset=".351" stop-color="#f1814d"/><stop offset=".399" stop-color="#fb9f3a"/><stop offset=".445" stop-color="#fdab33"/><stop offset=".496" stop-color="#fb9f3a"/><stop offset=".548" stop-color="#f1834c"/><stop offset=".607" stop-color="#d9586a"/><stop offset=".670" stop-color="#ac2694"/><stop offset=".710" stop-color="#8707a6"/><stop offset=".739" stop-color="#6a00a8"/><stop offset=".807" stop-color="#310597"/><stop offset=".859" stop-color="#130789"/><stop offset=".882" stop-color="#0d0887"/><stop offset=".905" stop-color="#0d0887"/><stop offset=".912" stop-color="#100788"/><stop offset=".941" stop-color="#1d068e"/><stop offset=".987" stop-color="#3e049c"/><stop offset="1.000" stop-color="#48039f"/></linearGradient><linearGradient id="r117"><stop offset=".000" stop-color="#0d0887"/><stop offset=".042" stop-color="#0d0887"/><stop offset=".048" stop-color="#100788"/><stop offset=".090" stop-color="#220690"/><stop offset=".139" stop-color="#44039e"/><stop offset=".191" stop-color="#7801a8"/><stop offset=".214" stop-color="#910ea3"/><stop offset=".263" stop-color="#c13b82"/><stop offset=".319" stop-color="#e76e5b"/><stop offset=".376" stop-color="#f9983e"/><stop offset=".420" stop-color="#fdac33"/><stop offset=".447" stop-color="#fdb130"/><stop offset=".496" stop-color="#fca537"/><stop offset=".553" stop-color="#f3854b"/><stop offset=".613" stop-color="#d8576b"/><stop offset=".668" stop-color="#b12a90"/><stop offset=".710" stop-color="#8a09a5"/><stop offset=".737" stop-color="#6f00a8"/><stop offset=".792" stop-color="#3f049c"/><stop offset=".840" stop-color="#1d068e"/><stop offset=".863" stop-color="#130789"/><stop offset=".882" stop-color="#0d0887"/><stop offset=".908" stop-color="#0d0887"/><stop offset=".914" stop-color="#100788"/><stop offset=".950" stop-color="#220690"/><stop offset=".994" stop-color="#41049d"/><stop offset="1.000" stop-color="#48039f"/></linearGradient><linearGradient id="r118"><stop offset=".000" stop-color="#0d0887"/><stop offset=".042" stop-color="#0d0887"/><stop offset=".048" stop-color="#100788"/><stop offset=".086" stop-color="#20068f"/><stop offset=".143" stop-color="#4903a0"/><stop offset=".189" stop-color="#7a02a8"/><stop offset=".212" stop-color="#920fa3"/><stop offset=".258" stop-color="#c13b82"/><stop offset=".313" stop-color="#e66c5c"/><stop offset=".366" stop-color="#f9973f"/><stop offset=".410" stop-color="#fdaf31"/><stop offset=".445" stop-color="#feb72d"/><stop offset=".492" stop-color="#fdac33"/><stop offset=".542" stop-color="#f79143"/><stop offset=".599" stop-color="#e26660"/><stop offset=".655" stop-color="#be3885"/><stop offset=".704" stop-color="#920fa3"/><stop offset=".729" stop-color="#7a02a8"/><stop offset=".784" stop-color="#48039f"/><stop offset=".834" stop-color="#220690"/><stop offset=".872" stop-color="#100788"/><stop offset=".895" stop-color="#0d0887"/><stop offset=".908" stop-color="#0d0887"/><stop offset=".914" stop-color="#100788"/><stop offset=".943" stop-color="#1d068e"/><stop offset=".989" stop-color="#3e049c"/><stop offset="1.000" stop-color="#46039f"/></linearGradient><linearGradient id="r119"><stop offset=".000" stop-color="#0d0887"/><stop offset=".040" stop-color="#0d0887"/><stop offset=".046" stop-color="#100788"/><stop offset=".084" stop-color="#20068f"/><stop offset=".134" stop-color="#44039e"/><stop offset=".185" stop-color="#7801a8"/><stop offset=".206" stop-color="#8f0da4"/><stop offset=".246" stop-color="#b83289"/><stop offset=".296" stop-color="#df6263"/><stop offset=".349" stop-color="#f79044"/><stop offset=".399" stop-color="#fdb130"/><stop offset=".437" stop-color="#febb2b"/><stop offset=".473" stop-color="#feb82c"/><stop offset=".517" stop-color="#fca537"/><stop offset=".578" stop-color="#ee7b51"/><stop offset=".637" stop-color="#ce4b75"/><stop offset=".693" stop-color="#a01a9c"/><stop offset=".727" stop-color="#7e03a8"/><stop offset=".773" stop-color="#5102a3"/><stop offset=".830" stop-color="#260591"/><stop offset=".874" stop-color="#100788"/><stop offset=".897" stop-color="#0d0887"/><stop offset=".908" stop-color="#0d0887"/><stop offset=".914" stop-color="#100788"/><stop offset=".931" stop-color="#16078a"/><stop offset=".979" stop-color="#350498"/><stop offset="1.000" stop-color="#46039f"/></linearGradient><linearGradient id="r120"><stop offset=".000" stop-color="#0d0887"/><stop offset=".040" stop-color="#0d0887"/><stop offset=".046" stop-color="#100788"/><stop offset=".074" stop-color="#1b068d"/><stop offset=".120" stop-color="#3a049a"/><stop offset=".162" stop-color="#6100a7"/><stop offset=".193" stop-color="#8405a7"/><stop offset=".227" stop-color="#aa2395"/><stop offset=".279" stop-color="#d7566c"/><stop offset=".332" stop-color="#f3874a"/><stop offset=".382" stop-color="#fdac33"/><stop offset=".416" stop-color="#febd2a"/><stop offset=".454" stop-color="#fdc229"/><stop offset=".496" stop-color="#fdb52e"/><stop offset=".550" stop-color="#f89441"/><stop offset=".607" stop-color="#e26660"/><stop offset=".666" stop-color="#bb3488"/><stop offset=".710" stop-color="#910ea3"/><stop offset=".735" stop-color="#7801a8"/><stop offset=".786" stop-color="#4903a0"/><stop offset=".828" stop-color="#280592"/><stop offset=".868" stop-color="#130789"/><stop offset=".891" stop-color="#0d0887"/><stop offset=".910" stop-color="#0d0887"/><stop offset=".916" stop-color="#100788"/><stop offset=".956" stop-color="#240691"/><stop offset=".998" stop-color="#43039e"/><stop offset="1.000" stop-color="#46039f"/></linearGradient><linearGradient id="r121"><stop offset=".000" stop-color="#0d0887"/><stop offset=".038" stop-color="#0d0887"/><stop offset=".044" stop-color="#100788"/><stop offset=".080" stop-color="#20068f"/><stop offset=".130" stop-color="#44039e"/><stop offset=".179" stop-color="#7701a8"/><stop offset=".202" stop-color="#910ea3"/><stop offset=".248" stop-color="#c13b82"/><stop offset=".303" stop-color="#e87059"/><stop offset=".355" stop-color="#fb9f3a"/><stop offset=".401" stop-color="#febd2a"/><stop offset=".437" stop-color="#fdc627"/><stop offset=".473" stop-color="#fdc328"/><stop offset=".517" stop-color="#fdaf31"/><stop offset=".578" stop-color="#f1834c"/><stop offset=".637" stop-color="#d35171"/><stop offset=".693" stop-color="#a51f99"/><stop offset=".729" stop-color="#8104a7"/><stop offset=".767" stop-color="#5b01a5"/><stop offset=".821" stop-color="#2e0595"/><stop offset=".868" stop-color="#130789"/><stop offset=".891" stop-color="#0d0887"/><stop offset=".910" stop-color="#0d0887"/><stop offset=".916" stop-color="#100788"/><stop offset=".950" stop-color="#20068f"/><stop offset="1.000" stop-color="#44039e"/></linearGradient><linearGradient id="r122"><stop offset=".000" stop-color="#0d0887"/><stop offset=".038" stop-color="#0d0887"/><stop offset=".044" stop-color="#100788"/><stop offset=".082" stop-color="#220690"/><stop offset=".128" stop-color="#44039e"/><stop offset=".174" stop-color="#7501a8"/><stop offset=".197" stop-color="#8f0da4"/><stop offset=".237" stop-color="#bb3488"/><stop offset=".292" stop-color="#e56a5d"/><stop offset=".342" stop-color="#f99a3e"/><stop offset=".393" stop-color="#febe2a"/><stop offset=".431" stop-color="#fdcb26"/><stop offset=".462" stop-color="#fdcb26"/><stop offset=".504" stop-color="#febb2b"/><stop offset=".555" stop-color="#f99a3e"/><stop offset=".609" stop-color="#e56b5d"/><stop offset=".670" stop-color="#bc3587"/><stop offset=".714" stop-color="#920fa3"/><stop offset=".739" stop-color="#7801a8"/><stop offset=".792" stop-color="#46039f"/><stop offset=".845" stop-color="#20068f"/><stop offset=".878" stop-color="#100788"/><stop offset=".901" stop-color="#0d0887"/><stop offset=".910" stop-color="#0d0887"/><stop offset=".916" stop-color="#100788"/><stop offset=".943" stop-color="#1b068d"/><stop offset=".985" stop-color="#38049a"/><stop offset="1.000" stop-color="#44039e"/></linearGradient><linearGradient id="r123"><stop offset=".000" stop-color="#0d0887"/><stop offset=".038" stop-color="#0d0887"/><stop offset=".044" stop-color="#100788"/><stop offset=".084" stop-color="#240691"/><stop offset=".134" stop-color="#4c02a1"/><stop offset=".176" stop-color="#7b02a8"/><stop offset=".197" stop-color="#9410a2"/><stop offset=".246" stop-color="#c5407e"/><stop offset=".298" stop-color="#ea7457"/><stop offset=".347" stop-color="#fba238"/><stop offset=".395" stop-color="#fdc527"/><stop offset=".435" stop-color="#fcd225"/><stop offset=".471" stop-color="#fcce25"/><stop offset=".515" stop-color="#feba2c"/><stop offset=".569" stop-color="#f79143"/><stop offset=".624" stop-color="#de6164"/><stop offset=".683" stop-color="#b32c8e"/><stop offset=".721" stop-color="#8e0ca4"/><stop offset=".742" stop-color="#7801a8"/><stop offset=".794" stop-color="#46039f"/><stop offset=".836" stop-color="#260591"/><stop offset=".872" stop-color="#130789"/><stop offset=".895" stop-color="#0d0887"/><stop offset=".910" stop-color="#0d0887"/><stop offset=".916" stop-color="#100788"/><stop offset=".935" stop-color="#16078a"/><stop offset=".989" stop-color="#3a049a"/><stop offset="1.000" stop-color="#44039e"/></linearGradient><linearGradient id="r124"><stop offset=".000" stop-color="#0d0887"/><stop offset=".036" stop-color="#0d0887"/><stop offset=".042" stop-color="#100788"/><stop offset=".082" stop-color="#240691"/><stop offset=".130" stop-color="#4b03a1"/><stop offset=".174" stop-color="#7b02a8"/><stop offset=".197" stop-color="#9613a1"/><stop offset=".250" stop-color="#cc4778"/><stop offset=".300" stop-color="#ed7a52"/><stop offset=".349" stop-color="#fca835"/><stop offset=".397" stop-color="#fdcb26"/><stop offset=".435" stop-color="#fbd724"/><stop offset=".471" stop-color="#fbd324"/><stop offset=".517" stop-color="#febd2a"/><stop offset=".571" stop-color="#f79342"/><stop offset=".626" stop-color="#df6263"/><stop offset=".687" stop-color="#b12a90"/><stop offset=".725" stop-color="#8b0aa5"/><stop offset=".750" stop-color="#7100a8"/><stop offset=".813" stop-color="#370499"/><stop offset=".861" stop-color="#19068c"/><stop offset=".884" stop-color="#100788"/><stop offset=".899" stop-color="#0d0887"/><stop offset=".910" stop-color="#0d0887"/><stop offset=".916" stop-color="#100788"/><stop offset=".935" stop-color="#16078a"/><stop offset=".985" stop-color="#370499"/><stop offset="1.000" stop-color="#43039e"/></linearGradient><linearGradient id="r125"><stop offset=".000" stop-color="#0d0887"/><stop offset=".036" stop-color="#0d0887"/><stop offset=".042" stop-color="#100788"/><stop offset=".074" stop-color="#20068f"/><stop offset=".120" stop-color="#43039e"/><stop offset=".166" stop-color="#7501a8"/><stop offset=".189" stop-color="#8f0da4"/><stop offset=".231" stop-color="#bd3786"/><stop offset=".284" stop-color="#e66c5c"/><stop offset=".332" stop-color="#fa9c3c"/><stop offset=".378" stop-color="#fdc328"/><stop offset=".414" stop-color="#fbd724"/><stop offset=".450" stop-color="#f9dc24"/><stop offset=".492" stop-color="#fcd025"/><stop offset=".542" stop-color="#fdaf31"/><stop offset=".592" stop-color="#f1834c"/><stop offset=".647" stop-color="#d35171"/><stop offset=".704" stop-color="#a21d9a"/><stop offset=".737" stop-color="#8004a8"/><stop offset=".777" stop-color="#5801a4"/><stop offset=".832" stop-color="#2a0593"/><stop offset=".874" stop-color="#130789"/><stop offset=".889" stop-color="#100788"/><stop offset=".895" stop-color="#0d0887"/><stop offset=".910" stop-color="#0d0887"/><stop offset=".916" stop-color="#100788"/><stop offset=".935" stop-color="#16078a"/><stop offset=".983" stop-color="#350498"/><stop offset="1.000" stop-color="#43039e"/></linearGradient><linearGradient id="r126"><stop offset=".000" stop-color="#0d0887"/><stop offset=".034" stop-color="#0d0887"/><stop offset=".040" stop-color="#100788"/><stop offset=".071" stop-color="#20068f"/><stop offset=".116" stop-color="#41049d"/><stop offset=".164" stop-color="#7501a8"/><stop offset=".185" stop-color="#8e0ca4"/><stop offset=".221" stop-color="#b52f8c"/><stop offset=".271" stop-color="#e06363"/><stop offset=".321" stop-color="#f9973f"/><stop offset=".370" stop-color="#fdc229"/><stop offset=".405" stop-color="#fad824"/><stop offset=".445" stop-color="#f8e125"/><stop offset=".485" stop-color="#fbd724"/><stop offset=".523" stop-color="#fec029"/><stop offset=".576" stop-color="#f89540"/><stop offset=".628" stop-color="#e16462"/><stop offset=".687" stop-color="#b42e8d"/><stop offset=".725" stop-color="#8e0ca4"/><stop offset=".748" stop-color="#7501a8"/><stop offset=".800" stop-color="#44039e"/><stop offset=".842" stop-color="#240691"/><stop offset=".876" stop-color="#130789"/><stop offset=".899" stop-color="#0d0887"/><stop offset=".910" stop-color="#0d0887"/><stop offset=".916" stop-color="#100788"/><stop offset=".935" stop-color="#16078a"/><stop offset=".983" stop-color="#350498"/><stop offset="1.000" stop-color="#43039e"/></linearGradient><linearGradient id="r127"><stop offset=".000" stop-color="#0d0887"/><stop offset=".034" stop-color="#0d0887"/><stop offset=".040" stop-color="#100788"/><stop offset=".080" stop-color="#260591"/><stop offset=".130" stop-color="#5102a3"/><stop offset=".168" stop-color="#7d03a8"/><stop offset=".193" stop-color="#9a169f"/><stop offset=".244" stop-color="#cd4a76"/><stop offset=".296" stop-color="#f0804e"/><stop offset=".345" stop-color="#fdb130"/><stop offset=".387" stop-color="#fcd225"/><stop offset=".422" stop-color="#f7e225"/><stop offset=".462" stop-color="#f7e225"/><stop offset=".502" stop-color="#fcd225"/><stop offset=".548" stop-color="#fdb130"/><stop offset=".601" stop-color="#f0804e"/><stop offset=".658" stop-color="#ce4b75"/><stop offset=".712" stop-color="#9d189d"/><stop offset=".742" stop-color="#7e03a8"/><stop offset=".786" stop-color="#5102a3"/><stop offset=".840" stop-color="#260591"/><stop offset=".884" stop-color="#100788"/><stop offset=".891" stop-color="#100788"/><stop offset=".897" stop-color="#0d0887"/><stop offset=".910" stop-color="#0d0887"/><stop offset=".916" stop-color="#100788"/><stop offset=".941" stop-color="#19068c"/><stop offset=".985" stop-color="#370499"/><stop offset="1.000" stop-color="#43039e"/></linearGradient><linearGradient id="r128"><stop offset=".000" stop-color="#0d0887"/><stop offset=".032" stop-color="#0d0887"/><stop offset=".038" stop-color="#100788"/><stop offset=".061" stop-color="#1b068d"/><stop offset=".107" stop-color="#3e049c"/><stop offset=".158" stop-color="#7201a8"/><stop offset=".181" stop-color="#8e0ca4"/><stop offset=".218" stop-color="#b83289"/><stop offset=".269" stop-color="#e26660"/><stop offset=".317" stop-color="#f99a3e"/><stop offset=".363" stop-color="#fdc527"/><stop offset=".399" stop-color="#f9dd25"/><stop offset=".433" stop-color="#f6e826"/><stop offset=".471" stop-color="#f7e425"/><stop offset=".513" stop-color="#fcce25"/><stop offset=".557" stop-color="#fdac33"/><stop offset=".607" stop-color="#ef7c51"/><stop offset=".664" stop-color="#cb4679"/><stop offset=".718" stop-color="#9814a0"/><stop offset=".744" stop-color="#7d03a8"/><stop offset=".790" stop-color="#4e02a2"/><stop offset=".838" stop-color="#280592"/><stop offset=".878" stop-color="#130789"/><stop offset=".893" stop-color="#100788"/><stop offset=".899" stop-color="#0d0887"/><stop offset=".910" stop-color="#0d0887"/><stop offset=".916" stop-color="#100788"/><stop offset=".941" stop-color="#19068c"/><stop offset=".998" stop-color="#3f049c"/><stop offset="1.000" stop-color="#43039e"/></linearGradient><linearGradient id="r129"><stop offset=".000" stop-color="#0d0887"/><stop offset=".032" stop-color="#0d0887"/><stop offset=".038" stop-color="#100788"/><stop offset=".063" stop-color="#1d068e"/><stop offset=".109" stop-color="#41049d"/><stop offset=".155" stop-color="#7401a8"/><stop offset=".179" stop-color="#8e0ca4"/><stop offset=".216" stop-color="#b83289"/><stop offset=".271" stop-color="#e56b5d"/><stop offset=".317" stop-color="#fa9c3c"/><stop offset=".361" stop-color="#fdc627"/><stop offset=".401" stop-color="#f7e225"/><stop offset=".435" stop-color="#f5eb27"/><stop offset=".471" stop-color="#f6e826"/><stop offset=".513" stop-color="#fcd225"/><stop offset=".555" stop-color="#fdb130"/><stop offset=".605" stop-color="#f0804e"/><stop offset=".662" stop-color="#cd4a76"/><stop offset=".718" stop-color="#99159f"/><stop offset=".746" stop-color="#7b02a8"/><stop offset=".792" stop-color="#4e02a2"/><stop offset=".836" stop-color="#2a0593"/><stop offset=".872" stop-color="#16078a"/><stop offset=".889" stop-color="#100788"/><stop offset=".895" stop-color="#100788"/><stop offset=".901" stop-color="#0d0887"/><stop offset=".910" stop-color="#0d0887"/><stop offset=".916" stop-color="#100788"/><stop offset=".941" stop-color="#19068c"/><stop offset=".994" stop-color="#3c049b"/><stop offset="1.000" stop-color="#43039e"/></linearGradient><linearGradient id="r130"><stop offset=".000" stop-color="#0d0887"/><stop offset=".029" stop-color="#0d0887"/><stop offset=".036" stop-color="#100788"/><stop offset=".071" stop-color="#240691"/><stop offset=".122" stop-color="#5002a2"/><stop offset=".162" stop-color="#7d03a8"/><stop offset=".187" stop-color="#9a169f"/><stop offset=".237" stop-color="#cd4a76"/><stop offset=".288" stop-color="#f07f4f"/><stop offset=".332" stop-color="#fdae32"/><stop offset=".368" stop-color="#fcce25"/><stop offset=".401" stop-color="#f6e626"/><stop offset=".437" stop-color="#f3ee27"/><stop offset=".471" stop-color="#f5eb27"/><stop offset=".517" stop-color="#fcd225"/><stop offset=".559" stop-color="#fdaf31"/><stop offset=".609" stop-color="#ef7e50"/><stop offset=".664" stop-color="#cc4977"/><stop offset=".718" stop-color="#9a169f"/><stop offset=".746" stop-color="#7d03a8"/><stop offset=".792" stop-color="#4e02a2"/><stop offset=".842" stop-color="#260591"/><stop offset=".880" stop-color="#130789"/><stop offset=".895" stop-color="#100788"/><stop offset=".901" stop-color="#0d0887"/><stop offset=".908" stop-color="#0d0887"/><stop offset=".914" stop-color="#100788"/><stop offset=".931" stop-color="#130789"/><stop offset=".985" stop-color="#350498"/><stop offset="1.000" stop-color="#41049d"/></linearGradient><linearGradient id="r131"><stop offset=".000" stop-color="#0d0887"/><stop offset=".029" stop-color="#0d0887"/><stop offset=".036" stop-color="#100788"/><stop offset=".071" stop-color="#260591"/><stop offset=".122" stop-color="#5102a3"/><stop offset=".160" stop-color="#7d03a8"/><stop offset=".183" stop-color="#9814a0"/><stop offset=".233" stop-color="#cc4778"/><stop offset=".284" stop-color="#ef7c51"/><stop offset=".328" stop-color="#fdac33"/><stop offset=".363" stop-color="#fcce25"/><stop offset=".399" stop-color="#f6e826"/><stop offset=".437" stop-color="#f2f227"/><stop offset=".477" stop-color="#f5eb27"/><stop offset=".521" stop-color="#fcd225"/><stop offset=".561" stop-color="#fdaf31"/><stop offset=".611" stop-color="#ef7e50"/><stop offset=".670" stop-color="#c9447a"/><stop offset=".723" stop-color="#9613a1"/><stop offset=".748" stop-color="#7b02a8"/><stop offset=".794" stop-color="#4c02a1"/><stop offset=".847" stop-color="#240691"/><stop offset=".880" stop-color="#130789"/><stop offset=".897" stop-color="#100788"/><stop offset=".903" stop-color="#0d0887"/><stop offset=".918" stop-color="#100788"/><stop offset=".945" stop-color="#1b068d"/><stop offset=".996" stop-color="#3e049c"/><stop offset="1.000" stop-color="#41049d"/></linearGradient><linearGradient id="r132"><stop offset=".000" stop-color="#0d0887"/><stop offset=".027" stop-color="#0d0887"/><stop offset=".034" stop-color="#100788"/><stop offset=".069" stop-color="#260591"/><stop offset=".120" stop-color="#5102a3"/><stop offset=".160" stop-color="#7e03a8"/><stop offset=".191" stop-color="#a31e9a"/><stop offset=".244" stop-color="#d5546e"/><stop offset=".292" stop-color="#f48849"/><stop offset=".336" stop-color="#feb72d"/><stop offset=".370" stop-color="#fbd724"/><stop offset=".410" stop-color="#f3ee27"/><stop offset=".445" stop-color="#f1f426"/><stop offset=".483" stop-color="#f5eb27"/><stop offset=".527" stop-color="#fcce25"/><stop offset=".567" stop-color="#fdab33"/><stop offset=".613" stop-color="#ef7c51"/><stop offset=".672" stop-color="#c8437b"/><stop offset=".725" stop-color="#9511a1"/><stop offset=".750" stop-color="#7a02a8"/><stop offset=".798" stop-color="#4903a0"/><stop offset=".851" stop-color="#220690"/><stop offset=".882" stop-color="#130789"/><stop offset=".901" stop-color="#100788"/><stop offset=".903" stop-color="#0d0887"/><stop offset=".910" stop-color="#100788"/><stop offset=".922" stop-color="#100788"/><stop offset=".975" stop-color="#2e0595"/><stop offset="1.000" stop-color="#41049d"/></linearGradient><linearGradient id="r133"><stop offset=".000" stop-color="#0d0887"/><stop offset=".025" stop-color="#0d0887"/><stop offset=".032" stop-color="#100788"/><stop offset=".074" stop-color="#2a0593"/><stop offset=".126" stop-color="#5901a5"/><stop offset=".160" stop-color="#8004a8"/><stop offset=".191" stop-color="#a51f99"/><stop offset=".244" stop-color="#d6556d"/><stop offset=".290" stop-color="#f3874a"/><stop offset=".332" stop-color="#fdb52e"/><stop offset=".368" stop-color="#fbd724"/><stop offset=".401" stop-color="#f4ed27"/><stop offset=".433" stop-color="#f1f525"/><stop offset=".471" stop-color="#f2f227"/><stop offset=".515" stop-color="#fada24"/><stop offset=".553" stop-color="#feba2c"/><stop offset=".601" stop-color="#f58b47"/><stop offset=".655" stop-color="#d5546e"/><stop offset=".710" stop-color="#a62098"/><stop offset=".744" stop-color="#8104a7"/><stop offset=".779" stop-color="#5c01a6"/><stop offset=".828" stop-color="#310597"/><stop offset=".880" stop-color="#130789"/><stop offset=".916" stop-color="#100788"/><stop offset=".941" stop-color="#19068c"/><stop offset=".994" stop-color="#3c049b"/><stop offset="1.000" stop-color="#41049d"/></linearGradient><linearGradient id="r134"><stop offset=".000" stop-color="#0d0887"/><stop offset=".025" stop-color="#0d0887"/><stop offset=".074" stop-color="#2c0594"/><stop offset=".116" stop-color="#5002a2"/><stop offset=".155" stop-color="#7d03a8"/><stop offset=".179" stop-color="#9814a0"/><stop offset=".231" stop-color="#cd4a76"/><stop offset=".282" stop-color="#f07f4f"/><stop offset=".324" stop-color="#fdae32"/><stop offset=".359" stop-color="#fcd225"/><stop offset=".397" stop-color="#f4ed27"/><stop offset=".435" stop-color="#f0f724"/><stop offset=".468" stop-color="#f1f426"/><stop offset=".506" stop-color="#f8e125"/><stop offset=".546" stop-color="#fdc229"/><stop offset=".597" stop-color="#f79044"/><stop offset=".649" stop-color="#da5b69"/><stop offset=".708" stop-color="#a82296"/><stop offset=".742" stop-color="#8405a7"/><stop offset=".773" stop-color="#6300a7"/><stop offset=".826" stop-color="#330597"/><stop offset=".874" stop-color="#16078a"/><stop offset=".895" stop-color="#100788"/><stop offset=".920" stop-color="#100788"/><stop offset=".960" stop-color="#240691"/><stop offset=".998" stop-color="#3f049c"/><stop offset="1.000" stop-color="#43039e"/></linearGradient><linearGradient id="r135"><stop offset=".000" stop-color="#0d0887"/><stop offset=".023" stop-color="#0d0887"/><stop offset=".067" stop-color="#280592"/><stop offset=".118" stop-color="#5302a3"/><stop offset=".155" stop-color="#7e03a8"/><stop offset=".179" stop-color="#99159f"/><stop offset=".233" stop-color="#cf4c74"/><stop offset=".279" stop-color="#ef7e50"/><stop offset=".321" stop-color="#fdac33"/><stop offset=".357" stop-color="#fcd025"/><stop offset=".395" stop-color="#f4ed27"/><stop offset=".435" stop-color="#f0f921"/><stop offset=".473" stop-color="#f1f426"/><stop offset=".511" stop-color="#f8df25"/><stop offset=".550" stop-color="#febe2a"/><stop offset=".599" stop-color="#f68d45"/><stop offset=".647" stop-color="#dc5d67"/><stop offset=".700" stop-color="#b12a90"/><stop offset=".737" stop-color="#8a09a5"/><stop offset=".763" stop-color="#6e00a8"/><stop offset=".824" stop-color="#350498"/><stop offset=".870" stop-color="#19068c"/><stop offset=".893" stop-color="#100788"/><stop offset=".920" stop-color="#100788"/><stop offset=".966" stop-color="#280592"/><stop offset="1.000" stop-color="#43039e"/></linearGradient><linearGradient id="r136"><stop offset=".000" stop-color="#0d0887"/><stop offset=".021" stop-color="#0d0887"/><stop offset=".027" stop-color="#100788"/><stop offset=".071" stop-color="#2c0594"/><stop offset=".113" stop-color="#5002a2"/><stop offset=".153" stop-color="#7b02a8"/><stop offset=".181" stop-color="#9c179e"/><stop offset=".231" stop-color="#ce4b75"/><stop offset=".282" stop-color="#f1814d"/><stop offset=".326" stop-color="#fdb22f"/><stop offset=".361" stop-color="#fbd524"/><stop offset=".397" stop-color="#f3ee27"/><stop offset=".431" stop-color="#f0f921"/><stop offset=".464" stop-color="#f0f724"/><stop offset=".504" stop-color="#f7e425"/><stop offset=".546" stop-color="#fdc328"/><stop offset=".595" stop-color="#f79342"/><stop offset=".645" stop-color="#de5f65"/><stop offset=".697" stop-color="#b32c8e"/><stop offset=".735" stop-color="#8b0aa5"/><stop offset=".761" stop-color="#7100a8"/><stop offset=".819" stop-color="#38049a"/><stop offset=".868" stop-color="#19068c"/><stop offset=".897" stop-color="#100788"/><stop offset=".920" stop-color="#100788"/><stop offset=".956" stop-color="#220690"/><stop offset=".998" stop-color="#41049d"/><stop offset="1.000" stop-color="#43039e"/></linearGradient><linearGradient id="r137"><stop offset=".000" stop-color="#0d0887"/><stop offset=".019" stop-color="#0d0887"/><stop offset=".025" stop-color="#100788"/><stop offset=".065" stop-color="#280592"/><stop offset=".118" stop-color="#5502a4"/><stop offset=".155" stop-color="#7e03a8"/><stop offset=".187" stop-color="#a31e9a"/><stop offset=".242" stop-color="#d7566c"/><stop offset=".290" stop-color="#f58b47"/><stop offset=".334" stop-color="#febb2b"/><stop offset=".370" stop-color="#f9dc24"/><stop offset=".403" stop-color="#f2f227"/><stop offset=".435" stop-color="#f0f921"/><stop offset=".464" stop-color="#f0f724"/><stop offset=".504" stop-color="#f7e425"/><stop offset=".546" stop-color="#fdc328"/><stop offset=".597" stop-color="#f79143"/><stop offset=".645" stop-color="#de5f65"/><stop offset=".697" stop-color="#b32c8e"/><stop offset=".735" stop-color="#8d0ba5"/><stop offset=".758" stop-color="#7201a8"/><stop offset=".817" stop-color="#3a049a"/><stop offset=".870" stop-color="#19068c"/><stop offset=".895" stop-color="#100788"/><stop offset=".920" stop-color="#100788"/><stop offset=".956" stop-color="#220690"/><stop offset="1.000" stop-color="#43039e"/></linearGradient><linearGradient id="r138"><stop offset=".000" stop-color="#0d0887"/><stop offset=".019" stop-color="#0d0887"/><stop offset=".025" stop-color="#100788"/><stop offset=".065" stop-color="#280592"/><stop offset=".118" stop-color="#5502a4"/><stop offset=".155" stop-color="#7e03a8"/><stop offset=".187" stop-color="#a31e9a"/><stop offset=".242" stop-color="#d7566c"/><stop offset=".290" stop-color="#f58b47"/><stop offset=".334" stop-color="#febb2b"/><stop offset=".370" stop-color="#f9dc24"/><stop offset=".403" stop-color="#f2f227"/><stop offset=".435" stop-color="#f0f921"/><stop offset=".464" stop-color="#f0f724"/><stop offset=".504" stop-color="#f7e425"/><stop offset=".546" stop-color="#fdc328"/><stop offset=".595" stop-color="#f79342"/><stop offset=".643" stop-color="#df6263"/><stop offset=".697" stop-color="#b32c8e"/><stop offset=".735" stop-color="#8d0ba5"/><stop offset=".758" stop-color="#7201a8"/><stop offset=".817" stop-color="#3a049a"/><stop offset=".870" stop-color="#19068c"/><stop offset=".895" stop-color="#100788"/><stop offset=".918" stop-color="#100788"/><stop offset=".964" stop-color="#280592"/><stop offset="1.000" stop-color="#43039e"/></linearGradient><linearGradient id="r139"><stop offset=".000" stop-color="#0d0887"/><stop offset=".019" stop-color="#0d0887"/><stop offset=".025" stop-color="#100788"/><stop offset=".065" stop-color="#280592"/><stop offset=".120" stop-color="#5601a4"/><stop offset=".155" stop-color="#7e03a8"/><stop offset=".187" stop-color="#a31e9a"/><stop offset=".242" stop-color="#d7566c"/><stop offset=".292" stop-color="#f68d45"/><stop offset=".338" stop-color="#febe2a"/><stop offset=".372" stop-color="#f9dd25"/><stop offset=".408" stop-color="#f1f426"/><stop offset=".443" stop-color="#f0f921"/><stop offset=".475" stop-color="#f1f426"/><stop offset=".517" stop-color="#f9dc24"/><stop offset=".555" stop-color="#febb2b"/><stop offset=".603" stop-color="#f58b47"/><stop offset=".655" stop-color="#d6556d"/><stop offset=".712" stop-color="#a51f99"/><stop offset=".744" stop-color="#8305a7"/><stop offset=".777" stop-color="#6001a6"/><stop offset=".821" stop-color="#370499"/><stop offset=".870" stop-color="#19068c"/><stop offset=".895" stop-color="#100788"/><stop offset=".918" stop-color="#100788"/><stop offset=".954" stop-color="#220690"/><stop offset="1.000" stop-color="#43039e"/></linearGradient><linearGradient id="r140"><stop offset=".000" stop-color="#0d0887"/><stop offset=".019" stop-color="#0d0887"/><stop offset=".025" stop-color="#100788"/><stop offset=".065" stop-color="#280592"/><stop offset=".120" stop-color="#5601a4"/><stop offset=".155" stop-color="#7e03a8"/><stop offset=".183" stop-color="#9e199d"/><stop offset=".235" stop-color="#d24f71"/><stop offset=".286" stop-color="#f3854b"/><stop offset=".330" stop-color="#fdb52e"/><stop offset=".363" stop-color="#fbd724"/><stop offset=".401" stop-color="#f3f027"/><stop offset=".437" stop-color="#f0f921"/><stop offset=".473" stop-color="#f1f426"/><stop offset=".511" stop-color="#f8df25"/><stop offset=".548" stop-color="#fec029"/><stop offset=".597" stop-color="#f79044"/><stop offset=".647" stop-color="#dc5d67"/><stop offset=".700" stop-color="#b12a90"/><stop offset=".737" stop-color="#8a09a5"/><stop offset=".763" stop-color="#6e00a8"/><stop offset=".821" stop-color="#370499"/><stop offset=".870" stop-color="#19068c"/><stop offset=".899" stop-color="#100788"/><stop offset=".916" stop-color="#100788"/><stop offset=".950" stop-color="#20068f"/><stop offset="1.000" stop-color="#43039e"/></linearGradient><linearGradient id="r141"><stop offset=".000" stop-color="#0d0887"/><stop offset=".019" stop-color="#0d0887"/><stop offset=".025" stop-color="#100788"/><stop offset=".065" stop-color="#280592"/><stop offset=".120" stop-color="#5601a4"/><stop offset=".155" stop-color="#7e03a8"/><stop offset=".183" stop-color="#9e199d"/><stop offset=".237" stop-color="#d45270"/><stop offset=".288" stop-color="#f48849"/><stop offset=".332" stop-color="#feb82c"/><stop offset=".368" stop-color="#fada24"/><stop offset=".403" stop-color="#f3f027"/><stop offset=".439" stop-color="#f0f921"/><stop offset=".481" stop-color="#f3f027"/><stop offset=".521" stop-color="#fbd724"/><stop offset=".557" stop-color="#feb82c"/><stop offset=".603" stop-color="#f48948"/><stop offset=".655" stop-color="#d6556d"/><stop offset=".714" stop-color="#a21d9a"/><stop offset=".746" stop-color="#8004a8"/><stop offset=".786" stop-color="#5601a4"/><stop offset=".836" stop-color="#2c0594"/><stop offset=".876" stop-color="#16078a"/><stop offset=".901" stop-color="#100788"/><stop offset=".916" stop-color="#100788"/><stop offset=".960" stop-color="#260591"/><stop offset="1.000" stop-color="#44039e"/></linearGradient><linearGradient id="r142"><stop offset=".000" stop-color="#0d0887"/><stop offset=".019" stop-color="#0d0887"/><stop offset=".025" stop-color="#100788"/><stop offset=".065" stop-color="#280592"/><stop offset=".120" stop-color="#5601a4"/><stop offset=".155" stop-color="#7e03a8"/><stop offset=".183" stop-color="#9e199d"/><stop offset=".237" stop-color="#d35171"/><stop offset=".286" stop-color="#f3854b"/><stop offset=".332" stop-color="#feb72d"/><stop offset=".366" stop-color="#fbd724"/><stop offset=".401" stop-color="#f3ee27"/><stop offset=".433" stop-color="#f0f724"/><stop offset=".468" stop-color="#f1f426"/><stop offset=".508" stop-color="#f8df25"/><stop offset=".546" stop-color="#fdc229"/><stop offset=".595" stop-color="#f79143"/><stop offset=".645" stop-color="#dd5e66"/><stop offset=".700" stop-color="#b12a90"/><stop offset=".737" stop-color="#8808a6"/><stop offset=".767" stop-color="#6900a8"/><stop offset=".824" stop-color="#350498"/><stop offset=".870" stop-color="#19068c"/><stop offset=".899" stop-color="#100788"/><stop offset=".914" stop-color="#100788"/><stop offset=".956" stop-color="#240691"/><stop offset="1.000" stop-color="#44039e"/></linearGradient><linearGradient id="r143"><stop offset=".000" stop-color="#0d0887"/><stop offset=".019" stop-color="#0d0887"/><stop offset=".025" stop-color="#100788"/><stop offset=".065" stop-color="#280592"/><stop offset=".120" stop-color="#5601a4"/><stop offset=".155" stop-color="#7e03a8"/><stop offset=".181" stop-color="#9c179e"/><stop offset=".237" stop-color="#d35171"/><stop offset=".288" stop-color="#f3874a"/><stop offset=".332" stop-color="#feb72d"/><stop offset=".368" stop-color="#fad824"/><stop offset=".403" stop-color="#f3ee27"/><stop offset=".443" stop-color="#f0f724"/><stop offset=".483" stop-color="#f4ed27"/><stop offset=".523" stop-color="#fbd324"/><stop offset=".563" stop-color="#fdb130"/><stop offset=".609" stop-color="#f1814d"/><stop offset=".664" stop-color="#cf4c74"/><stop offset=".718" stop-color="#9d189d"/><stop offset=".748" stop-color="#7d03a8"/><stop offset=".794" stop-color="#4e02a2"/><stop offset=".845" stop-color="#260591"/><stop offset=".882" stop-color="#130789"/><stop offset=".914" stop-color="#100788"/><stop offset=".956" stop-color="#240691"/><stop offset="1.000" stop-color="#44039e"/></linearGradient><linearGradient id="r144"><stop offset=".000" stop-color="#0d0887"/><stop offset=".019" stop-color="#0d0887"/><stop offset=".025" stop-color="#100788"/><stop offset=".065" stop-color="#280592"/><stop offset=".105" stop-color="#48039f"/><stop offset=".151" stop-color="#7a02a8"/><stop offset=".174" stop-color="#9410a2"/><stop offset=".221" stop-color="#c43e7f"/><stop offset=".269" stop-color="#e97158"/><stop offset=".313" stop-color="#fba238"/><stop offset=".353" stop-color="#fdca26"/><stop offset=".391" stop-color="#f6e826"/><stop offset=".424" stop-color="#f1f426"/><stop offset=".460" stop-color="#f1f426"/><stop offset=".500" stop-color="#f7e225"/><stop offset=".544" stop-color="#fdc229"/><stop offset=".595" stop-color="#f79044"/><stop offset=".647" stop-color="#db5c68"/><stop offset=".706" stop-color="#aa2395"/><stop offset=".739" stop-color="#8606a6"/><stop offset=".771" stop-color="#6400a7"/><stop offset=".826" stop-color="#330597"/><stop offset=".870" stop-color="#19068c"/><stop offset=".889" stop-color="#130789"/><stop offset=".912" stop-color="#100788"/><stop offset=".950" stop-color="#20068f"/><stop offset="1.000" stop-color="#44039e"/></linearGradient><linearGradient id="r145"><stop offset=".000" stop-color="#0d0887"/><stop offset=".019" stop-color="#0d0887"/><stop offset=".025" stop-color="#100788"/><stop offset=".071" stop-color="#2c0594"/><stop offset=".120" stop-color="#5601a4"/><stop offset=".158" stop-color="#8004a8"/><stop offset=".189" stop-color="#a51f99"/><stop offset=".242" stop-color="#d5546e"/><stop offset=".290" stop-color="#f48849"/><stop offset=".334" stop-color="#feb72d"/><stop offset=".370" stop-color="#fbd724"/><stop offset=".401" stop-color="#f5eb27"/><stop offset=".437" stop-color="#f1f426"/><stop offset=".473" stop-color="#f3ee27"/><stop offset=".513" stop-color="#fad824"/><stop offset=".553" stop-color="#feb82c"/><stop offset=".603" stop-color="#f3874a"/><stop offset=".658" stop-color="#d35171"/><stop offset=".710" stop-color="#a51f99"/><stop offset=".744" stop-color="#8104a7"/><stop offset=".779" stop-color="#5c01a6"/><stop offset=".828" stop-color="#310597"/><stop offset=".876" stop-color="#16078a"/><stop offset=".905" stop-color="#100788"/><stop offset=".935" stop-color="#19068c"/><stop offset=".987" stop-color="#3a049a"/><stop offset="1.000" stop-color="#44039e"/></linearGradient><linearGradient id="r146"><stop offset=".000" stop-color="#0d0887"/><stop offset=".019" stop-color="#0d0887"/><stop offset=".025" stop-color="#100788"/><stop offset=".071" stop-color="#2c0594"/><stop offset=".122" stop-color="#5801a4"/><stop offset=".158" stop-color="#8004a8"/><stop offset=".191" stop-color="#a62098"/><stop offset=".244" stop-color="#d7566c"/><stop offset=".292" stop-color="#f48948"/><stop offset=".336" stop-color="#feb82c"/><stop offset=".374" stop-color="#fad824"/><stop offset=".403" stop-color="#f5eb27"/><stop offset=".441" stop-color="#f2f227"/><stop offset=".477" stop-color="#f5eb27"/><stop offset=".523" stop-color="#fcd025"/><stop offset=".567" stop-color="#fca934"/><stop offset=".616" stop-color="#ed7953"/><stop offset=".670" stop-color="#c9447a"/><stop offset=".725" stop-color="#9511a1"/><stop offset=".748" stop-color="#7d03a8"/><stop offset=".794" stop-color="#4e02a2"/><stop offset=".845" stop-color="#260591"/><stop offset=".878" stop-color="#16078a"/><stop offset=".903" stop-color="#100788"/><stop offset=".929" stop-color="#16078a"/><stop offset=".975" stop-color="#310597"/><stop offset="1.000" stop-color="#44039e"/></linearGradient><linearGradient id="r147"><stop offset=".000" stop-color="#0d0887"/><stop offset=".019" stop-color="#0d0887"/><stop offset=".025" stop-color="#100788"/><stop offset=".057" stop-color="#220690"/><stop offset=".097" stop-color="#41049d"/><stop offset=".141" stop-color="#6c00a8"/><stop offset=".164" stop-color="#8707a6"/><stop offset=".195" stop-color="#ab2494"/><stop offset=".248" stop-color="#da5a6a"/><stop offset=".294" stop-color="#f58b47"/><stop offset=".338" stop-color="#feb82c"/><stop offset=".374" stop-color="#fad824"/><stop offset=".410" stop-color="#f5eb27"/><stop offset=".445" stop-color="#f3f027"/><stop offset=".485" stop-color="#f6e626"/><stop offset=".532" stop-color="#fdc827"/><stop offset=".582" stop-color="#f99a3e"/><stop offset=".632" stop-color="#e3685f"/><stop offset=".687" stop-color="#ba3388"/><stop offset=".729" stop-color="#8f0da4"/><stop offset=".752" stop-color="#7701a8"/><stop offset=".807" stop-color="#43039e"/><stop offset=".851" stop-color="#220690"/><stop offset=".878" stop-color="#16078a"/><stop offset=".908" stop-color="#100788"/><stop offset=".943" stop-color="#1d068e"/><stop offset="1.000" stop-color="#44039e"/></linearGradient><linearGradient id="r148"><stop offset=".000" stop-color="#0d0887"/><stop offset=".019" stop-color="#0d0887"/><stop offset=".025" stop-color="#100788"/><stop offset=".057" stop-color="#220690"/><stop offset=".097" stop-color="#3f049c"/><stop offset=".147" stop-color="#7401a8"/><stop offset=".170" stop-color="#8e0ca4"/><stop offset=".206" stop-color="#b52f8c"/><stop offset=".261" stop-color="#e26660"/><stop offset=".307" stop-color="#f9983e"/><stop offset=".353" stop-color="#fdc527"/><stop offset=".387" stop-color="#f8df25"/><stop offset=".422" stop-color="#f4ed27"/><stop offset=".458" stop-color="#f4ed27"/><stop offset=".494" stop-color="#f8df25"/><stop offset=".538" stop-color="#fec029"/><stop offset=".590" stop-color="#f79044"/><stop offset=".645" stop-color="#da5b69"/><stop offset=".700" stop-color="#ad2793"/><stop offset=".737" stop-color="#8606a6"/><stop offset=".769" stop-color="#6400a7"/><stop offset=".830" stop-color="#2f0596"/><stop offset=".876" stop-color="#16078a"/><stop offset=".908" stop-color="#100788"/><stop offset=".918" stop-color="#130789"/><stop offset=".954" stop-color="#240691"/><stop offset="1.000" stop-color="#44039e"/></linearGradient><linearGradient id="r149"><stop offset=".000" stop-color="#0d0887"/><stop offset=".019" stop-color="#0d0887"/><stop offset=".025" stop-color="#100788"/><stop offset=".057" stop-color="#220690"/><stop offset=".097" stop-color="#3f049c"/><stop offset=".147" stop-color="#7401a8"/><stop offset=".168" stop-color="#8b0aa5"/><stop offset=".202" stop-color="#b12a90"/><stop offset=".258" stop-color="#e16462"/><stop offset=".307" stop-color="#f9973f"/><stop offset=".353" stop-color="#fdc328"/><stop offset=".384" stop-color="#f9dc24"/><stop offset=".424" stop-color="#f5eb27"/><stop offset=".456" stop-color="#f5eb27"/><stop offset=".496" stop-color="#f9dc24"/><stop offset=".542" stop-color="#febb2b"/><stop offset=".592" stop-color="#f58c46"/><stop offset=".647" stop-color="#d8576b"/><stop offset=".704" stop-color="#a82296"/><stop offset=".739" stop-color="#8305a7"/><stop offset=".775" stop-color="#5e01a6"/><stop offset=".832" stop-color="#2e0595"/><stop offset=".876" stop-color="#16078a"/><stop offset=".905" stop-color="#100788"/><stop offset=".916" stop-color="#130789"/><stop offset=".954" stop-color="#240691"/><stop offset="1.000" stop-color="#44039e"/></linearGradient><linearGradient id="r150"><stop offset=".000" stop-color="#0d0887"/><stop offset=".019" stop-color="#0d0887"/><stop offset=".025" stop-color="#100788"/><stop offset=".063" stop-color="#260591"/><stop offset=".109" stop-color="#4b03a1"/><stop offset=".153" stop-color="#7a02a8"/><stop offset=".174" stop-color="#920fa3"/><stop offset=".221" stop-color="#c23c81"/><stop offset=".273" stop-color="#e97257"/><stop offset=".321" stop-color="#fca537"/><stop offset=".366" stop-color="#fccd25"/><stop offset=".405" stop-color="#f7e425"/><stop offset=".441" stop-color="#f5e926"/><stop offset=".473" stop-color="#f7e425"/><stop offset=".511" stop-color="#fcd025"/><stop offset=".555" stop-color="#fdae32"/><stop offset=".603" stop-color="#f0804e"/><stop offset=".660" stop-color="#ce4b75"/><stop offset=".714" stop-color="#9d189d"/><stop offset=".746" stop-color="#7b02a8"/><stop offset=".796" stop-color="#4b03a1"/><stop offset=".840" stop-color="#280592"/><stop offset=".878" stop-color="#16078a"/><stop offset=".901" stop-color="#100788"/><stop offset=".912" stop-color="#130789"/><stop offset=".943" stop-color="#1d068e"/><stop offset="1.000" stop-color="#44039e"/></linearGradient><linearGradient id="r151"><stop offset=".000" stop-color="#0d0887"/><stop offset=".019" stop-color="#0d0887"/><stop offset=".025" stop-color="#100788"/><stop offset=".063" stop-color="#260591"/><stop offset=".111" stop-color="#4c02a1"/><stop offset=".153" stop-color="#7a02a8"/><stop offset=".176" stop-color="#9410a2"/><stop offset=".225" stop-color="#c5407e"/><stop offset=".275" stop-color="#ea7457"/><stop offset=".321" stop-color="#fca338"/><stop offset=".363" stop-color="#fdc827"/><stop offset=".399" stop-color="#f8df25"/><stop offset=".439" stop-color="#f6e826"/><stop offset=".475" stop-color="#f8e125"/><stop offset=".515" stop-color="#fdcb26"/><stop offset=".561" stop-color="#fca636"/><stop offset=".613" stop-color="#eb7556"/><stop offset=".670" stop-color="#c5407e"/><stop offset=".721" stop-color="#9613a1"/><stop offset=".746" stop-color="#7b02a8"/><stop offset=".794" stop-color="#4c02a1"/><stop offset=".840" stop-color="#280592"/><stop offset=".878" stop-color="#16078a"/><stop offset=".918" stop-color="#130789"/><stop offset=".968" stop-color="#2e0595"/><stop offset="1.000" stop-color="#44039e"/></linearGradient><linearGradient id="r152"><stop offset=".000" stop-color="#0d0887"/><stop offset=".019" stop-color="#0d0887"/><stop offset=".025" stop-color="#100788"/><stop offset=".050" stop-color="#1d068e"/><stop offset=".101" stop-color="#43039e"/><stop offset=".149" stop-color="#7501a8"/><stop offset=".170" stop-color="#8d0ba5"/><stop offset=".208" stop-color="#b52f8c"/><stop offset=".263" stop-color="#e26561"/><stop offset=".309" stop-color="#f89540"/><stop offset=".359" stop-color="#fdc328"/><stop offset=".397" stop-color="#f9dc24"/><stop offset=".433" stop-color="#f7e425"/><stop offset=".466" stop-color="#f8e125"/><stop offset=".506" stop-color="#fcce25"/><stop offset=".553" stop-color="#fdab33"/><stop offset=".601" stop-color="#f07f4f"/><stop offset=".655" stop-color="#cf4c74"/><stop offset=".710" stop-color="#a01a9c"/><stop offset=".742" stop-color="#7e03a8"/><stop offset=".788" stop-color="#5102a3"/><stop offset=".834" stop-color="#2c0594"/><stop offset=".876" stop-color="#16078a"/><stop offset=".918" stop-color="#130789"/><stop offset=".968" stop-color="#2e0595"/><stop offset="1.000" stop-color="#46039f"/></linearGradient><linearGradient id="r153"><stop offset=".000" stop-color="#0d0887"/><stop offset=".019" stop-color="#0d0887"/><stop offset=".025" stop-color="#100788"/><stop offset=".050" stop-color="#1d068e"/><stop offset=".103" stop-color="#44039e"/><stop offset=".151" stop-color="#7701a8"/><stop offset=".174" stop-color="#910ea3"/><stop offset=".216" stop-color="#bd3786"/><stop offset=".271" stop-color="#e76e5b"/><stop offset=".319" stop-color="#fa9e3b"/><stop offset=".366" stop-color="#fdc627"/><stop offset=".408" stop-color="#f9dd25"/><stop offset=".454" stop-color="#f8e125"/><stop offset=".496" stop-color="#fcd225"/><stop offset=".544" stop-color="#fdb130"/><stop offset=".597" stop-color="#f1814d"/><stop offset=".655" stop-color="#ce4b75"/><stop offset=".712" stop-color="#9d189d"/><stop offset=".739" stop-color="#8004a8"/><stop offset=".782" stop-color="#5601a4"/><stop offset=".834" stop-color="#2c0594"/><stop offset=".876" stop-color="#16078a"/><stop offset=".916" stop-color="#130789"/><stop offset=".956" stop-color="#260591"/><stop offset="1.000" stop-color="#46039f"/></linearGradient><linearGradient id="r154"><stop offset=".000" stop-color="#0d0887"/><stop offset=".019" stop-color="#0d0887"/><stop offset=".025" stop-color="#100788"/><stop offset=".050" stop-color="#1d068e"/><stop offset=".105" stop-color="#46039f"/><stop offset=".151" stop-color="#7701a8"/><stop offset=".172" stop-color="#8e0ca4"/><stop offset=".210" stop-color="#b6308b"/><stop offset=".263" stop-color="#e16462"/><stop offset=".313" stop-color="#f89540"/><stop offset=".359" stop-color="#febe2a"/><stop offset=".395" stop-color="#fbd524"/><stop offset=".426" stop-color="#f9dd25"/><stop offset=".464" stop-color="#f9dc24"/><stop offset=".504" stop-color="#fdca26"/><stop offset=".559" stop-color="#fba139"/><stop offset=".609" stop-color="#ea7457"/><stop offset=".664" stop-color="#c7427c"/><stop offset=".718" stop-color="#9511a1"/><stop offset=".744" stop-color="#7b02a8"/><stop offset=".796" stop-color="#4903a0"/><stop offset=".836" stop-color="#2a0593"/><stop offset=".878" stop-color="#16078a"/><stop offset=".916" stop-color="#130789"/><stop offset=".956" stop-color="#260591"/><stop offset="1.000" stop-color="#46039f"/></linearGradient><linearGradient id="r155"><stop offset=".000" stop-color="#0d0887"/><stop offset=".019" stop-color="#0d0887"/><stop offset=".025" stop-color="#100788"/><stop offset=".061" stop-color="#240691"/><stop offset=".116" stop-color="#5002a2"/><stop offset=".158" stop-color="#7d03a8"/><stop offset=".183" stop-color="#99159f"/><stop offset=".233" stop-color="#ca457a"/><stop offset=".286" stop-color="#ed7a52"/><stop offset=".334" stop-color="#fca835"/><stop offset=".380" stop-color="#fdcb26"/><stop offset=".420" stop-color="#fada24"/><stop offset=".456" stop-color="#fada24"/><stop offset=".502" stop-color="#fdc827"/><stop offset=".550" stop-color="#fca636"/><stop offset=".605" stop-color="#eb7655"/><stop offset=".664" stop-color="#c6417d"/><stop offset=".718" stop-color="#9410a2"/><stop offset=".744" stop-color="#7a02a8"/><stop offset=".794" stop-color="#4903a0"/><stop offset=".842" stop-color="#260591"/><stop offset=".878" stop-color="#16078a"/><stop offset=".914" stop-color="#130789"/><stop offset=".952" stop-color="#240691"/><stop offset=".998" stop-color="#44039e"/><stop offset="1.000" stop-color="#46039f"/></linearGradient><linearGradient id="r156"><stop offset=".000" stop-color="#0d0887"/><stop offset=".019" stop-color="#0d0887"/><stop offset=".025" stop-color="#100788"/><stop offset=".061" stop-color="#240691"/><stop offset=".118" stop-color="#5102a3"/><stop offset=".160" stop-color="#7e03a8"/><stop offset=".189" stop-color="#a01a9c"/><stop offset=".244" stop-color="#d24f71"/><stop offset=".296" stop-color="#f1834c"/><stop offset=".347" stop-color="#fdb130"/><stop offset=".389" stop-color="#fccd25"/><stop offset=".431" stop-color="#fad824"/><stop offset=".475" stop-color="#fcd225"/><stop offset=".517" stop-color="#febb2b"/><stop offset=".567" stop-color="#f89540"/><stop offset=".624" stop-color="#e06363"/><stop offset=".683" stop-color="#b52f8c"/><stop offset=".723" stop-color="#8e0ca4"/><stop offset=".748" stop-color="#7501a8"/><stop offset=".800" stop-color="#44039e"/><stop offset=".842" stop-color="#260591"/><stop offset=".878" stop-color="#16078a"/><stop offset=".914" stop-color="#130789"/><stop offset=".952" stop-color="#240691"/><stop offset=".998" stop-color="#43039e"/><stop offset="1.000" stop-color="#46039f"/></linearGradient><linearGradient id="r157"><stop offset=".000" stop-color="#0d0887"/><stop offset=".019" stop-color="#0d0887"/><stop offset=".025" stop-color="#100788"/><stop offset=".061" stop-color="#240691"/><stop offset=".120" stop-color="#5302a3"/><stop offset=".160" stop-color="#7e03a8"/><stop offset=".191" stop-color="#a11b9b"/><stop offset=".246" stop-color="#d35171"/><stop offset=".298" stop-color="#f1834c"/><stop offset=".351" stop-color="#fdb130"/><stop offset=".389" stop-color="#fdca26"/><stop offset=".424" stop-color="#fbd324"/><stop offset=".464" stop-color="#fcd225"/><stop offset=".511" stop-color="#febd2a"/><stop offset=".567" stop-color="#f79342"/><stop offset=".622" stop-color="#e06363"/><stop offset=".683" stop-color="#b42e8d"/><stop offset=".723" stop-color="#8d0ba5"/><stop offset=".750" stop-color="#7201a8"/><stop offset=".807" stop-color="#3e049c"/><stop offset=".857" stop-color="#1d068e"/><stop offset=".891" stop-color="#130789"/><stop offset=".912" stop-color="#130789"/><stop offset=".956" stop-color="#260591"/><stop offset="1.000" stop-color="#44039e"/></linearGradient><linearGradient id="r158"><stop offset=".000" stop-color="#0d0887"/><stop offset=".019" stop-color="#0d0887"/><stop offset=".025" stop-color="#100788"/><stop offset=".061" stop-color="#240691"/><stop offset=".111" stop-color="#4b03a1"/><stop offset=".155" stop-color="#7801a8"/><stop offset=".179" stop-color="#920fa3"/><stop offset=".225" stop-color="#c13b82"/><stop offset=".284" stop-color="#ea7457"/><stop offset=".336" stop-color="#fca338"/><stop offset=".384" stop-color="#fdc527"/><stop offset=".422" stop-color="#fcd025"/><stop offset=".462" stop-color="#fcce25"/><stop offset=".504" stop-color="#febd2a"/><stop offset=".553" stop-color="#fa9c3c"/><stop offset=".607" stop-color="#e76e5b"/><stop offset=".668" stop-color="#bf3984"/><stop offset=".716" stop-color="#920fa3"/><stop offset=".742" stop-color="#7801a8"/><stop offset=".794" stop-color="#48039f"/><stop offset=".845" stop-color="#240691"/><stop offset=".880" stop-color="#16078a"/><stop offset=".912" stop-color="#130789"/><stop offset=".956" stop-color="#260591"/><stop offset="1.000" stop-color="#44039e"/></linearGradient><linearGradient id="r159"><stop offset=".000" stop-color="#0d0887"/><stop offset=".019" stop-color="#0d0887"/><stop offset=".025" stop-color="#100788"/><stop offset=".065" stop-color="#260591"/><stop offset=".113" stop-color="#4c02a1"/><stop offset=".158" stop-color="#7b02a8"/><stop offset=".181" stop-color="#9410a2"/><stop offset=".229" stop-color="#c43e7f"/><stop offset=".286" stop-color="#ea7457"/><stop offset=".336" stop-color="#fba139"/><stop offset=".384" stop-color="#fdc229"/><stop offset=".422" stop-color="#fccd25"/><stop offset=".466" stop-color="#fdca26"/><stop offset=".508" stop-color="#feb72d"/><stop offset=".569" stop-color="#f58c46"/><stop offset=".624" stop-color="#dc5d67"/><stop offset=".685" stop-color="#b02991"/><stop offset=".723" stop-color="#8b0aa5"/><stop offset=".748" stop-color="#7201a8"/><stop offset=".800" stop-color="#43039e"/><stop offset=".845" stop-color="#240691"/><stop offset=".880" stop-color="#16078a"/><stop offset=".910" stop-color="#130789"/><stop offset=".947" stop-color="#220690"/><stop offset="1.000" stop-color="#44039e"/></linearGradient><linearGradient id="r160"><stop offset=".000" stop-color="#0d0887"/><stop offset=".019" stop-color="#0d0887"/><stop offset=".025" stop-color="#100788"/><stop offset=".065" stop-color="#260591"/><stop offset=".116" stop-color="#4e02a2"/><stop offset=".160" stop-color="#7d03a8"/><stop offset=".185" stop-color="#9814a0"/><stop offset=".237" stop-color="#ca457a"/><stop offset=".292" stop-color="#ec7754"/><stop offset=".342" stop-color="#fca338"/><stop offset=".389" stop-color="#fec029"/><stop offset=".429" stop-color="#fdca26"/><stop offset=".471" stop-color="#fdc527"/><stop offset=".521" stop-color="#fdac33"/><stop offset=".580" stop-color="#f0804e"/><stop offset=".641" stop-color="#d04d73"/><stop offset=".697" stop-color="#a21d9a"/><stop offset=".733" stop-color="#7e03a8"/><stop offset=".782" stop-color="#5102a3"/><stop offset=".828" stop-color="#2e0595"/><stop offset=".870" stop-color="#19068c"/><stop offset=".897" stop-color="#130789"/><stop offset=".920" stop-color="#16078a"/><stop offset=".971" stop-color="#2f0596"/><stop offset="1.000" stop-color="#44039e"/></linearGradient><linearGradient id="r161"><stop offset=".000" stop-color="#0d0887"/><stop offset=".019" stop-color="#0d0887"/><stop offset=".025" stop-color="#100788"/><stop offset=".065" stop-color="#260591"/><stop offset=".118" stop-color="#5002a2"/><stop offset=".160" stop-color="#7b02a8"/><stop offset=".187" stop-color="#99159f"/><stop offset=".237" stop-color="#c9447a"/><stop offset=".292" stop-color="#eb7655"/><stop offset=".345" stop-color="#fba238"/><stop offset=".389" stop-color="#febd2a"/><stop offset=".433" stop-color="#fdc627"/><stop offset=".477" stop-color="#febe2a"/><stop offset=".527" stop-color="#fca537"/><stop offset=".586" stop-color="#ed7953"/><stop offset=".653" stop-color="#c6417d"/><stop offset=".708" stop-color="#9613a1"/><stop offset=".735" stop-color="#7b02a8"/><stop offset=".786" stop-color="#4c02a1"/><stop offset=".836" stop-color="#280592"/><stop offset=".878" stop-color="#16078a"/><stop offset=".908" stop-color="#130789"/><stop offset=".952" stop-color="#240691"/><stop offset="1.000" stop-color="#44039e"/></linearGradient><linearGradient id="r162"><stop offset=".000" stop-color="#0d0887"/><stop offset=".019" stop-color="#0d0887"/><stop offset=".025" stop-color="#100788"/><stop offset=".065" stop-color="#260591"/><stop offset=".120" stop-color="#5102a3"/><stop offset=".162" stop-color="#7d03a8"/><stop offset=".191" stop-color="#9d189d"/><stop offset=".246" stop-color="#ce4b75"/><stop offset=".303" stop-color="#ef7e50"/><stop offset=".359" stop-color="#fca934"/><stop offset=".399" stop-color="#febd2a"/><stop offset=".439" stop-color="#fdc229"/><stop offset=".479" stop-color="#feba2c"/><stop offset=".525" stop-color="#fba238"/><stop offset=".586" stop-color="#eb7655"/><stop offset=".647" stop-color="#c9447a"/><stop offset=".708" stop-color="#9511a1"/><stop offset=".735" stop-color="#7a02a8"/><stop offset=".790" stop-color="#4903a0"/><stop offset=".836" stop-color="#280592"/><stop offset=".878" stop-color="#16078a"/><stop offset=".908" stop-color="#130789"/><stop offset=".950" stop-color="#240691"/><stop offset="1.000" stop-color="#44039e"/></linearGradient><linearGradient id="r163"><stop offset=".000" stop-color="#0d0887"/><stop offset=".021" stop-color="#0d0887"/><stop offset=".074" stop-color="#2c0594"/><stop offset=".130" stop-color="#5b01a5"/><stop offset=".166" stop-color="#8104a7"/><stop offset=".200" stop-color="#a51f99"/><stop offset=".252" stop-color="#d24f71"/><stop offset=".311" stop-color="#f1834c"/><stop offset=".374" stop-color="#fdaf31"/><stop offset=".416" stop-color="#febd2a"/><stop offset=".460" stop-color="#febb2b"/><stop offset=".511" stop-color="#fca835"/><stop offset=".574" stop-color="#ef7c51"/><stop offset=".632" stop-color="#d14e72"/><stop offset=".691" stop-color="#a31e9a"/><stop offset=".727" stop-color="#8104a7"/><stop offset=".767" stop-color="#5b01a5"/><stop offset=".817" stop-color="#330597"/><stop offset=".863" stop-color="#1b068d"/><stop offset=".882" stop-color="#16078a"/><stop offset=".905" stop-color="#130789"/><stop offset=".941" stop-color="#20068f"/><stop offset="1.000" stop-color="#44039e"/></linearGradient><linearGradient id="r164"><stop offset=".000" stop-color="#0d0887"/><stop offset=".021" stop-color="#0d0887"/><stop offset=".027" stop-color="#100788"/><stop offset=".074" stop-color="#2c0594"/><stop offset=".132" stop-color="#5c01a6"/><stop offset=".166" stop-color="#8004a8"/><stop offset=".202" stop-color="#a62098"/><stop offset=".256" stop-color="#d45270"/><stop offset=".315" stop-color="#f2844b"/><stop offset=".372" stop-color="#fdab33"/><stop offset=".412" stop-color="#feb82c"/><stop offset=".456" stop-color="#feb82c"/><stop offset=".502" stop-color="#fca835"/><stop offset=".569" stop-color="#ef7c51"/><stop offset=".628" stop-color="#d24f71"/><stop offset=".685" stop-color="#a72197"/><stop offset=".725" stop-color="#8104a7"/><stop offset=".767" stop-color="#5b01a5"/><stop offset=".828" stop-color="#2c0594"/><stop offset=".870" stop-color="#19068c"/><stop offset=".899" stop-color="#130789"/><stop offset=".924" stop-color="#19068c"/><stop offset=".975" stop-color="#330597"/><stop offset="1.000" stop-color="#44039e"/></linearGradient><linearGradient id="r165"><stop offset=".000" stop-color="#0d0887"/><stop offset=".021" stop-color="#0d0887"/><stop offset=".027" stop-color="#100788"/><stop offset=".080" stop-color="#2f0596"/><stop offset=".126" stop-color="#5601a4"/><stop offset=".166" stop-color="#8004a8"/><stop offset=".197" stop-color="#a11b9b"/><stop offset=".250" stop-color="#ce4b75"/><stop offset=".309" stop-color="#ef7c51"/><stop offset=".370" stop-color="#fca636"/><stop offset=".416" stop-color="#fdb52e"/><stop offset=".464" stop-color="#fdb22f"/><stop offset=".515" stop-color="#fa9e3b"/><stop offset=".578" stop-color="#ea7457"/><stop offset=".637" stop-color="#cb4679"/><stop offset=".702" stop-color="#9613a1"/><stop offset=".729" stop-color="#7d03a8"/><stop offset=".779" stop-color="#4e02a2"/><stop offset=".834" stop-color="#280592"/><stop offset=".870" stop-color="#19068c"/><stop offset=".903" stop-color="#130789"/><stop offset=".945" stop-color="#220690"/><stop offset="1.000" stop-color="#44039e"/></linearGradient><linearGradient id="r166"><stop offset=".000" stop-color="#0d0887"/><stop offset=".021" stop-color="#0d0887"/><stop offset=".027" stop-color="#100788"/><stop offset=".080" stop-color="#2f0596"/><stop offset=".128" stop-color="#5801a4"/><stop offset=".166" stop-color="#7e03a8"/><stop offset=".202" stop-color="#a31e9a"/><stop offset=".254" stop-color="#d04d73"/><stop offset=".313" stop-color="#ef7e50"/><stop offset=".374" stop-color="#fca537"/><stop offset=".416" stop-color="#fdb130"/><stop offset=".460" stop-color="#fdaf31"/><stop offset=".511" stop-color="#fa9c3c"/><stop offset=".578" stop-color="#e97158"/><stop offset=".641" stop-color="#c6417d"/><stop offset=".702" stop-color="#9410a2"/><stop offset=".731" stop-color="#7801a8"/><stop offset=".790" stop-color="#46039f"/><stop offset=".836" stop-color="#260591"/><stop offset=".878" stop-color="#16078a"/><stop offset=".901" stop-color="#130789"/><stop offset=".941" stop-color="#20068f"/><stop offset="1.000" stop-color="#44039e"/></linearGradient><linearGradient id="r167"><stop offset=".000" stop-color="#0d0887"/><stop offset=".021" stop-color="#0d0887"/><stop offset=".027" stop-color="#100788"/><stop offset=".069" stop-color="#280592"/><stop offset=".124" stop-color="#5302a3"/><stop offset=".166" stop-color="#7e03a8"/><stop offset=".193" stop-color="#9a169f"/><stop offset=".246" stop-color="#c9447a"/><stop offset=".305" stop-color="#eb7556"/><stop offset=".366" stop-color="#fa9e3b"/><stop offset=".412" stop-color="#fdac33"/><stop offset=".460" stop-color="#fdab33"/><stop offset=".511" stop-color="#f9983e"/><stop offset=".574" stop-color="#e97158"/><stop offset=".637" stop-color="#c7427c"/><stop offset=".693" stop-color="#9a169f"/><stop offset=".725" stop-color="#7d03a8"/><stop offset=".777" stop-color="#4e02a2"/><stop offset=".832" stop-color="#280592"/><stop offset=".878" stop-color="#16078a"/><stop offset=".899" stop-color="#130789"/><stop offset=".935" stop-color="#1d068e"/><stop offset=".992" stop-color="#3e049c"/><stop offset="1.000" stop-color="#44039e"/></linearGradient><linearGradient id="r168"><stop offset=".000" stop-color="#0d0887"/><stop offset=".021" stop-color="#0d0887"/><stop offset=".027" stop-color="#100788"/><stop offset=".063" stop-color="#240691"/><stop offset=".116" stop-color="#4b03a1"/><stop offset=".162" stop-color="#7801a8"/><stop offset=".185" stop-color="#910ea3"/><stop offset=".233" stop-color="#be3885"/><stop offset=".288" stop-color="#e26561"/><stop offset=".345" stop-color="#f68f44"/><stop offset=".393" stop-color="#fca537"/><stop offset=".441" stop-color="#fca934"/><stop offset=".489" stop-color="#fa9e3b"/><stop offset=".555" stop-color="#ee7b51"/><stop offset=".622" stop-color="#ce4b75"/><stop offset=".681" stop-color="#a31e9a"/><stop offset=".718" stop-color="#8104a7"/><stop offset=".761" stop-color="#5b01a5"/><stop offset=".821" stop-color="#2e0595"/><stop offset=".861" stop-color="#1b068d"/><stop offset=".884" stop-color="#16078a"/><stop offset=".897" stop-color="#130789"/><stop offset=".935" stop-color="#1d068e"/><stop offset=".992" stop-color="#3e049c"/><stop offset="1.000" stop-color="#44039e"/></linearGradient><linearGradient id="r169"><stop offset=".000" stop-color="#0d0887"/><stop offset=".021" stop-color="#0d0887"/><stop offset=".027" stop-color="#100788"/><stop offset=".069" stop-color="#280592"/><stop offset=".130" stop-color="#5801a4"/><stop offset=".168" stop-color="#7e03a8"/><stop offset=".204" stop-color="#a21d9a"/><stop offset=".254" stop-color="#cc4977"/><stop offset=".313" stop-color="#eb7655"/><stop offset=".372" stop-color="#f99a3e"/><stop offset=".418" stop-color="#fca537"/><stop offset=".468" stop-color="#fba139"/><stop offset=".532" stop-color="#f3854b"/><stop offset=".597" stop-color="#da5b69"/><stop offset=".658" stop-color="#b42e8d"/><stop offset=".704" stop-color="#8d0ba5"/><stop offset=".733" stop-color="#7201a8"/><stop offset=".796" stop-color="#3e049c"/><stop offset=".849" stop-color="#20068f"/><stop offset=".882" stop-color="#16078a"/><stop offset=".922" stop-color="#19068c"/><stop offset=".973" stop-color="#310597"/><stop offset="1.000" stop-color="#43039e"/></linearGradient><linearGradient id="r170"><stop offset=".000" stop-color="#0d0887"/><stop offset=".021" stop-color="#0d0887"/><stop offset=".027" stop-color="#100788"/><stop offset=".076" stop-color="#2c0594"/><stop offset=".124" stop-color="#5102a3"/><stop offset=".168" stop-color="#7e03a8"/><stop offset=".195" stop-color="#99159f"/><stop offset=".248" stop-color="#c7427c"/><stop offset=".305" stop-color="#e76e5b"/><stop offset=".370" stop-color="#f89540"/><stop offset=".416" stop-color="#fba139"/><stop offset=".468" stop-color="#fa9c3c"/><stop offset=".527" stop-color="#f2844b"/><stop offset=".595" stop-color="#da5a6a"/><stop offset=".660" stop-color="#b12a90"/><stop offset=".704" stop-color="#8b0aa5"/><stop offset=".731" stop-color="#7201a8"/><stop offset=".800" stop-color="#3a049a"/><stop offset=".853" stop-color="#1d068e"/><stop offset=".884" stop-color="#16078a"/><stop offset=".922" stop-color="#19068c"/><stop offset=".973" stop-color="#310597"/><stop offset="1.000" stop-color="#43039e"/></linearGradient><linearGradient id="r171"><stop offset=".000" stop-color="#0d0887"/><stop offset=".021" stop-color="#0d0887"/><stop offset=".027" stop-color="#100788"/><stop offset=".067" stop-color="#260591"/><stop offset=".113" stop-color="#48039f"/><stop offset=".164" stop-color="#7801a8"/><stop offset=".191" stop-color="#9410a2"/><stop offset=".246" stop-color="#c43e7f"/><stop offset=".305" stop-color="#e56b5d"/><stop offset=".366" stop-color="#f79044"/><stop offset=".412" stop-color="#fa9c3c"/><stop offset=".468" stop-color="#f9983e"/><stop offset=".527" stop-color="#f0804e"/><stop offset=".595" stop-color="#d7566c"/><stop offset=".653" stop-color="#b32c8e"/><stop offset=".700" stop-color="#8d0ba5"/><stop offset=".729" stop-color="#7201a8"/><stop offset=".803" stop-color="#38049a"/><stop offset=".847" stop-color="#20068f"/><stop offset=".880" stop-color="#16078a"/><stop offset=".920" stop-color="#19068c"/><stop offset=".979" stop-color="#350498"/><stop offset="1.000" stop-color="#43039e"/></linearGradient><linearGradient id="r172"><stop offset=".000" stop-color="#0d0887"/><stop offset=".021" stop-color="#0d0887"/><stop offset=".027" stop-color="#100788"/><stop offset=".067" stop-color="#260591"/><stop offset=".118" stop-color="#4b03a1"/><stop offset=".166" stop-color="#7a02a8"/><stop offset=".193" stop-color="#9511a1"/><stop offset=".248" stop-color="#c43e7f"/><stop offset=".305" stop-color="#e4695e"/><stop offset=".361" stop-color="#f58b47"/><stop offset=".410" stop-color="#f9983e"/><stop offset=".466" stop-color="#f89441"/><stop offset=".527" stop-color="#ef7c51"/><stop offset=".595" stop-color="#d5546e"/><stop offset=".660" stop-color="#ac2694"/><stop offset=".704" stop-color="#8707a6"/><stop offset=".739" stop-color="#6700a8"/><stop offset=".809" stop-color="#330597"/><stop offset=".853" stop-color="#1d068e"/><stop offset=".880" stop-color="#16078a"/><stop offset=".920" stop-color="#19068c"/><stop offset=".979" stop-color="#350498"/><stop offset="1.000" stop-color="#43039e"/></linearGradient><linearGradient id="r173"><stop offset=".000" stop-color="#0d0887"/><stop offset=".021" stop-color="#0d0887"/><stop offset=".027" stop-color="#100788"/><stop offset=".074" stop-color="#2a0593"/><stop offset=".134" stop-color="#5901a5"/><stop offset=".172" stop-color="#7e03a8"/><stop offset=".210" stop-color="#a31e9a"/><stop offset=".265" stop-color="#cd4a76"/><stop offset=".321" stop-color="#e97158"/><stop offset=".374" stop-color="#f58c46"/><stop offset=".418" stop-color="#f89441"/><stop offset=".473" stop-color="#f68f44"/><stop offset=".534" stop-color="#eb7556"/><stop offset=".599" stop-color="#d14e72"/><stop offset=".662" stop-color="#a82296"/><stop offset=".704" stop-color="#8405a7"/><stop offset=".744" stop-color="#6300a7"/><stop offset=".805" stop-color="#350498"/><stop offset=".857" stop-color="#1b068d"/><stop offset=".884" stop-color="#16078a"/><stop offset=".920" stop-color="#19068c"/><stop offset=".979" stop-color="#350498"/><stop offset="1.000" stop-color="#43039e"/></linearGradient><linearGradient id="r174"><stop offset=".000" stop-color="#0d0887"/><stop offset=".021" stop-color="#0d0887"/><stop offset=".027" stop-color="#100788"/><stop offset=".080" stop-color="#2e0595"/><stop offset=".145" stop-color="#6300a7"/><stop offset=".179" stop-color="#8405a7"/><stop offset=".218" stop-color="#aa2395"/><stop offset=".271" stop-color="#d04d73"/><stop offset=".332" stop-color="#eb7556"/><stop offset=".384" stop-color="#f58c46"/><stop offset=".437" stop-color="#f79044"/><stop offset=".492" stop-color="#f2844b"/><stop offset=".563" stop-color="#df6263"/><stop offset=".634" stop-color="#ba3388"/><stop offset=".689" stop-color="#8f0da4"/><stop offset=".716" stop-color="#7801a8"/><stop offset=".779" stop-color="#46039f"/><stop offset=".830" stop-color="#260591"/><stop offset=".868" stop-color="#19068c"/><stop offset=".910" stop-color="#16078a"/><stop offset=".960" stop-color="#2a0593"/><stop offset="1.000" stop-color="#43039e"/></linearGradient><linearGradient id="r175"><stop offset=".000" stop-color="#0d0887"/><stop offset=".021" stop-color="#0d0887"/><stop offset=".027" stop-color="#100788"/><stop offset=".080" stop-color="#2e0595"/><stop offset=".132" stop-color="#5601a4"/><stop offset=".174" stop-color="#7e03a8"/><stop offset=".214" stop-color="#a51f99"/><stop offset=".271" stop-color="#ce4b75"/><stop offset=".334" stop-color="#ea7457"/><stop offset=".387" stop-color="#f48849"/><stop offset=".435" stop-color="#f58c46"/><stop offset=".492" stop-color="#f0804e"/><stop offset=".563" stop-color="#dd5e66"/><stop offset=".632" stop-color="#b83289"/><stop offset=".685" stop-color="#910ea3"/><stop offset=".714" stop-color="#7801a8"/><stop offset=".777" stop-color="#46039f"/><stop offset=".830" stop-color="#260591"/><stop offset=".868" stop-color="#19068c"/><stop offset=".910" stop-color="#16078a"/><stop offset=".960" stop-color="#2a0593"/><stop offset="1.000" stop-color="#41049d"/></linearGradient><linearGradient id="r176"><stop offset=".000" stop-color="#0d0887"/><stop offset=".021" stop-color="#0d0887"/><stop offset=".027" stop-color="#100788"/><stop offset=".078" stop-color="#2c0594"/><stop offset=".137" stop-color="#5901a5"/><stop offset=".176" stop-color="#8004a8"/><stop offset=".216" stop-color="#a51f99"/><stop offset=".269" stop-color="#cc4778"/><stop offset=".328" stop-color="#e66c5c"/><stop offset=".378" stop-color="#f1834c"/><stop offset=".431" stop-color="#f48849"/><stop offset=".492" stop-color="#ef7c51"/><stop offset=".565" stop-color="#da5a6a"/><stop offset=".632" stop-color="#b6308b"/><stop offset=".685" stop-color="#8e0ca4"/><stop offset=".716" stop-color="#7401a8"/><stop offset=".788" stop-color="#3e049c"/><stop offset=".838" stop-color="#220690"/><stop offset=".878" stop-color="#16078a"/><stop offset=".918" stop-color="#19068c"/><stop offset=".966" stop-color="#2e0595"/><stop offset="1.000" stop-color="#41049d"/></linearGradient><linearGradient id="r177"><stop offset=".000" stop-color="#0d0887"/><stop offset=".021" stop-color="#0d0887"/><stop offset=".027" stop-color="#100788"/><stop offset=".069" stop-color="#260591"/><stop offset=".130" stop-color="#5302a3"/><stop offset=".176" stop-color="#7e03a8"/><stop offset=".216" stop-color="#a31e9a"/><stop offset=".269" stop-color="#ca457a"/><stop offset=".330" stop-color="#e56b5d"/><stop offset=".382" stop-color="#f0804e"/><stop offset=".429" stop-color="#f2844b"/><stop offset=".494" stop-color="#ec7754"/><stop offset=".565" stop-color="#d7566c"/><stop offset=".630" stop-color="#b52f8c"/><stop offset=".685" stop-color="#8b0aa5"/><stop offset=".721" stop-color="#6f00a8"/><stop offset=".794" stop-color="#38049a"/><stop offset=".849" stop-color="#1d068e"/><stop offset=".880" stop-color="#16078a"/><stop offset=".918" stop-color="#19068c"/><stop offset=".977" stop-color="#330597"/><stop offset="1.000" stop-color="#41049d"/></linearGradient><linearGradient id="r178"><stop offset=".000" stop-color="#0d0887"/><stop offset=".021" stop-color="#0d0887"/><stop offset=".027" stop-color="#100788"/><stop offset=".063" stop-color="#220690"/><stop offset=".118" stop-color="#48039f"/><stop offset=".170" stop-color="#7801a8"/><stop offset=".197" stop-color="#910ea3"/><stop offset=".248" stop-color="#bb3488"/><stop offset=".309" stop-color="#dc5d67"/><stop offset=".366" stop-color="#ec7754"/><stop offset=".416" stop-color="#f0804e"/><stop offset=".485" stop-color="#eb7655"/><stop offset=".557" stop-color="#d8576b"/><stop offset=".626" stop-color="#b52f8c"/><stop offset=".681" stop-color="#8d0ba5"/><stop offset=".714" stop-color="#7201a8"/><stop offset=".790" stop-color="#3a049a"/><stop offset=".847" stop-color="#1d068e"/><stop offset=".880" stop-color="#16078a"/><stop offset=".918" stop-color="#19068c"/><stop offset=".977" stop-color="#330597"/><stop offset="1.000" stop-color="#41049d"/></linearGradient><linearGradient id="r179"><stop offset=".000" stop-color="#0d0887"/><stop offset=".021" stop-color="#0d0887"/><stop offset=".027" stop-color="#100788"/><stop offset=".063" stop-color="#220690"/><stop offset=".124" stop-color="#4c02a1"/><stop offset=".174" stop-color="#7a02a8"/><stop offset=".208" stop-color="#99159f"/><stop offset=".258" stop-color="#c03a83"/><stop offset=".319" stop-color="#de6164"/><stop offset=".378" stop-color="#ec7754"/><stop offset=".424" stop-color="#ee7b51"/><stop offset=".483" stop-color="#e97257"/><stop offset=".550" stop-color="#d8576b"/><stop offset=".622" stop-color="#b52f8c"/><stop offset=".676" stop-color="#8e0ca4"/><stop offset=".708" stop-color="#7501a8"/><stop offset=".782" stop-color="#3f049c"/><stop offset=".830" stop-color="#240691"/><stop offset=".866" stop-color="#19068c"/><stop offset=".905" stop-color="#16078a"/><stop offset=".956" stop-color="#280592"/><stop offset="1.000" stop-color="#41049d"/></linearGradient><linearGradient id="r180"><stop offset=".000" stop-color="#0d0887"/><stop offset=".021" stop-color="#0d0887"/><stop offset=".027" stop-color="#100788"/><stop offset=".074" stop-color="#280592"/><stop offset=".134" stop-color="#5502a4"/><stop offset=".179" stop-color="#7d03a8"/><stop offset=".214" stop-color="#9d189d"/><stop offset=".269" stop-color="#c5407e"/><stop offset=".340" stop-color="#e3685f"/><stop offset=".393" stop-color="#eb7655"/><stop offset=".454" stop-color="#eb7556"/><stop offset=".517" stop-color="#e06363"/><stop offset=".592" stop-color="#c33d80"/><stop offset=".658" stop-color="#9a169f"/><stop offset=".695" stop-color="#7d03a8"/><stop offset=".756" stop-color="#4e02a2"/><stop offset=".824" stop-color="#260591"/><stop offset=".863" stop-color="#19068c"/><stop offset=".905" stop-color="#16078a"/><stop offset=".956" stop-color="#280592"/><stop offset="1.000" stop-color="#41049d"/></linearGradient><linearGradient id="r181"><stop offset=".000" stop-color="#0d0887"/><stop offset=".021" stop-color="#0d0887"/><stop offset=".027" stop-color="#100788"/><stop offset=".067" stop-color="#240691"/><stop offset=".122" stop-color="#4903a0"/><stop offset=".174" stop-color="#7801a8"/><stop offset=".204" stop-color="#920fa3"/><stop offset=".256" stop-color="#bc3587"/><stop offset=".319" stop-color="#da5b69"/><stop offset=".376" stop-color="#e87059"/><stop offset=".429" stop-color="#ea7457"/><stop offset=".494" stop-color="#e3685f"/><stop offset=".571" stop-color="#cb4679"/><stop offset=".643" stop-color="#a21d9a"/><stop offset=".687" stop-color="#8104a7"/><stop offset=".737" stop-color="#5b01a5"/><stop offset=".794" stop-color="#350498"/><stop offset=".845" stop-color="#1d068e"/><stop offset=".878" stop-color="#16078a"/><stop offset=".916" stop-color="#19068c"/><stop offset=".971" stop-color="#2f0596"/><stop offset="1.000" stop-color="#3f049c"/></linearGradient><linearGradient id="r182"><stop offset=".000" stop-color="#0d0887"/><stop offset=".021" stop-color="#0d0887"/><stop offset=".027" stop-color="#100788"/><stop offset=".071" stop-color="#260591"/><stop offset=".134" stop-color="#5302a3"/><stop offset=".183" stop-color="#7e03a8"/><stop offset=".227" stop-color="#a51f99"/><stop offset=".288" stop-color="#cc4778"/><stop offset=".351" stop-color="#e26561"/><stop offset=".408" stop-color="#e87059"/><stop offset=".481" stop-color="#e3685f"/><stop offset=".555" stop-color="#ce4b75"/><stop offset=".622" stop-color="#ad2793"/><stop offset=".676" stop-color="#8707a6"/><stop offset=".716" stop-color="#6700a8"/><stop offset=".798" stop-color="#310597"/><stop offset=".845" stop-color="#1d068e"/><stop offset=".878" stop-color="#16078a"/><stop offset=".916" stop-color="#19068c"/><stop offset=".981" stop-color="#350498"/><stop offset="1.000" stop-color="#3f049c"/></linearGradient><linearGradient id="r183"><stop offset=".000" stop-color="#0d0887"/><stop offset=".021" stop-color="#0d0887"/><stop offset=".027" stop-color="#100788"/><stop offset=".071" stop-color="#260591"/><stop offset=".134" stop-color="#5302a3"/><stop offset=".183" stop-color="#7d03a8"/><stop offset=".225" stop-color="#a11b9b"/><stop offset=".277" stop-color="#c43e7f"/><stop offset=".338" stop-color="#dc5d67"/><stop offset=".393" stop-color="#e56b5d"/><stop offset=".443" stop-color="#e56a5d"/><stop offset=".511" stop-color="#da5b69"/><stop offset=".586" stop-color="#be3885"/><stop offset=".658" stop-color="#920fa3"/><stop offset=".693" stop-color="#7701a8"/><stop offset=".769" stop-color="#43039e"/><stop offset=".826" stop-color="#240691"/><stop offset=".861" stop-color="#19068c"/><stop offset=".903" stop-color="#16078a"/><stop offset=".956" stop-color="#280592"/><stop offset="1.000" stop-color="#3f049c"/></linearGradient><linearGradient id="r184"><stop offset=".000" stop-color="#0d0887"/><stop offset=".021" stop-color="#0d0887"/><stop offset=".027" stop-color="#100788"/><stop offset=".061" stop-color="#20068f"/><stop offset=".126" stop-color="#4b03a1"/><stop offset=".181" stop-color="#7a02a8"/><stop offset=".212" stop-color="#9511a1"/><stop offset=".263" stop-color="#ba3388"/><stop offset=".321" stop-color="#d5546e"/><stop offset=".382" stop-color="#e26660"/><stop offset=".439" stop-color="#e26660"/><stop offset=".502" stop-color="#da5a6a"/><stop offset=".574" stop-color="#c13b82"/><stop offset=".651" stop-color="#9410a2"/><stop offset=".687" stop-color="#7a02a8"/><stop offset=".756" stop-color="#4903a0"/><stop offset=".815" stop-color="#280592"/><stop offset=".857" stop-color="#19068c"/><stop offset=".903" stop-color="#16078a"/><stop offset=".956" stop-color="#280592"/><stop offset="1.000" stop-color="#3f049c"/></linearGradient><linearGradient id="r185"><stop offset=".000" stop-color="#0d0887"/><stop offset=".021" stop-color="#0d0887"/><stop offset=".027" stop-color="#100788"/><stop offset=".065" stop-color="#220690"/><stop offset=".126" stop-color="#4b03a1"/><stop offset=".183" stop-color="#7b02a8"/><stop offset=".214" stop-color="#9511a1"/><stop offset=".269" stop-color="#bc3587"/><stop offset=".334" stop-color="#d7566c"/><stop offset=".393" stop-color="#e16462"/><stop offset=".456" stop-color="#de6164"/><stop offset=".523" stop-color="#d14e72"/><stop offset=".595" stop-color="#b42e8d"/><stop offset=".660" stop-color="#8b0aa5"/><stop offset=".695" stop-color="#7100a8"/><stop offset=".782" stop-color="#38049a"/><stop offset=".834" stop-color="#20068f"/><stop offset=".872" stop-color="#16078a"/><stop offset=".914" stop-color="#19068c"/><stop offset=".979" stop-color="#330597"/><stop offset="1.000" stop-color="#3e049c"/></linearGradient><linearGradient id="r186"><stop offset=".000" stop-color="#0d0887"/><stop offset=".023" stop-color="#0d0887"/><stop offset=".029" stop-color="#100788"/><stop offset=".080" stop-color="#2a0593"/><stop offset=".155" stop-color="#6100a7"/><stop offset=".195" stop-color="#8405a7"/><stop offset=".246" stop-color="#ab2494"/><stop offset=".307" stop-color="#cc4778"/><stop offset=".370" stop-color="#dc5d67"/><stop offset=".424" stop-color="#de6164"/><stop offset=".500" stop-color="#d5536f"/><stop offset=".569" stop-color="#bd3786"/><stop offset=".653" stop-color="#8d0ba5"/><stop offset=".693" stop-color="#7100a8"/><stop offset=".767" stop-color="#3f049c"/><stop offset=".832" stop-color="#20068f"/><stop offset=".859" stop-color="#19068c"/><stop offset=".903" stop-color="#16078a"/><stop offset=".956" stop-color="#280592"/><stop offset="1.000" stop-color="#3e049c"/></linearGradient><linearGradient id="r187"><stop offset=".000" stop-color="#0d0887"/><stop offset=".023" stop-color="#0d0887"/><stop offset=".029" stop-color="#100788"/><stop offset=".080" stop-color="#2a0593"/><stop offset=".149" stop-color="#5b01a5"/><stop offset=".193" stop-color="#8104a7"/><stop offset=".242" stop-color="#a62098"/><stop offset=".300" stop-color="#c7427c"/><stop offset=".363" stop-color="#d9586a"/><stop offset=".422" stop-color="#dc5d67"/><stop offset=".502" stop-color="#d14e72"/><stop offset=".576" stop-color="#b7318a"/><stop offset=".655" stop-color="#8808a6"/><stop offset=".700" stop-color="#6900a8"/><stop offset=".784" stop-color="#350498"/><stop offset=".832" stop-color="#20068f"/><stop offset=".870" stop-color="#16078a"/><stop offset=".914" stop-color="#19068c"/><stop offset=".983" stop-color="#350498"/><stop offset="1.000" stop-color="#3e049c"/></linearGradient><linearGradient id="r188"><stop offset=".000" stop-color="#0d0887"/><stop offset=".023" stop-color="#0d0887"/><stop offset=".029" stop-color="#100788"/><stop offset=".084" stop-color="#2c0594"/><stop offset=".162" stop-color="#6400a7"/><stop offset=".200" stop-color="#8405a7"/><stop offset=".254" stop-color="#ad2793"/><stop offset=".324" stop-color="#cd4a76"/><stop offset=".387" stop-color="#d9586a"/><stop offset=".437" stop-color="#d8576b"/><stop offset=".508" stop-color="#cc4977"/><stop offset=".576" stop-color="#b42e8d"/><stop offset=".649" stop-color="#8a09a5"/><stop offset=".691" stop-color="#6e00a8"/><stop offset=".763" stop-color="#3f049c"/><stop offset=".830" stop-color="#20068f"/><stop offset=".857" stop-color="#19068c"/><stop offset=".901" stop-color="#16078a"/><stop offset=".952" stop-color="#260591"/><stop offset="1.000" stop-color="#3e049c"/></linearGradient><linearGradient id="r189"><stop offset=".000" stop-color="#0d0887"/><stop offset=".023" stop-color="#0d0887"/><stop offset=".029" stop-color="#100788"/><stop offset=".078" stop-color="#280592"/><stop offset=".153" stop-color="#5c01a6"/><stop offset=".200" stop-color="#8305a7"/><stop offset=".256" stop-color="#ac2694"/><stop offset=".319" stop-color="#ca457a"/><stop offset=".382" stop-color="#d6556d"/><stop offset=".445" stop-color="#d5536f"/><stop offset=".515" stop-color="#c8437b"/><stop offset=".586" stop-color="#ac2694"/><stop offset=".653" stop-color="#8405a7"/><stop offset=".704" stop-color="#6300a7"/><stop offset=".784" stop-color="#330597"/><stop offset=".836" stop-color="#1d068e"/><stop offset=".870" stop-color="#16078a"/><stop offset=".914" stop-color="#19068c"/><stop offset=".981" stop-color="#330597"/><stop offset="1.000" stop-color="#3e049c"/></linearGradient><linearGradient id="r190"><stop offset=".000" stop-color="#0d0887"/><stop offset=".023" stop-color="#0d0887"/><stop offset=".029" stop-color="#100788"/><stop offset=".067" stop-color="#220690"/><stop offset=".130" stop-color="#4b03a1"/><stop offset=".191" stop-color="#7b02a8"/><stop offset=".227" stop-color="#9613a1"/><stop offset=".296" stop-color="#bf3984"/><stop offset=".361" stop-color="#d14e72"/><stop offset=".420" stop-color="#d45270"/><stop offset=".500" stop-color="#c9447a"/><stop offset=".569" stop-color="#b12a90"/><stop offset=".645" stop-color="#8707a6"/><stop offset=".691" stop-color="#6900a8"/><stop offset=".771" stop-color="#38049a"/><stop offset=".828" stop-color="#20068f"/><stop offset=".855" stop-color="#19068c"/><stop offset=".901" stop-color="#16078a"/><stop offset=".958" stop-color="#280592"/><stop offset="1.000" stop-color="#3c049b"/></linearGradient><linearGradient id="r191"><stop offset=".000" stop-color="#0d0887"/><stop offset=".023" stop-color="#0d0887"/><stop offset=".029" stop-color="#100788"/><stop offset=".071" stop-color="#240691"/><stop offset=".139" stop-color="#5002a2"/><stop offset=".195" stop-color="#7d03a8"/><stop offset=".250" stop-color="#a31e9a"/><stop offset=".305" stop-color="#c03a83"/><stop offset=".368" stop-color="#cf4c74"/><stop offset=".439" stop-color="#cf4c74"/><stop offset=".511" stop-color="#c33d80"/><stop offset=".580" stop-color="#a82296"/><stop offset=".651" stop-color="#8004a8"/><stop offset=".716" stop-color="#5601a4"/><stop offset=".798" stop-color="#2a0593"/><stop offset=".851" stop-color="#19068c"/><stop offset=".901" stop-color="#16078a"/><stop offset=".958" stop-color="#280592"/><stop offset="1.000" stop-color="#3c049b"/></linearGradient><linearGradient id="r192"><stop offset=".000" stop-color="#0d0887"/><stop offset=".023" stop-color="#0d0887"/><stop offset=".029" stop-color="#100788"/><stop offset=".076" stop-color="#260591"/><stop offset=".137" stop-color="#4e02a2"/><stop offset=".197" stop-color="#7d03a8"/><stop offset=".242" stop-color="#9d189d"/><stop offset=".303" stop-color="#bd3786"/><stop offset=".366" stop-color="#cc4977"/><stop offset=".437" stop-color="#cc4977"/><stop offset=".511" stop-color="#c03a83"/><stop offset=".582" stop-color="#a51f99"/><stop offset=".649" stop-color="#7e03a8"/><stop offset=".723" stop-color="#5102a3"/><stop offset=".796" stop-color="#2a0593"/><stop offset=".840" stop-color="#1b068d"/><stop offset=".868" stop-color="#16078a"/><stop offset=".914" stop-color="#19068c"/><stop offset=".983" stop-color="#330597"/><stop offset="1.000" stop-color="#3c049b"/></linearGradient><linearGradient id="r193"><stop offset=".000" stop-color="#0d0887"/><stop offset=".023" stop-color="#0d0887"/><stop offset=".029" stop-color="#100788"/><stop offset=".080" stop-color="#280592"/><stop offset=".149" stop-color="#5601a4"/><stop offset=".204" stop-color="#8004a8"/><stop offset=".269" stop-color="#ab2494"/><stop offset=".330" stop-color="#c33d80"/><stop offset=".389" stop-color="#cc4778"/><stop offset=".462" stop-color="#c7427c"/><stop offset=".540" stop-color="#b32c8e"/><stop offset=".607" stop-color="#9410a2"/><stop offset=".655" stop-color="#7701a8"/><stop offset=".735" stop-color="#48039f"/><stop offset=".815" stop-color="#220690"/><stop offset=".861" stop-color="#16078a"/><stop offset=".914" stop-color="#19068c"/><stop offset=".983" stop-color="#330597"/><stop offset="1.000" stop-color="#3c049b"/></linearGradient><linearGradient id="r194"><stop offset=".000" stop-color="#0d0887"/><stop offset=".023" stop-color="#0d0887"/><stop offset=".029" stop-color="#100788"/><stop offset=".084" stop-color="#2a0593"/><stop offset=".166" stop-color="#6100a7"/><stop offset=".212" stop-color="#8405a7"/><stop offset=".277" stop-color="#ad2793"/><stop offset=".340" stop-color="#c33d80"/><stop offset=".399" stop-color="#c9447a"/><stop offset=".489" stop-color="#bf3984"/><stop offset=".565" stop-color="#a62098"/><stop offset=".641" stop-color="#7d03a8"/><stop offset=".718" stop-color="#5002a2"/><stop offset=".794" stop-color="#2a0593"/><stop offset=".836" stop-color="#1b068d"/><stop offset=".868" stop-color="#16078a"/><stop offset=".914" stop-color="#19068c"/><stop offset=".989" stop-color="#350498"/><stop offset="1.000" stop-color="#3a049a"/></linearGradient><linearGradient id="r195"><stop offset=".000" stop-color="#0d0887"/><stop offset=".023" stop-color="#0d0887"/><stop offset=".029" stop-color="#100788"/><stop offset=".078" stop-color="#260591"/><stop offset=".149" stop-color="#5502a4"/><stop offset=".206" stop-color="#7e03a8"/><stop offset=".273" stop-color="#a82296"/><stop offset=".334" stop-color="#bf3984"/><stop offset=".395" stop-color="#c6417d"/><stop offset=".483" stop-color="#bd3786"/><stop offset=".557" stop-color="#a62098"/><stop offset=".637" stop-color="#7d03a8"/><stop offset=".714" stop-color="#5002a2"/><stop offset=".796" stop-color="#280592"/><stop offset=".845" stop-color="#19068c"/><stop offset=".901" stop-color="#16078a"/><stop offset=".968" stop-color="#2c0594"/><stop offset="1.000" stop-color="#3a049a"/></linearGradient><linearGradient id="r196"><stop offset=".000" stop-color="#0d0887"/><stop offset=".023" stop-color="#0d0887"/><stop offset=".029" stop-color="#100788"/><stop offset=".067" stop-color="#20068f"/><stop offset=".149" stop-color="#5302a3"/><stop offset=".208" stop-color="#7e03a8"/><stop offset=".273" stop-color="#a62098"/><stop offset=".332" stop-color="#bc3587"/><stop offset=".393" stop-color="#c33d80"/><stop offset=".483" stop-color="#ba3388"/><stop offset=".561" stop-color="#a11b9b"/><stop offset=".632" stop-color="#7d03a8"/><stop offset=".712" stop-color="#5002a2"/><stop offset=".790" stop-color="#2a0593"/><stop offset=".834" stop-color="#1b068d"/><stop offset=".861" stop-color="#16078a"/><stop offset=".914" stop-color="#19068c"/><stop offset=".989" stop-color="#350498"/><stop offset="1.000" stop-color="#3a049a"/></linearGradient><linearGradient id="r197"><stop offset=".000" stop-color="#0d0887"/><stop offset=".023" stop-color="#0d0887"/><stop offset=".029" stop-color="#100788"/><stop offset=".067" stop-color="#20068f"/><stop offset=".143" stop-color="#4e02a2"/><stop offset=".208" stop-color="#7b02a8"/><stop offset=".267" stop-color="#a11b9b"/><stop offset=".334" stop-color="#ba3388"/><stop offset=".397" stop-color="#c03a83"/><stop offset=".487" stop-color="#b52f8c"/><stop offset=".559" stop-color="#9e199d"/><stop offset=".628" stop-color="#7b02a8"/><stop offset=".714" stop-color="#4c02a1"/><stop offset=".788" stop-color="#2a0593"/><stop offset=".840" stop-color="#19068c"/><stop offset=".901" stop-color="#16078a"/><stop offset=".975" stop-color="#2e0595"/><stop offset="1.000" stop-color="#38049a"/></linearGradient><linearGradient id="r198"><stop offset=".000" stop-color="#0d0887"/><stop offset=".023" stop-color="#0d0887"/><stop offset=".029" stop-color="#100788"/><stop offset=".067" stop-color="#20068f"/><stop offset=".134" stop-color="#48039f"/><stop offset=".206" stop-color="#7801a8"/><stop offset=".265" stop-color="#9d189d"/><stop offset=".324" stop-color="#b42e8d"/><stop offset=".384" stop-color="#bd3786"/><stop offset=".456" stop-color="#b7318a"/><stop offset=".529" stop-color="#a62098"/><stop offset=".601" stop-color="#8707a6"/><stop offset=".660" stop-color="#6700a8"/><stop offset=".763" stop-color="#330597"/><stop offset=".821" stop-color="#1d068e"/><stop offset=".855" stop-color="#16078a"/><stop offset=".876" stop-color="#130789"/><stop offset=".897" stop-color="#16078a"/><stop offset=".956" stop-color="#260591"/><stop offset="1.000" stop-color="#38049a"/></linearGradient><linearGradient id="r199"><stop offset=".000" stop-color="#0d0887"/><stop offset=".025" stop-color="#0d0887"/><stop offset=".032" stop-color="#100788"/><stop offset=".080" stop-color="#260591"/><stop offset=".158" stop-color="#5601a4"/><stop offset=".218" stop-color="#8004a8"/><stop offset=".286" stop-color="#a51f99"/><stop offset=".347" stop-color="#b6308b"/><stop offset=".412" stop-color="#ba3388"/><stop offset=".506" stop-color="#aa2395"/><stop offset=".580" stop-color="#8e0ca4"/><stop offset=".632" stop-color="#7401a8"/><stop offset=".735" stop-color="#3f049c"/><stop offset=".811" stop-color="#20068f"/><stop offset=".855" stop-color="#16078a"/><stop offset=".878" stop-color="#130789"/><stop offset=".899" stop-color="#16078a"/><stop offset=".966" stop-color="#2a0593"/><stop offset="1.000" stop-color="#38049a"/></linearGradient><linearGradient id="r200"><stop offset=".000" stop-color="#0d0887"/><stop offset=".025" stop-color="#0d0887"/><stop offset=".032" stop-color="#100788"/><stop offset=".088" stop-color="#2a0593"/><stop offset=".179" stop-color="#6300a7"/><stop offset=".229" stop-color="#8405a7"/><stop offset=".292" stop-color="#a51f99"/><stop offset=".357" stop-color="#b52f8c"/><stop offset=".422" stop-color="#b52f8c"/><stop offset=".513" stop-color="#a51f99"/><stop offset=".595" stop-color="#8405a7"/><stop offset=".662" stop-color="#6100a7"/><stop offset=".767" stop-color="#2f0596"/><stop offset=".826" stop-color="#1b068d"/><stop offset=".857" stop-color="#16078a"/><stop offset=".880" stop-color="#130789"/><stop offset=".931" stop-color="#1d068e"/><stop offset="1.000" stop-color="#38049a"/></linearGradient><linearGradient id="r201"><stop offset=".000" stop-color="#0d0887"/><stop offset=".025" stop-color="#0d0887"/><stop offset=".032" stop-color="#100788"/><stop offset=".092" stop-color="#2c0594"/><stop offset=".189" stop-color="#6900a8"/><stop offset=".237" stop-color="#8707a6"/><stop offset=".298" stop-color="#a51f99"/><stop offset=".363" stop-color="#b32c8e"/><stop offset=".431" stop-color="#b12a90"/><stop offset=".513" stop-color="#a11b9b"/><stop offset=".597" stop-color="#8004a8"/><stop offset=".681" stop-color="#5601a4"/><stop offset=".769" stop-color="#2e0595"/><stop offset=".832" stop-color="#19068c"/><stop offset=".882" stop-color="#130789"/><stop offset=".945" stop-color="#220690"/><stop offset="1.000" stop-color="#370499"/></linearGradient><linearGradient id="r202"><stop offset=".000" stop-color="#0d0887"/><stop offset=".025" stop-color="#0d0887"/><stop offset=".032" stop-color="#100788"/><stop offset=".082" stop-color="#260591"/><stop offset=".170" stop-color="#5b01a5"/><stop offset=".231" stop-color="#8104a7"/><stop offset=".292" stop-color="#a01a9c"/><stop offset=".359" stop-color="#b02991"/><stop offset=".424" stop-color="#ae2892"/><stop offset=".515" stop-color="#9d189d"/><stop offset=".599" stop-color="#7b02a8"/><stop offset=".691" stop-color="#4e02a2"/><stop offset=".782" stop-color="#280592"/><stop offset=".832" stop-color="#19068c"/><stop offset=".878" stop-color="#130789"/><stop offset=".939" stop-color="#20068f"/><stop offset="1.000" stop-color="#370499"/></linearGradient><linearGradient id="r203"><stop offset=".000" stop-color="#0d0887"/><stop offset=".025" stop-color="#0d0887"/><stop offset=".032" stop-color="#100788"/><stop offset=".084" stop-color="#260591"/><stop offset=".189" stop-color="#6600a7"/><stop offset=".242" stop-color="#8606a6"/><stop offset=".305" stop-color="#a11b9b"/><stop offset=".370" stop-color="#ad2793"/><stop offset=".433" stop-color="#aa2395"/><stop offset=".515" stop-color="#99159f"/><stop offset=".599" stop-color="#7801a8"/><stop offset=".697" stop-color="#4903a0"/><stop offset=".796" stop-color="#220690"/><stop offset=".832" stop-color="#19068c"/><stop offset=".874" stop-color="#130789"/><stop offset=".914" stop-color="#19068c"/><stop offset=".994" stop-color="#330597"/><stop offset="1.000" stop-color="#370499"/></linearGradient><linearGradient id="r204"><stop offset=".000" stop-color="#0d0887"/><stop offset=".025" stop-color="#0d0887"/><stop offset=".032" stop-color="#100788"/><stop offset=".076" stop-color="#220690"/><stop offset=".164" stop-color="#5502a4"/><stop offset=".233" stop-color="#7e03a8"/><stop offset=".296" stop-color="#9c179e"/><stop offset=".363" stop-color="#aa2395"/><stop offset=".426" stop-color="#a72197"/><stop offset=".517" stop-color="#9511a1"/><stop offset=".595" stop-color="#7701a8"/><stop offset=".697" stop-color="#48039f"/><stop offset=".794" stop-color="#220690"/><stop offset=".830" stop-color="#19068c"/><stop offset=".868" stop-color="#130789"/><stop offset=".914" stop-color="#19068c"/><stop offset="1.000" stop-color="#350498"/></linearGradient><linearGradient id="r205"><stop offset=".000" stop-color="#0d0887"/><stop offset=".025" stop-color="#0d0887"/><stop offset=".032" stop-color="#100788"/><stop offset=".088" stop-color="#280592"/><stop offset=".189" stop-color="#6300a7"/><stop offset=".248" stop-color="#8405a7"/><stop offset=".309" stop-color="#9d189d"/><stop offset=".378" stop-color="#a72197"/><stop offset=".468" stop-color="#9d189d"/><stop offset=".544" stop-color="#8808a6"/><stop offset=".618" stop-color="#6900a8"/><stop offset=".763" stop-color="#2c0594"/><stop offset=".826" stop-color="#19068c"/><stop offset=".868" stop-color="#130789"/><stop offset=".916" stop-color="#19068c"/><stop offset="1.000" stop-color="#350498"/></linearGradient><linearGradient id="r206"><stop offset=".000" stop-color="#0d0887"/><stop offset=".025" stop-color="#0d0887"/><stop offset=".032" stop-color="#100788"/><stop offset=".095" stop-color="#2a0593"/><stop offset=".200" stop-color="#6700a8"/><stop offset=".258" stop-color="#8707a6"/><stop offset=".321" stop-color="#9d189d"/><stop offset=".382" stop-color="#a31e9a"/><stop offset=".456" stop-color="#9c179e"/><stop offset=".534" stop-color="#8808a6"/><stop offset=".613" stop-color="#6900a8"/><stop offset=".754" stop-color="#2e0595"/><stop offset=".824" stop-color="#19068c"/><stop offset=".866" stop-color="#130789"/><stop offset=".887" stop-color="#130789"/><stop offset=".960" stop-color="#260591"/><stop offset="1.000" stop-color="#350498"/></linearGradient><linearGradient id="r207"><stop offset=".000" stop-color="#0d0887"/><stop offset=".025" stop-color="#0d0887"/><stop offset=".032" stop-color="#100788"/><stop offset=".074" stop-color="#20068f"/><stop offset=".179" stop-color="#5901a5"/><stop offset=".252" stop-color="#8104a7"/><stop offset=".307" stop-color="#9613a1"/><stop offset=".366" stop-color="#a01a9c"/><stop offset=".424" stop-color="#9d189d"/><stop offset=".519" stop-color="#8a09a5"/><stop offset=".601" stop-color="#6a00a8"/><stop offset=".742" stop-color="#310597"/><stop offset=".819" stop-color="#19068c"/><stop offset=".866" stop-color="#130789"/><stop offset=".887" stop-color="#130789"/><stop offset=".956" stop-color="#240691"/><stop offset="1.000" stop-color="#330597"/></linearGradient><linearGradient id="r208"><stop offset=".000" stop-color="#0d0887"/><stop offset=".025" stop-color="#0d0887"/><stop offset=".032" stop-color="#100788"/><stop offset=".069" stop-color="#1d068e"/><stop offset=".172" stop-color="#5502a4"/><stop offset=".250" stop-color="#7e03a8"/><stop offset=".311" stop-color="#9511a1"/><stop offset=".374" stop-color="#9d189d"/><stop offset=".433" stop-color="#9814a0"/><stop offset=".521" stop-color="#8606a6"/><stop offset=".616" stop-color="#6300a7"/><stop offset=".748" stop-color="#2e0595"/><stop offset=".821" stop-color="#19068c"/><stop offset=".855" stop-color="#130789"/><stop offset=".889" stop-color="#130789"/><stop offset=".962" stop-color="#260591"/><stop offset="1.000" stop-color="#330597"/></linearGradient><linearGradient id="r209"><stop offset=".000" stop-color="#0d0887"/><stop offset=".027" stop-color="#0d0887"/><stop offset=".034" stop-color="#100788"/><stop offset=".097" stop-color="#2a0593"/><stop offset=".208" stop-color="#6700a8"/><stop offset=".277" stop-color="#8707a6"/><stop offset=".334" stop-color="#9613a1"/><stop offset=".393" stop-color="#99159f"/><stop offset=".498" stop-color="#8808a6"/><stop offset=".588" stop-color="#6a00a8"/><stop offset=".746" stop-color="#2e0595"/><stop offset=".817" stop-color="#19068c"/><stop offset=".855" stop-color="#130789"/><stop offset=".889" stop-color="#130789"/><stop offset=".977" stop-color="#2a0593"/><stop offset="1.000" stop-color="#330597"/></linearGradient><linearGradient id="r210"><stop offset=".000" stop-color="#0d0887"/><stop offset=".027" stop-color="#0d0887"/><stop offset=".034" stop-color="#100788"/><stop offset=".092" stop-color="#280592"/><stop offset=".212" stop-color="#6700a8"/><stop offset=".284" stop-color="#8707a6"/><stop offset=".347" stop-color="#9511a1"/><stop offset=".418" stop-color="#9410a2"/><stop offset=".523" stop-color="#7e03a8"/><stop offset=".641" stop-color="#5302a3"/><stop offset=".765" stop-color="#260591"/><stop offset=".817" stop-color="#19068c"/><stop offset=".851" stop-color="#130789"/><stop offset=".889" stop-color="#130789"/><stop offset=".958" stop-color="#240691"/><stop offset="1.000" stop-color="#330597"/></linearGradient><linearGradient id="r211"><stop offset=".000" stop-color="#0d0887"/><stop offset=".027" stop-color="#0d0887"/><stop offset=".034" stop-color="#100788"/><stop offset=".076" stop-color="#20068f"/><stop offset=".210" stop-color="#6400a7"/><stop offset=".277" stop-color="#8305a7"/><stop offset=".340" stop-color="#910ea3"/><stop offset=".403" stop-color="#920fa3"/><stop offset=".511" stop-color="#7e03a8"/><stop offset=".632" stop-color="#5502a4"/><stop offset=".750" stop-color="#2a0593"/><stop offset=".826" stop-color="#16078a"/><stop offset=".891" stop-color="#130789"/><stop offset=".983" stop-color="#2c0594"/><stop offset="1.000" stop-color="#310597"/></linearGradient><linearGradient id="r212"><stop offset=".000" stop-color="#0d0887"/><stop offset=".027" stop-color="#0d0887"/><stop offset=".034" stop-color="#100788"/><stop offset=".086" stop-color="#240691"/><stop offset=".214" stop-color="#6400a7"/><stop offset=".282" stop-color="#8104a7"/><stop offset=".340" stop-color="#8e0ca4"/><stop offset=".410" stop-color="#8e0ca4"/><stop offset=".521" stop-color="#7801a8"/><stop offset=".651" stop-color="#4b03a1"/><stop offset=".767" stop-color="#240691"/><stop offset=".826" stop-color="#16078a"/><stop offset=".889" stop-color="#130789"/><stop offset=".966" stop-color="#260591"/><stop offset="1.000" stop-color="#310597"/></linearGradient><linearGradient id="r213"><stop offset=".000" stop-color="#0d0887"/><stop offset=".027" stop-color="#0d0887"/><stop offset=".034" stop-color="#100788"/><stop offset=".078" stop-color="#20068f"/><stop offset=".214" stop-color="#6300a7"/><stop offset=".279" stop-color="#7e03a8"/><stop offset=".342" stop-color="#8b0aa5"/><stop offset=".403" stop-color="#8b0aa5"/><stop offset=".519" stop-color="#7501a8"/><stop offset=".651" stop-color="#4903a0"/><stop offset=".771" stop-color="#220690"/><stop offset=".824" stop-color="#16078a"/><stop offset=".866" stop-color="#130789"/><stop offset=".891" stop-color="#130789"/><stop offset=".968" stop-color="#260591"/><stop offset="1.000" stop-color="#310597"/></linearGradient><linearGradient id="r214"><stop offset=".000" stop-color="#0d0887"/><stop offset=".027" stop-color="#0d0887"/><stop offset=".034" stop-color="#100788"/><stop offset=".084" stop-color="#220690"/><stop offset=".216" stop-color="#6300a7"/><stop offset=".298" stop-color="#8104a7"/><stop offset=".368" stop-color="#8a09a5"/><stop offset=".435" stop-color="#8305a7"/><stop offset=".529" stop-color="#6f00a8"/><stop offset=".674" stop-color="#3f049c"/><stop offset=".777" stop-color="#20068f"/><stop offset=".821" stop-color="#16078a"/><stop offset=".863" stop-color="#130789"/><stop offset=".893" stop-color="#130789"/><stop offset=".994" stop-color="#2e0595"/><stop offset="1.000" stop-color="#2f0596"/></linearGradient><linearGradient id="r215"><stop offset=".000" stop-color="#0d0887"/><stop offset=".027" stop-color="#0d0887"/><stop offset=".034" stop-color="#100788"/><stop offset=".074" stop-color="#1d068e"/><stop offset=".218" stop-color="#6100a7"/><stop offset=".298" stop-color="#7e03a8"/><stop offset=".368" stop-color="#8707a6"/><stop offset=".439" stop-color="#7e03a8"/><stop offset=".529" stop-color="#6c00a8"/><stop offset=".685" stop-color="#3a049a"/><stop offset=".784" stop-color="#1d068e"/><stop offset=".834" stop-color="#130789"/><stop offset=".893" stop-color="#130789"/><stop offset=".989" stop-color="#2c0594"/><stop offset="1.000" stop-color="#2f0596"/></linearGradient><linearGradient id="r216"><stop offset=".000" stop-color="#0d0887"/><stop offset=".027" stop-color="#0d0887"/><stop offset=".034" stop-color="#100788"/><stop offset=".080" stop-color="#20068f"/><stop offset=".221" stop-color="#6100a7"/><stop offset=".298" stop-color="#7b02a8"/><stop offset=".357" stop-color="#8305a7"/><stop offset=".414" stop-color="#8004a8"/><stop offset=".529" stop-color="#6900a8"/><stop offset=".689" stop-color="#370499"/><stop offset=".800" stop-color="#19068c"/><stop offset=".838" stop-color="#130789"/><stop offset=".849" stop-color="#130789"/><stop offset=".859" stop-color="#100788"/><stop offset=".910" stop-color="#16078a"/><stop offset="1.000" stop-color="#2f0596"/></linearGradient><linearGradient id="r217"><stop offset=".000" stop-color="#0d0887"/><stop offset=".027" stop-color="#0d0887"/><stop offset=".034" stop-color="#100788"/><stop offset=".086" stop-color="#220690"/><stop offset=".225" stop-color="#6100a7"/><stop offset=".296" stop-color="#7801a8"/><stop offset=".359" stop-color="#8004a8"/><stop offset=".420" stop-color="#7b02a8"/><stop offset=".536" stop-color="#6400a7"/><stop offset=".729" stop-color="#2a0593"/><stop offset=".811" stop-color="#16078a"/><stop offset=".842" stop-color="#130789"/><stop offset=".853" stop-color="#100788"/><stop offset=".868" stop-color="#100788"/><stop offset=".878" stop-color="#130789"/><stop offset=".910" stop-color="#16078a"/><stop offset="1.000" stop-color="#2e0595"/></linearGradient><linearGradient id="r218"><stop offset=".000" stop-color="#0d0887"/><stop offset=".029" stop-color="#0d0887"/><stop offset=".036" stop-color="#100788"/><stop offset=".097" stop-color="#260591"/><stop offset=".229" stop-color="#6100a7"/><stop offset=".303" stop-color="#7701a8"/><stop offset=".363" stop-color="#7d03a8"/><stop offset=".426" stop-color="#7701a8"/><stop offset=".538" stop-color="#6100a7"/><stop offset=".756" stop-color="#220690"/><stop offset=".811" stop-color="#16078a"/><stop offset=".838" stop-color="#130789"/><stop offset=".849" stop-color="#100788"/><stop offset=".870" stop-color="#100788"/><stop offset=".880" stop-color="#130789"/><stop offset=".912" stop-color="#16078a"/><stop offset="1.000" stop-color="#2e0595"/></linearGradient><linearGradient id="r219"><stop offset=".000" stop-color="#0d0887"/><stop offset=".029" stop-color="#0d0887"/><stop offset=".036" stop-color="#100788"/><stop offset=".088" stop-color="#220690"/><stop offset=".231" stop-color="#6001a6"/><stop offset=".300" stop-color="#7401a8"/><stop offset=".363" stop-color="#7a02a8"/><stop offset=".426" stop-color="#7401a8"/><stop offset=".538" stop-color="#5e01a6"/><stop offset=".744" stop-color="#240691"/><stop offset=".809" stop-color="#16078a"/><stop offset=".834" stop-color="#130789"/><stop offset=".845" stop-color="#100788"/><stop offset=".872" stop-color="#100788"/><stop offset=".882" stop-color="#130789"/><stop offset=".912" stop-color="#16078a"/><stop offset="1.000" stop-color="#2e0595"/></linearGradient><linearGradient id="r220"><stop offset=".000" stop-color="#0d0887"/><stop offset=".029" stop-color="#0d0887"/><stop offset=".036" stop-color="#100788"/><stop offset=".099" stop-color="#260591"/><stop offset=".235" stop-color="#6001a6"/><stop offset=".315" stop-color="#7401a8"/><stop offset=".382" stop-color="#7701a8"/><stop offset=".527" stop-color="#5e01a6"/><stop offset=".748" stop-color="#220690"/><stop offset=".824" stop-color="#130789"/><stop offset=".874" stop-color="#100788"/><stop offset=".884" stop-color="#130789"/><stop offset=".937" stop-color="#1b068d"/><stop offset="1.000" stop-color="#2c0594"/></linearGradient><linearGradient id="r221"><stop offset=".000" stop-color="#0d0887"/><stop offset=".029" stop-color="#0d0887"/><stop offset=".036" stop-color="#100788"/><stop offset=".090" stop-color="#220690"/><stop offset=".239" stop-color="#6001a6"/><stop offset=".313" stop-color="#7100a8"/><stop offset=".382" stop-color="#7401a8"/><stop offset=".529" stop-color="#5b01a5"/><stop offset=".754" stop-color="#20068f"/><stop offset=".819" stop-color="#130789"/><stop offset=".876" stop-color="#100788"/><stop offset=".887" stop-color="#130789"/><stop offset=".947" stop-color="#1d068e"/><stop offset="1.000" stop-color="#2c0594"/></linearGradient><linearGradient id="r222"><stop offset=".000" stop-color="#0d0887"/><stop offset=".029" stop-color="#0d0887"/><stop offset=".036" stop-color="#100788"/><stop offset=".074" stop-color="#1b068d"/><stop offset=".233" stop-color="#5b01a5"/><stop offset=".300" stop-color="#6c00a8"/><stop offset=".359" stop-color="#7100a8"/><stop offset=".418" stop-color="#6c00a8"/><stop offset=".553" stop-color="#5302a3"/><stop offset=".742" stop-color="#220690"/><stop offset=".817" stop-color="#130789"/><stop offset=".878" stop-color="#100788"/><stop offset=".889" stop-color="#130789"/><stop offset=".939" stop-color="#1b068d"/><stop offset="1.000" stop-color="#2c0594"/></linearGradient><linearGradient id="r223"><stop offset=".000" stop-color="#0d0887"/><stop offset=".029" stop-color="#0d0887"/><stop offset=".036" stop-color="#100788"/><stop offset=".086" stop-color="#20068f"/><stop offset=".244" stop-color="#5c01a6"/><stop offset=".317" stop-color="#6c00a8"/><stop offset=".399" stop-color="#6c00a8"/><stop offset=".548" stop-color="#5102a3"/><stop offset=".737" stop-color="#220690"/><stop offset=".798" stop-color="#16078a"/><stop offset=".821" stop-color="#130789"/><stop offset=".832" stop-color="#100788"/><stop offset=".878" stop-color="#100788"/><stop offset=".889" stop-color="#130789"/><stop offset=".960" stop-color="#20068f"/><stop offset="1.000" stop-color="#2a0593"/></linearGradient><linearGradient id="r224"><stop offset=".000" stop-color="#0d0887"/><stop offset=".029" stop-color="#0d0887"/><stop offset=".036" stop-color="#100788"/><stop offset=".053" stop-color="#130789"/><stop offset=".239" stop-color="#5901a5"/><stop offset=".311" stop-color="#6900a8"/><stop offset=".387" stop-color="#6a00a8"/><stop offset=".538" stop-color="#5102a3"/><stop offset=".744" stop-color="#20068f"/><stop offset=".796" stop-color="#16078a"/><stop offset=".819" stop-color="#130789"/><stop offset=".830" stop-color="#100788"/><stop offset=".880" stop-color="#100788"/><stop offset=".891" stop-color="#130789"/><stop offset=".941" stop-color="#1b068d"/><stop offset="1.000" stop-color="#2a0593"/></linearGradient><linearGradient id="r225"><stop offset=".000" stop-color="#0d0887"/><stop offset=".032" stop-color="#0d0887"/><stop offset=".038" stop-color="#100788"/><stop offset=".095" stop-color="#220690"/><stop offset=".235" stop-color="#5601a4"/><stop offset=".307" stop-color="#6600a7"/><stop offset=".372" stop-color="#6900a8"/><stop offset=".534" stop-color="#5002a2"/><stop offset=".750" stop-color="#1d068e"/><stop offset=".811" stop-color="#130789"/><stop offset=".847" stop-color="#100788"/><stop offset=".882" stop-color="#100788"/><stop offset=".893" stop-color="#130789"/><stop offset=".964" stop-color="#20068f"/><stop offset="1.000" stop-color="#2a0593"/></linearGradient><linearGradient id="r226"><stop offset=".000" stop-color="#0d0887"/><stop offset=".032" stop-color="#0d0887"/><stop offset=".038" stop-color="#100788"/><stop offset=".107" stop-color="#260591"/><stop offset=".235" stop-color="#5502a4"/><stop offset=".311" stop-color="#6400a7"/><stop offset=".393" stop-color="#6400a7"/><stop offset=".553" stop-color="#4903a0"/><stop offset=".758" stop-color="#1b068d"/><stop offset=".811" stop-color="#130789"/><stop offset=".834" stop-color="#100788"/><stop offset=".882" stop-color="#100788"/><stop offset=".893" stop-color="#130789"/><stop offset=".975" stop-color="#220690"/><stop offset="1.000" stop-color="#280592"/></linearGradient><linearGradient id="r227"><stop offset=".000" stop-color="#0d0887"/><stop offset=".032" stop-color="#0d0887"/><stop offset=".038" stop-color="#100788"/><stop offset=".113" stop-color="#280592"/><stop offset=".231" stop-color="#5102a3"/><stop offset=".305" stop-color="#6100a7"/><stop offset=".382" stop-color="#6300a7"/><stop offset=".550" stop-color="#48039f"/><stop offset=".744" stop-color="#1d068e"/><stop offset=".807" stop-color="#130789"/><stop offset=".830" stop-color="#100788"/><stop offset=".884" stop-color="#100788"/><stop offset=".895" stop-color="#130789"/><stop offset=".977" stop-color="#220690"/><stop offset="1.000" stop-color="#280592"/></linearGradient><linearGradient id="r228"><stop offset=".000" stop-color="#0d0887"/><stop offset=".032" stop-color="#0d0887"/><stop offset=".038" stop-color="#100788"/><stop offset=".055" stop-color="#130789"/><stop offset=".231" stop-color="#5002a2"/><stop offset=".303" stop-color="#5e01a6"/><stop offset=".368" stop-color="#6100a7"/><stop offset=".540" stop-color="#48039f"/><stop offset=".739" stop-color="#1d068e"/><stop offset=".803" stop-color="#130789"/><stop offset=".838" stop-color="#100788"/><stop offset=".887" stop-color="#100788"/><stop offset=".897" stop-color="#130789"/><stop offset=".979" stop-color="#220690"/><stop offset="1.000" stop-color="#280592"/></linearGradient><linearGradient id="r229"><stop offset=".000" stop-color="#0d0887"/><stop offset=".032" stop-color="#0d0887"/><stop offset=".038" stop-color="#100788"/><stop offset=".080" stop-color="#1b068d"/><stop offset=".225" stop-color="#4c02a1"/><stop offset=".305" stop-color="#5c01a6"/><stop offset=".391" stop-color="#5c01a6"/><stop offset=".563" stop-color="#41049d"/><stop offset=".735" stop-color="#1d068e"/><stop offset=".782" stop-color="#16078a"/><stop offset=".805" stop-color="#130789"/><stop offset=".815" stop-color="#100788"/><stop offset=".887" stop-color="#100788"/><stop offset=".897" stop-color="#130789"/><stop offset=".981" stop-color="#220690"/><stop offset="1.000" stop-color="#260591"/></linearGradient><linearGradient id="r230"><stop offset=".000" stop-color="#0d0887"/><stop offset=".032" stop-color="#0d0887"/><stop offset=".038" stop-color="#100788"/><stop offset=".088" stop-color="#1d068e"/><stop offset=".225" stop-color="#4b03a1"/><stop offset=".300" stop-color="#5901a5"/><stop offset=".361" stop-color="#5c01a6"/><stop offset=".544" stop-color="#43039e"/><stop offset=".758" stop-color="#19068c"/><stop offset=".800" stop-color="#130789"/><stop offset=".811" stop-color="#100788"/><stop offset=".889" stop-color="#100788"/><stop offset=".899" stop-color="#130789"/><stop offset=".983" stop-color="#220690"/><stop offset="1.000" stop-color="#260591"/></linearGradient><linearGradient id="r231"><stop offset=".000" stop-color="#0d0887"/><stop offset=".034" stop-color="#0d0887"/><stop offset=".040" stop-color="#100788"/><stop offset=".109" stop-color="#240691"/><stop offset=".225" stop-color="#4903a0"/><stop offset=".303" stop-color="#5801a4"/><stop offset=".389" stop-color="#5801a4"/><stop offset=".569" stop-color="#3c049b"/><stop offset=".754" stop-color="#19068c"/><stop offset=".796" stop-color="#130789"/><stop offset=".819" stop-color="#100788"/><stop offset=".889" stop-color="#100788"/><stop offset=".899" stop-color="#130789"/><stop offset=".977" stop-color="#20068f"/><stop offset="1.000" stop-color="#260591"/></linearGradient><linearGradient id="r232"><stop offset=".000" stop-color="#0d0887"/><stop offset=".034" stop-color="#0d0887"/><stop offset=".040" stop-color="#100788"/><stop offset=".090" stop-color="#1d068e"/><stop offset=".229" stop-color="#4903a0"/><stop offset=".311" stop-color="#5601a4"/><stop offset=".382" stop-color="#5601a4"/><stop offset=".569" stop-color="#3a049a"/><stop offset=".750" stop-color="#19068c"/><stop offset=".794" stop-color="#130789"/><stop offset=".805" stop-color="#100788"/><stop offset=".891" stop-color="#100788"/><stop offset=".901" stop-color="#130789"/><stop offset=".998" stop-color="#240691"/><stop offset="1.000" stop-color="#260591"/></linearGradient><linearGradient id="r233"><stop offset=".000" stop-color="#0d0887"/><stop offset=".034" stop-color="#0d0887"/><stop offset=".040" stop-color="#100788"/><stop offset=".084" stop-color="#1b068d"/><stop offset=".216" stop-color="#44039e"/><stop offset=".298" stop-color="#5302a3"/><stop offset=".389" stop-color="#5302a3"/><stop offset=".580" stop-color="#370499"/><stop offset=".748" stop-color="#19068c"/><stop offset=".790" stop-color="#130789"/><stop offset=".813" stop-color="#100788"/><stop offset=".836" stop-color="#100788"/><stop offset=".842" stop-color="#0d0887"/><stop offset=".866" stop-color="#100788"/><stop offset=".893" stop-color="#100788"/><stop offset=".903" stop-color="#130789"/><stop offset="1.000" stop-color="#240691"/></linearGradient><linearGradient id="r234"><stop offset=".000" stop-color="#0d0887"/><stop offset=".034" stop-color="#0d0887"/><stop offset=".040" stop-color="#100788"/><stop offset=".107" stop-color="#220690"/><stop offset=".223" stop-color="#44039e"/><stop offset=".300" stop-color="#5102a3"/><stop offset=".382" stop-color="#5102a3"/><stop offset=".580" stop-color="#350498"/><stop offset=".744" stop-color="#19068c"/><stop offset=".786" stop-color="#130789"/><stop offset=".821" stop-color="#100788"/><stop offset=".828" stop-color="#100788"/><stop offset=".834" stop-color="#0d0887"/><stop offset=".853" stop-color="#0d0887"/><stop offset=".859" stop-color="#100788"/><stop offset=".895" stop-color="#100788"/><stop offset=".905" stop-color="#130789"/><stop offset="1.000" stop-color="#240691"/></linearGradient><linearGradient id="r235"><stop offset=".000" stop-color="#0d0887"/><stop offset=".034" stop-color="#0d0887"/><stop offset=".040" stop-color="#100788"/><stop offset=".095" stop-color="#1d068e"/><stop offset=".208" stop-color="#3f049c"/><stop offset=".290" stop-color="#4e02a2"/><stop offset=".359" stop-color="#5002a2"/><stop offset=".435" stop-color="#48039f"/><stop offset=".601" stop-color="#2f0596"/><stop offset=".739" stop-color="#19068c"/><stop offset=".786" stop-color="#130789"/><stop offset=".796" stop-color="#100788"/><stop offset=".824" stop-color="#100788"/><stop offset=".830" stop-color="#0d0887"/><stop offset=".857" stop-color="#0d0887"/><stop offset=".863" stop-color="#100788"/><stop offset=".895" stop-color="#100788"/><stop offset=".905" stop-color="#130789"/><stop offset="1.000" stop-color="#240691"/></linearGradient><linearGradient id="r236"><stop offset=".000" stop-color="#0d0887"/><stop offset=".036" stop-color="#0d0887"/><stop offset=".042" stop-color="#100788"/><stop offset=".124" stop-color="#260591"/><stop offset=".235" stop-color="#44039e"/><stop offset=".313" stop-color="#4e02a2"/><stop offset=".401" stop-color="#4b03a1"/><stop offset=".605" stop-color="#2e0595"/><stop offset=".735" stop-color="#19068c"/><stop offset=".782" stop-color="#130789"/><stop offset=".792" stop-color="#100788"/><stop offset=".819" stop-color="#100788"/><stop offset=".826" stop-color="#0d0887"/><stop offset=".859" stop-color="#0d0887"/><stop offset=".866" stop-color="#100788"/><stop offset=".897" stop-color="#100788"/><stop offset=".908" stop-color="#130789"/><stop offset="1.000" stop-color="#220690"/></linearGradient><linearGradient id="r237"><stop offset=".000" stop-color="#0d0887"/><stop offset=".036" stop-color="#0d0887"/><stop offset=".042" stop-color="#100788"/><stop offset=".071" stop-color="#16078a"/><stop offset=".218" stop-color="#3f049c"/><stop offset=".296" stop-color="#4b03a1"/><stop offset=".382" stop-color="#4b03a1"/><stop offset=".607" stop-color="#2c0594"/><stop offset=".731" stop-color="#19068c"/><stop offset=".777" stop-color="#130789"/><stop offset=".800" stop-color="#100788"/><stop offset=".815" stop-color="#100788"/><stop offset=".821" stop-color="#0d0887"/><stop offset=".861" stop-color="#0d0887"/><stop offset=".868" stop-color="#100788"/><stop offset=".899" stop-color="#100788"/><stop offset=".910" stop-color="#130789"/><stop offset="1.000" stop-color="#220690"/></linearGradient><linearGradient id="r238"><stop offset=".000" stop-color="#0d0887"/><stop offset=".036" stop-color="#0d0887"/><stop offset=".042" stop-color="#100788"/><stop offset=".113" stop-color="#220690"/><stop offset=".225" stop-color="#3f049c"/><stop offset=".298" stop-color="#4903a0"/><stop offset=".378" stop-color="#4903a0"/><stop offset=".611" stop-color="#2a0593"/><stop offset=".746" stop-color="#16078a"/><stop offset=".775" stop-color="#130789"/><stop offset=".786" stop-color="#100788"/><stop offset=".811" stop-color="#100788"/><stop offset=".817" stop-color="#0d0887"/><stop offset=".863" stop-color="#0d0887"/><stop offset=".870" stop-color="#100788"/><stop offset=".899" stop-color="#100788"/><stop offset=".910" stop-color="#130789"/><stop offset="1.000" stop-color="#220690"/></linearGradient><linearGradient id="r239"><stop offset=".000" stop-color="#0d0887"/><stop offset=".036" stop-color="#0d0887"/><stop offset=".042" stop-color="#100788"/><stop offset=".053" stop-color="#100788"/><stop offset=".214" stop-color="#3c049b"/><stop offset=".296" stop-color="#48039f"/><stop offset=".374" stop-color="#48039f"/><stop offset=".603" stop-color="#2a0593"/><stop offset=".723" stop-color="#19068c"/><stop offset=".769" stop-color="#130789"/><stop offset=".792" stop-color="#100788"/><stop offset=".809" stop-color="#100788"/><stop offset=".815" stop-color="#0d0887"/><stop offset=".866" stop-color="#0d0887"/><stop offset=".872" stop-color="#100788"/><stop offset=".901" stop-color="#100788"/><stop offset=".912" stop-color="#130789"/><stop offset="1.000" stop-color="#220690"/></linearGradient><linearGradient id="r240"><stop offset=".000" stop-color="#0d0887"/><stop offset=".036" stop-color="#0d0887"/><stop offset=".042" stop-color="#100788"/><stop offset=".053" stop-color="#100788"/><stop offset=".063" stop-color="#130789"/><stop offset=".212" stop-color="#3a049a"/><stop offset=".298" stop-color="#46039f"/><stop offset=".370" stop-color="#46039f"/><stop offset=".609" stop-color="#280592"/><stop offset=".737" stop-color="#16078a"/><stop offset=".769" stop-color="#130789"/><stop offset=".779" stop-color="#100788"/><stop offset=".805" stop-color="#100788"/><stop offset=".811" stop-color="#0d0887"/><stop offset=".868" stop-color="#0d0887"/><stop offset=".874" stop-color="#100788"/><stop offset=".903" stop-color="#100788"/><stop offset=".914" stop-color="#130789"/><stop offset="1.000" stop-color="#20068f"/></linearGradient><linearGradient id="r241"><stop offset=".000" stop-color="#0d0887"/><stop offset=".038" stop-color="#0d0887"/><stop offset=".044" stop-color="#100788"/><stop offset=".227" stop-color="#3c049b"/><stop offset=".309" stop-color="#44039e"/><stop offset=".384" stop-color="#43039e"/><stop offset=".628" stop-color="#240691"/><stop offset=".733" stop-color="#16078a"/><stop offset=".765" stop-color="#130789"/><stop offset=".775" stop-color="#100788"/><stop offset=".803" stop-color="#100788"/><stop offset=".809" stop-color="#0d0887"/><stop offset=".870" stop-color="#0d0887"/><stop offset=".876" stop-color="#100788"/><stop offset=".905" stop-color="#100788"/><stop offset=".916" stop-color="#130789"/><stop offset="1.000" stop-color="#20068f"/></linearGradient><linearGradient id="r242"><stop offset=".000" stop-color="#0d0887"/><stop offset=".038" stop-color="#0d0887"/><stop offset=".044" stop-color="#100788"/><stop offset=".055" stop-color="#100788"/><stop offset=".065" stop-color="#130789"/><stop offset=".214" stop-color="#38049a"/><stop offset=".303" stop-color="#43039e"/><stop offset=".399" stop-color="#3f049c"/><stop offset=".487" stop-color="#350498"/><stop offset=".729" stop-color="#16078a"/><stop offset=".761" stop-color="#130789"/><stop offset=".771" stop-color="#100788"/><stop offset=".798" stop-color="#100788"/><stop offset=".805" stop-color="#0d0887"/><stop offset=".872" stop-color="#0d0887"/><stop offset=".878" stop-color="#100788"/><stop offset=".908" stop-color="#100788"/><stop offset=".918" stop-color="#130789"/><stop offset="1.000" stop-color="#20068f"/></linearGradient><linearGradient id="r243"><stop offset=".000" stop-color="#0d0887"/><stop offset=".038" stop-color="#0d0887"/><stop offset=".044" stop-color="#100788"/><stop offset=".055" stop-color="#100788"/><stop offset=".065" stop-color="#130789"/><stop offset=".204" stop-color="#350498"/><stop offset=".279" stop-color="#3f049c"/><stop offset=".382" stop-color="#3f049c"/><stop offset=".489" stop-color="#330597"/><stop offset=".725" stop-color="#16078a"/><stop offset=".756" stop-color="#130789"/><stop offset=".767" stop-color="#100788"/><stop offset=".796" stop-color="#100788"/><stop offset=".803" stop-color="#0d0887"/><stop offset=".874" stop-color="#0d0887"/><stop offset=".880" stop-color="#100788"/><stop offset=".910" stop-color="#100788"/><stop offset=".920" stop-color="#130789"/><stop offset="1.000" stop-color="#1d068e"/></linearGradient><linearGradient id="r244"><stop offset=".000" stop-color="#0d0887"/><stop offset=".038" stop-color="#0d0887"/><stop offset=".044" stop-color="#100788"/><stop offset=".055" stop-color="#100788"/><stop offset=".065" stop-color="#130789"/><stop offset=".218" stop-color="#370499"/><stop offset=".305" stop-color="#3f049c"/><stop offset=".397" stop-color="#3c049b"/><stop offset=".475" stop-color="#330597"/><stop offset=".721" stop-color="#16078a"/><stop offset=".752" stop-color="#130789"/><stop offset=".763" stop-color="#100788"/><stop offset=".792" stop-color="#100788"/><stop offset=".798" stop-color="#0d0887"/><stop offset=".876" stop-color="#0d0887"/><stop offset=".882" stop-color="#100788"/><stop offset=".912" stop-color="#100788"/><stop offset=".922" stop-color="#130789"/><stop offset="1.000" stop-color="#1d068e"/></linearGradient><linearGradient id="r245"><stop offset=".000" stop-color="#0d0887"/><stop offset=".040" stop-color="#0d0887"/><stop offset=".046" stop-color="#100788"/><stop offset=".057" stop-color="#100788"/><stop offset=".067" stop-color="#130789"/><stop offset=".206" stop-color="#330597"/><stop offset=".292" stop-color="#3e049c"/><stop offset=".382" stop-color="#3c049b"/><stop offset=".477" stop-color="#310597"/><stop offset=".716" stop-color="#16078a"/><stop offset=".748" stop-color="#130789"/><stop offset=".758" stop-color="#100788"/><stop offset=".788" stop-color="#100788"/><stop offset=".794" stop-color="#0d0887"/><stop offset=".878" stop-color="#0d0887"/><stop offset=".884" stop-color="#100788"/><stop offset=".914" stop-color="#100788"/><stop offset=".924" stop-color="#130789"/><stop offset="1.000" stop-color="#1d068e"/></linearGradient><linearGradient id="r246"><stop offset=".000" stop-color="#0d0887"/><stop offset=".040" stop-color="#0d0887"/><stop offset=".046" stop-color="#100788"/><stop offset=".057" stop-color="#100788"/><stop offset=".067" stop-color="#130789"/><stop offset=".212" stop-color="#330597"/><stop offset=".296" stop-color="#3c049b"/><stop offset=".382" stop-color="#3a049a"/><stop offset=".481" stop-color="#2f0596"/><stop offset=".710" stop-color="#16078a"/><stop offset=".744" stop-color="#130789"/><stop offset=".754" stop-color="#100788"/><stop offset=".786" stop-color="#100788"/><stop offset=".792" stop-color="#0d0887"/><stop offset=".880" stop-color="#0d0887"/><stop offset=".887" stop-color="#100788"/><stop offset=".916" stop-color="#100788"/><stop offset=".926" stop-color="#130789"/><stop offset="1.000" stop-color="#1d068e"/></linearGradient><linearGradient id="r247"><stop offset=".000" stop-color="#0d0887"/><stop offset=".040" stop-color="#0d0887"/><stop offset=".046" stop-color="#100788"/><stop offset=".059" stop-color="#100788"/><stop offset=".069" stop-color="#130789"/><stop offset=".197" stop-color="#2f0596"/><stop offset=".288" stop-color="#3a049a"/><stop offset=".384" stop-color="#38049a"/><stop offset=".485" stop-color="#2e0595"/><stop offset=".706" stop-color="#16078a"/><stop offset=".739" stop-color="#130789"/><stop offset=".750" stop-color="#100788"/><stop offset=".782" stop-color="#100788"/><stop offset=".788" stop-color="#0d0887"/><stop offset=".882" stop-color="#0d0887"/><stop offset=".889" stop-color="#100788"/><stop offset=".918" stop-color="#100788"/><stop offset=".929" stop-color="#130789"/><stop offset="1.000" stop-color="#1b068d"/></linearGradient><linearGradient id="r248"><stop offset=".000" stop-color="#0d0887"/><stop offset=".040" stop-color="#0d0887"/><stop offset=".046" stop-color="#100788"/><stop offset=".059" stop-color="#100788"/><stop offset=".069" stop-color="#130789"/><stop offset=".204" stop-color="#2f0596"/><stop offset=".288" stop-color="#38049a"/><stop offset=".366" stop-color="#38049a"/><stop offset=".513" stop-color="#2a0593"/><stop offset=".700" stop-color="#16078a"/><stop offset=".733" stop-color="#130789"/><stop offset=".744" stop-color="#100788"/><stop offset=".777" stop-color="#100788"/><stop offset=".784" stop-color="#0d0887"/><stop offset=".882" stop-color="#0d0887"/><stop offset=".889" stop-color="#100788"/><stop offset=".920" stop-color="#100788"/><stop offset=".931" stop-color="#130789"/><stop offset="1.000" stop-color="#1b068d"/></linearGradient><linearGradient id="r249"><stop offset=".000" stop-color="#0d0887"/><stop offset=".042" stop-color="#0d0887"/><stop offset=".048" stop-color="#100788"/><stop offset=".059" stop-color="#100788"/><stop offset=".069" stop-color="#130789"/><stop offset=".208" stop-color="#2f0596"/><stop offset=".307" stop-color="#38049a"/><stop offset=".405" stop-color="#330597"/><stop offset=".477" stop-color="#2c0594"/><stop offset=".693" stop-color="#16078a"/><stop offset=".729" stop-color="#130789"/><stop offset=".739" stop-color="#100788"/><stop offset=".775" stop-color="#100788"/><stop offset=".782" stop-color="#0d0887"/><stop offset=".884" stop-color="#0d0887"/><stop offset=".891" stop-color="#100788"/><stop offset=".922" stop-color="#100788"/><stop offset=".933" stop-color="#130789"/><stop offset="1.000" stop-color="#1b068d"/></linearGradient><linearGradient id="r250"><stop offset=".000" stop-color="#0d0887"/><stop offset=".042" stop-color="#0d0887"/><stop offset=".048" stop-color="#100788"/><stop offset=".061" stop-color="#100788"/><stop offset=".071" stop-color="#130789"/><stop offset=".204" stop-color="#2e0595"/><stop offset=".298" stop-color="#370499"/><stop offset=".391" stop-color="#330597"/><stop offset=".481" stop-color="#2a0593"/><stop offset=".689" stop-color="#16078a"/><stop offset=".725" stop-color="#130789"/><stop offset=".735" stop-color="#100788"/><stop offset=".771" stop-color="#100788"/><stop offset=".777" stop-color="#0d0887"/><stop offset=".887" stop-color="#0d0887"/><stop offset=".893" stop-color="#100788"/><stop offset=".924" stop-color="#100788"/><stop offset=".935" stop-color="#130789"/><stop offset="1.000" stop-color="#1b068d"/></linearGradient><linearGradient id="r251"><stop offset=".000" stop-color="#0d0887"/><stop offset=".042" stop-color="#0d0887"/><stop offset=".048" stop-color="#100788"/><stop offset=".061" stop-color="#100788"/><stop offset=".071" stop-color="#130789"/><stop offset=".210" stop-color="#2e0595"/><stop offset=".300" stop-color="#350498"/><stop offset=".395" stop-color="#310597"/><stop offset=".489" stop-color="#280592"/><stop offset=".683" stop-color="#16078a"/><stop offset=".718" stop-color="#130789"/><stop offset=".729" stop-color="#100788"/><stop offset=".767" stop-color="#100788"/><stop offset=".773" stop-color="#0d0887"/><stop offset=".889" stop-color="#0d0887"/><stop offset=".895" stop-color="#100788"/><stop offset=".926" stop-color="#100788"/><stop offset=".937" stop-color="#130789"/><stop offset="1.000" stop-color="#1b068d"/></linearGradient><linearGradient id="r252"><stop offset=".000" stop-color="#0d0887"/><stop offset=".044" stop-color="#0d0887"/><stop offset=".050" stop-color="#100788"/><stop offset=".063" stop-color="#100788"/><stop offset=".074" stop-color="#130789"/><stop offset=".204" stop-color="#2c0594"/><stop offset=".288" stop-color="#330597"/><stop offset=".380" stop-color="#310597"/><stop offset=".479" stop-color="#280592"/><stop offset=".679" stop-color="#16078a"/><stop offset=".700" stop-color="#130789"/><stop offset=".714" stop-color="#130789"/><stop offset=".725" stop-color="#100788"/><stop offset=".763" stop-color="#100788"/><stop offset=".769" stop-color="#0d0887"/><stop offset=".891" stop-color="#0d0887"/><stop offset=".897" stop-color="#100788"/><stop offset=".929" stop-color="#100788"/><stop offset=".939" stop-color="#130789"/><stop offset="1.000" stop-color="#19068c"/></linearGradient><linearGradient id="r253"><stop offset=".000" stop-color="#0d0887"/><stop offset=".044" stop-color="#0d0887"/><stop offset=".050" stop-color="#100788"/><stop offset=".063" stop-color="#100788"/><stop offset=".074" stop-color="#130789"/><stop offset=".210" stop-color="#2c0594"/><stop offset=".311" stop-color="#330597"/><stop offset=".420" stop-color="#2c0594"/><stop offset=".670" stop-color="#16078a"/><stop offset=".708" stop-color="#130789"/><stop offset=".718" stop-color="#100788"/><stop offset=".758" stop-color="#100788"/><stop offset=".765" stop-color="#0d0887"/><stop offset=".893" stop-color="#0d0887"/><stop offset=".899" stop-color="#100788"/><stop offset=".931" stop-color="#100788"/><stop offset=".941" stop-color="#130789"/><stop offset="1.000" stop-color="#19068c"/></linearGradient><linearGradient id="r254"><stop offset=".000" stop-color="#0d0887"/><stop offset=".044" stop-color="#0d0887"/><stop offset=".050" stop-color="#100788"/><stop offset=".065" stop-color="#100788"/><stop offset=".076" stop-color="#130789"/><stop offset=".204" stop-color="#2a0593"/><stop offset=".298" stop-color="#310597"/><stop offset=".410" stop-color="#2c0594"/><stop offset=".475" stop-color="#260591"/><stop offset=".666" stop-color="#16078a"/><stop offset=".687" stop-color="#130789"/><stop offset=".704" stop-color="#130789"/><stop offset=".714" stop-color="#100788"/><stop offset=".754" stop-color="#100788"/><stop offset=".761" stop-color="#0d0887"/><stop offset=".895" stop-color="#0d0887"/><stop offset=".901" stop-color="#100788"/><stop offset=".935" stop-color="#100788"/><stop offset=".945" stop-color="#130789"/><stop offset="1.000" stop-color="#19068c"/></linearGradient><linearGradient id="r255"><stop offset=".000" stop-color="#0d0887"/><stop offset=".046" stop-color="#0d0887"/><stop offset=".053" stop-color="#100788"/><stop offset=".065" stop-color="#100788"/><stop offset=".076" stop-color="#130789"/><stop offset=".208" stop-color="#2a0593"/><stop offset=".298" stop-color="#2f0596"/><stop offset=".397" stop-color="#2c0594"/><stop offset=".485" stop-color="#240691"/><stop offset=".658" stop-color="#16078a"/><stop offset=".697" stop-color="#130789"/><stop offset=".708" stop-color="#100788"/><stop offset=".750" stop-color="#100788"/><stop offset=".756" stop-color="#0d0887"/><stop offset=".897" stop-color="#0d0887"/><stop offset=".903" stop-color="#100788"/><stop offset=".937" stop-color="#100788"/><stop offset=".947" stop-color="#130789"/><stop offset=".968" stop-color="#130789"/><stop offset=".989" stop-color="#16078a"/><stop offset="1.000" stop-color="#19068c"/></linearGradient><linearGradient id="r256"><stop offset=".000" stop-color="#0d0887"/><stop offset=".046" stop-color="#0d0887"/><stop offset=".053" stop-color="#100788"/><stop offset=".067" stop-color="#100788"/><stop offset=".078" stop-color="#130789"/><stop offset=".202" stop-color="#280592"/><stop offset=".282" stop-color="#2e0595"/><stop offset=".359" stop-color="#2e0595"/><stop offset=".471" stop-color="#240691"/><stop offset=".651" stop-color="#16078a"/><stop offset=".672" stop-color="#130789"/><stop offset=".691" stop-color="#130789"/><stop offset=".702" stop-color="#100788"/><stop offset=".744" stop-color="#100788"/><stop offset=".750" stop-color="#0d0887"/><stop offset=".899" stop-color="#0d0887"/><stop offset=".905" stop-color="#100788"/><stop offset=".941" stop-color="#100788"/><stop offset=".952" stop-color="#130789"/><stop offset="1.000" stop-color="#19068c"/></linearGradient><linearGradient id="r257"><stop offset=".000" stop-color="#0d0887"/><stop offset=".046" stop-color="#0d0887"/><stop offset=".053" stop-color="#100788"/><stop offset=".067" stop-color="#100788"/><stop offset=".078" stop-color="#130789"/><stop offset=".208" stop-color="#280592"/><stop offset=".307" stop-color="#2e0595"/><stop offset=".412" stop-color="#280592"/><stop offset=".645" stop-color="#16078a"/><stop offset=".666" stop-color="#130789"/><stop offset=".685" stop-color="#130789"/><stop offset=".695" stop-color="#100788"/><stop offset=".739" stop-color="#100788"/><stop offset=".746" stop-color="#0d0887"/><stop offset=".901" stop-color="#0d0887"/><stop offset=".908" stop-color="#100788"/><stop offset=".943" stop-color="#100788"/><stop offset=".954" stop-color="#130789"/><stop offset=".975" stop-color="#130789"/><stop offset=".996" stop-color="#16078a"/><stop offset="1.000" stop-color="#16078a"/></linearGradient><linearGradient id="r258"><stop offset=".000" stop-color="#0d0887"/><stop offset=".048" stop-color="#0d0887"/><stop offset=".055" stop-color="#100788"/><stop offset=".069" stop-color="#100788"/><stop offset=".080" stop-color="#130789"/><stop offset=".202" stop-color="#260591"/><stop offset=".286" stop-color="#2c0594"/><stop offset=".378" stop-color="#2a0593"/><stop offset=".468" stop-color="#220690"/><stop offset=".637" stop-color="#16078a"/><stop offset=".658" stop-color="#130789"/><stop offset=".679" stop-color="#130789"/><stop offset=".689" stop-color="#100788"/><stop offset=".735" stop-color="#100788"/><stop offset=".742" stop-color="#0d0887"/><stop offset=".903" stop-color="#0d0887"/><stop offset=".910" stop-color="#100788"/><stop offset=".947" stop-color="#100788"/><stop offset=".958" stop-color="#130789"/><stop offset=".979" stop-color="#130789"/><stop offset="1.000" stop-color="#16078a"/></linearGradient><linearGradient id="r259"><stop offset=".000" stop-color="#0d0887"/><stop offset=".048" stop-color="#0d0887"/><stop offset=".055" stop-color="#100788"/><stop offset=".069" stop-color="#100788"/><stop offset=".080" stop-color="#130789"/><stop offset=".223" stop-color="#280592"/><stop offset=".326" stop-color="#2c0594"/><stop offset=".630" stop-color="#16078a"/><stop offset=".651" stop-color="#130789"/><stop offset=".672" stop-color="#130789"/><stop offset=".683" stop-color="#100788"/><stop offset=".729" stop-color="#100788"/><stop offset=".735" stop-color="#0d0887"/><stop offset=".908" stop-color="#0d0887"/><stop offset=".914" stop-color="#100788"/><stop offset=".950" stop-color="#100788"/><stop offset=".960" stop-color="#130789"/><stop offset=".983" stop-color="#130789"/><stop offset="1.000" stop-color="#16078a"/></linearGradient><linearGradient id="r260"><stop offset=".000" stop-color="#0d0887"/><stop offset=".048" stop-color="#0d0887"/><stop offset=".055" stop-color="#100788"/><stop offset=".071" stop-color="#100788"/><stop offset=".082" stop-color="#130789"/><stop offset=".197" stop-color="#240691"/><stop offset=".286" stop-color="#2a0593"/><stop offset=".376" stop-color="#280592"/><stop offset=".471" stop-color="#20068f"/><stop offset=".622" stop-color="#16078a"/><stop offset=".643" stop-color="#130789"/><stop offset=".666" stop-color="#130789"/><stop offset=".676" stop-color="#100788"/><stop offset=".725" stop-color="#100788"/><stop offset=".731" stop-color="#0d0887"/><stop offset=".910" stop-color="#0d0887"/><stop offset=".916" stop-color="#100788"/><stop offset=".954" stop-color="#100788"/><stop offset=".964" stop-color="#130789"/><stop offset=".987" stop-color="#130789"/><stop offset="1.000" stop-color="#16078a"/></linearGradient><linearGradient id="r261"><stop offset=".000" stop-color="#0d0887"/><stop offset=".050" stop-color="#0d0887"/><stop offset=".057" stop-color="#100788"/><stop offset=".071" stop-color="#100788"/><stop offset=".082" stop-color="#130789"/><stop offset=".204" stop-color="#240691"/><stop offset=".315" stop-color="#2a0593"/><stop offset=".613" stop-color="#16078a"/><stop offset=".634" stop-color="#130789"/><stop offset=".660" stop-color="#130789"/><stop offset=".670" stop-color="#100788"/><stop offset=".718" stop-color="#100788"/><stop offset=".725" stop-color="#0d0887"/><stop offset=".912" stop-color="#0d0887"/><stop offset=".918" stop-color="#100788"/><stop offset=".958" stop-color="#100788"/><stop offset=".968" stop-color="#130789"/><stop offset=".992" stop-color="#130789"/><stop offset="1.000" stop-color="#16078a"/></linearGradient><linearGradient id="r262"><stop offset=".000" stop-color="#0d0887"/><stop offset=".050" stop-color="#0d0887"/><stop offset=".057" stop-color="#100788"/><stop offset=".074" stop-color="#100788"/><stop offset=".084" stop-color="#130789"/><stop offset=".210" stop-color="#240691"/><stop offset=".309" stop-color="#280592"/><stop offset=".422" stop-color="#220690"/><stop offset=".485" stop-color="#1d068e"/><stop offset=".607" stop-color="#16078a"/><stop offset=".628" stop-color="#130789"/><stop offset=".653" stop-color="#130789"/><stop offset=".664" stop-color="#100788"/><stop offset=".714" stop-color="#100788"/><stop offset=".721" stop-color="#0d0887"/><stop offset=".914" stop-color="#0d0887"/><stop offset=".920" stop-color="#100788"/><stop offset=".962" stop-color="#100788"/><stop offset=".973" stop-color="#130789"/><stop offset=".998" stop-color="#130789"/><stop offset="1.000" stop-color="#16078a"/></linearGradient><linearGradient id="r263"><stop offset=".000" stop-color="#0d0887"/><stop offset=".053" stop-color="#0d0887"/><stop offset=".059" stop-color="#100788"/><stop offset=".076" stop-color="#100788"/><stop offset=".086" stop-color="#130789"/><stop offset=".200" stop-color="#220690"/><stop offset=".309" stop-color="#280592"/><stop offset=".513" stop-color="#1b068d"/><stop offset=".597" stop-color="#16078a"/><stop offset=".618" stop-color="#130789"/><stop offset=".645" stop-color="#130789"/><stop offset=".655" stop-color="#100788"/><stop offset=".708" stop-color="#100788"/><stop offset=".714" stop-color="#0d0887"/><stop offset=".918" stop-color="#0d0887"/><stop offset=".924" stop-color="#100788"/><stop offset=".964" stop-color="#100788"/><stop offset=".975" stop-color="#130789"/><stop offset="1.000" stop-color="#130789"/></linearGradient><linearGradient id="r264"><stop offset=".000" stop-color="#0d0887"/><stop offset=".053" stop-color="#0d0887"/><stop offset=".059" stop-color="#100788"/><stop offset=".076" stop-color="#100788"/><stop offset=".086" stop-color="#130789"/><stop offset=".206" stop-color="#220690"/><stop offset=".294" stop-color="#260591"/><stop offset=".401" stop-color="#220690"/><stop offset=".458" stop-color="#1d068e"/><stop offset=".588" stop-color="#16078a"/><stop offset=".609" stop-color="#130789"/><stop offset=".639" stop-color="#130789"/><stop offset=".649" stop-color="#100788"/><stop offset=".702" stop-color="#100788"/><stop offset=".708" stop-color="#0d0887"/><stop offset=".920" stop-color="#0d0887"/><stop offset=".926" stop-color="#100788"/><stop offset=".968" stop-color="#100788"/><stop offset=".979" stop-color="#130789"/><stop offset="1.000" stop-color="#130789"/></linearGradient><linearGradient id="r265"><stop offset=".000" stop-color="#0d0887"/><stop offset=".053" stop-color="#0d0887"/><stop offset=".059" stop-color="#100788"/><stop offset=".078" stop-color="#100788"/><stop offset=".088" stop-color="#130789"/><stop offset=".214" stop-color="#220690"/><stop offset=".311" stop-color="#260591"/><stop offset=".481" stop-color="#1b068d"/><stop offset=".580" stop-color="#16078a"/><stop offset=".601" stop-color="#130789"/><stop offset=".630" stop-color="#130789"/><stop offset=".641" stop-color="#100788"/><stop offset=".697" stop-color="#100788"/><stop offset=".704" stop-color="#0d0887"/><stop offset=".922" stop-color="#0d0887"/><stop offset=".929" stop-color="#100788"/><stop offset=".973" stop-color="#100788"/><stop offset=".983" stop-color="#130789"/><stop offset="1.000" stop-color="#130789"/></linearGradient><linearGradient id="r266"><stop offset=".000" stop-color="#0d0887"/><stop offset=".055" stop-color="#0d0887"/><stop offset=".061" stop-color="#100788"/><stop offset=".080" stop-color="#100788"/><stop offset=".090" stop-color="#130789"/><stop offset=".221" stop-color="#220690"/><stop offset=".378" stop-color="#220690"/><stop offset=".464" stop-color="#1b068d"/><stop offset=".569" stop-color="#16078a"/><stop offset=".590" stop-color="#130789"/><stop offset=".622" stop-color="#130789"/><stop offset=".632" stop-color="#100788"/><stop offset=".691" stop-color="#100788"/><stop offset=".697" stop-color="#0d0887"/><stop offset=".926" stop-color="#0d0887"/><stop offset=".933" stop-color="#100788"/><stop offset=".979" stop-color="#100788"/><stop offset=".989" stop-color="#130789"/><stop offset="1.000" stop-color="#130789"/></linearGradient><linearGradient id="r267"><stop offset=".000" stop-color="#0d0887"/><stop offset=".055" stop-color="#0d0887"/><stop offset=".061" stop-color="#100788"/><stop offset=".080" stop-color="#100788"/><stop offset=".090" stop-color="#130789"/><stop offset=".208" stop-color="#20068f"/><stop offset=".313" stop-color="#240691"/><stop offset=".504" stop-color="#19068c"/><stop offset=".561" stop-color="#16078a"/><stop offset=".582" stop-color="#130789"/><stop offset=".616" stop-color="#130789"/><stop offset=".626" stop-color="#100788"/><stop offset=".685" stop-color="#100788"/><stop offset=".691" stop-color="#0d0887"/><stop offset=".931" stop-color="#0d0887"/><stop offset=".937" stop-color="#100788"/><stop offset=".983" stop-color="#100788"/><stop offset=".994" stop-color="#130789"/><stop offset="1.000" stop-color="#130789"/></linearGradient><linearGradient id="r268"><stop offset=".000" stop-color="#0d0887"/><stop offset=".057" stop-color="#0d0887"/><stop offset=".063" stop-color="#100788"/><stop offset=".082" stop-color="#100788"/><stop offset=".092" stop-color="#130789"/><stop offset=".214" stop-color="#20068f"/><stop offset=".382" stop-color="#20068f"/><stop offset=".479" stop-color="#19068c"/><stop offset=".550" stop-color="#16078a"/><stop offset=".571" stop-color="#130789"/><stop offset=".607" stop-color="#130789"/><stop offset=".618" stop-color="#100788"/><stop offset=".679" stop-color="#100788"/><stop offset=".685" stop-color="#0d0887"/><stop offset=".933" stop-color="#0d0887"/><stop offset=".939" stop-color="#100788"/><stop offset=".987" stop-color="#100788"/><stop offset=".998" stop-color="#130789"/><stop offset="1.000" stop-color="#130789"/></linearGradient><linearGradient id="r269"><stop offset=".000" stop-color="#0d0887"/><stop offset=".057" stop-color="#0d0887"/><stop offset=".063" stop-color="#100788"/><stop offset=".084" stop-color="#100788"/><stop offset=".095" stop-color="#130789"/><stop offset=".223" stop-color="#20068f"/><stop offset=".372" stop-color="#20068f"/><stop offset=".468" stop-color="#19068c"/><stop offset=".540" stop-color="#16078a"/><stop offset=".561" stop-color="#130789"/><stop offset=".599" stop-color="#130789"/><stop offset=".609" stop-color="#100788"/><stop offset=".672" stop-color="#100788"/><stop offset=".679" stop-color="#0d0887"/><stop offset=".937" stop-color="#0d0887"/><stop offset=".943" stop-color="#100788"/><stop offset=".994" stop-color="#100788"/><stop offset="1.000" stop-color="#130789"/></linearGradient><linearGradient id="r270"><stop offset=".000" stop-color="#0d0887"/><stop offset=".059" stop-color="#0d0887"/><stop offset=".065" stop-color="#100788"/><stop offset=".086" stop-color="#100788"/><stop offset=".097" stop-color="#130789"/><stop offset=".231" stop-color="#20068f"/><stop offset=".357" stop-color="#20068f"/><stop offset=".460" stop-color="#19068c"/><stop offset=".529" stop-color="#16078a"/><stop offset=".550" stop-color="#130789"/><stop offset=".588" stop-color="#130789"/><stop offset=".599" stop-color="#100788"/><stop offset=".664" stop-color="#100788"/><stop offset=".670" stop-color="#0d0887"/><stop offset=".941" stop-color="#0d0887"/><stop offset=".947" stop-color="#100788"/><stop offset=".998" stop-color="#100788"/><stop offset="1.000" stop-color="#130789"/></linearGradient><linearGradient id="r271"><stop offset=".000" stop-color="#0d0887"/><stop offset=".059" stop-color="#0d0887"/><stop offset=".065" stop-color="#100788"/><stop offset=".088" stop-color="#100788"/><stop offset=".099" stop-color="#130789"/><stop offset=".214" stop-color="#1d068e"/><stop offset=".380" stop-color="#1d068e"/><stop offset=".494" stop-color="#16078a"/><stop offset=".517" stop-color="#16078a"/><stop offset=".538" stop-color="#130789"/><stop offset=".580" stop-color="#130789"/><stop offset=".590" stop-color="#100788"/><stop offset=".658" stop-color="#100788"/><stop offset=".664" stop-color="#0d0887"/><stop offset=".945" stop-color="#0d0887"/><stop offset=".952" stop-color="#100788"/><stop offset="1.000" stop-color="#100788"/></linearGradient><linearGradient id="r272"><stop offset=".000" stop-color="#0d0887"/><stop offset=".061" stop-color="#0d0887"/><stop offset=".067" stop-color="#100788"/><stop offset=".088" stop-color="#100788"/><stop offset=".099" stop-color="#130789"/><stop offset=".223" stop-color="#1d068e"/><stop offset=".370" stop-color="#1d068e"/><stop offset=".473" stop-color="#16078a"/><stop offset=".504" stop-color="#16078a"/><stop offset=".525" stop-color="#130789"/><stop offset=".571" stop-color="#130789"/><stop offset=".582" stop-color="#100788"/><stop offset=".651" stop-color="#100788"/><stop offset=".658" stop-color="#0d0887"/><stop offset=".947" stop-color="#0d0887"/><stop offset=".954" stop-color="#100788"/><stop offset="1.000" stop-color="#100788"/></linearGradient><linearGradient id="r273"><stop offset=".000" stop-color="#0d0887"/><stop offset=".061" stop-color="#0d0887"/><stop offset=".067" stop-color="#100788"/><stop offset=".090" stop-color="#100788"/><stop offset=".101" stop-color="#130789"/><stop offset=".233" stop-color="#1d068e"/><stop offset=".355" stop-color="#1d068e"/><stop offset=".468" stop-color="#16078a"/><stop offset=".492" stop-color="#16078a"/><stop offset=".513" stop-color="#130789"/><stop offset=".561" stop-color="#130789"/><stop offset=".571" stop-color="#100788"/><stop offset=".643" stop-color="#100788"/><stop offset=".649" stop-color="#0d0887"/><stop offset=".952" stop-color="#0d0887"/><stop offset=".958" stop-color="#100788"/><stop offset="1.000" stop-color="#100788"/></linearGradient><linearGradient id="r274"><stop offset=".000" stop-color="#0d0887"/><stop offset=".063" stop-color="#0d0887"/><stop offset=".069" stop-color="#100788"/><stop offset=".092" stop-color="#100788"/><stop offset=".103" stop-color="#130789"/><stop offset=".210" stop-color="#1b068d"/><stop offset=".384" stop-color="#1b068d"/><stop offset=".458" stop-color="#16078a"/><stop offset=".550" stop-color="#130789"/><stop offset=".561" stop-color="#100788"/><stop offset=".637" stop-color="#100788"/><stop offset=".643" stop-color="#0d0887"/><stop offset=".958" stop-color="#0d0887"/><stop offset=".964" stop-color="#100788"/><stop offset="1.000" stop-color="#100788"/></linearGradient><linearGradient id="r275"><stop offset=".000" stop-color="#0d0887"/><stop offset=".063" stop-color="#0d0887"/><stop offset=".069" stop-color="#100788"/><stop offset=".095" stop-color="#100788"/><stop offset=".105" stop-color="#130789"/><stop offset=".218" stop-color="#1b068d"/><stop offset=".372" stop-color="#1b068d"/><stop offset=".454" stop-color="#16078a"/><stop offset=".540" stop-color="#130789"/><stop offset=".550" stop-color="#100788"/><stop offset=".628" stop-color="#100788"/><stop offset=".634" stop-color="#0d0887"/><stop offset=".962" stop-color="#0d0887"/><stop offset=".968" stop-color="#100788"/><stop offset="1.000" stop-color="#100788"/></linearGradient><linearGradient id="r276"><stop offset=".000" stop-color="#0d0887"/><stop offset=".065" stop-color="#0d0887"/><stop offset=".071" stop-color="#100788"/><stop offset=".097" stop-color="#100788"/><stop offset=".107" stop-color="#130789"/><stop offset=".229" stop-color="#1b068d"/><stop offset=".359" stop-color="#1b068d"/><stop offset=".447" stop-color="#16078a"/><stop offset=".468" stop-color="#130789"/><stop offset=".529" stop-color="#130789"/><stop offset=".540" stop-color="#100788"/><stop offset=".620" stop-color="#100788"/><stop offset=".626" stop-color="#0d0887"/><stop offset=".966" stop-color="#0d0887"/><stop offset=".973" stop-color="#100788"/><stop offset="1.000" stop-color="#100788"/></linearGradient><linearGradient id="r277"><stop offset=".000" stop-color="#0d0887"/><stop offset=".067" stop-color="#0d0887"/><stop offset=".074" stop-color="#100788"/><stop offset=".099" stop-color="#100788"/><stop offset=".109" stop-color="#130789"/><stop offset=".242" stop-color="#1b068d"/><stop offset=".393" stop-color="#19068c"/><stop offset=".435" stop-color="#16078a"/><stop offset=".456" stop-color="#130789"/><stop offset=".517" stop-color="#130789"/><stop offset=".527" stop-color="#100788"/><stop offset=".611" stop-color="#100788"/><stop offset=".618" stop-color="#0d0887"/><stop offset=".971" stop-color="#0d0887"/><stop offset=".977" stop-color="#100788"/><stop offset="1.000" stop-color="#100788"/></linearGradient><linearGradient id="r278"><stop offset=".000" stop-color="#0d0887"/><stop offset=".067" stop-color="#0d0887"/><stop offset=".074" stop-color="#100788"/><stop offset=".101" stop-color="#100788"/><stop offset=".111" stop-color="#130789"/><stop offset=".132" stop-color="#130789"/><stop offset=".153" stop-color="#16078a"/><stop offset=".269" stop-color="#1b068d"/><stop offset=".382" stop-color="#19068c"/><stop offset=".426" stop-color="#16078a"/><stop offset=".447" stop-color="#130789"/><stop offset=".506" stop-color="#130789"/><stop offset=".517" stop-color="#100788"/><stop offset=".603" stop-color="#100788"/><stop offset=".609" stop-color="#0d0887"/><stop offset=".977" stop-color="#0d0887"/><stop offset=".983" stop-color="#100788"/><stop offset="1.000" stop-color="#100788"/></linearGradient><linearGradient id="r279"><stop offset=".000" stop-color="#0d0887"/><stop offset=".069" stop-color="#0d0887"/><stop offset=".076" stop-color="#100788"/><stop offset=".105" stop-color="#100788"/><stop offset=".116" stop-color="#130789"/><stop offset=".137" stop-color="#130789"/><stop offset=".158" stop-color="#16078a"/><stop offset=".294" stop-color="#1b068d"/><stop offset=".418" stop-color="#16078a"/><stop offset=".439" stop-color="#130789"/><stop offset=".494" stop-color="#130789"/><stop offset=".504" stop-color="#100788"/><stop offset=".595" stop-color="#100788"/><stop offset=".601" stop-color="#0d0887"/><stop offset=".983" stop-color="#0d0887"/><stop offset=".989" stop-color="#100788"/><stop offset="1.000" stop-color="#100788"/></linearGradient><linearGradient id="r280"><stop offset=".000" stop-color="#0d0887"/><stop offset=".071" stop-color="#0d0887"/><stop offset=".078" stop-color="#100788"/><stop offset=".107" stop-color="#100788"/><stop offset=".118" stop-color="#130789"/><stop offset=".141" stop-color="#130789"/><stop offset=".162" stop-color="#16078a"/><stop offset=".269" stop-color="#19068c"/><stop offset=".359" stop-color="#19068c"/><stop offset=".410" stop-color="#16078a"/><stop offset=".431" stop-color="#130789"/><stop offset=".479" stop-color="#130789"/><stop offset=".489" stop-color="#100788"/><stop offset=".586" stop-color="#100788"/><stop offset=".592" stop-color="#0d0887"/><stop offset=".987" stop-color="#0d0887"/><stop offset=".994" stop-color="#100788"/><stop offset="1.000" stop-color="#100788"/></linearGradient><linearGradient id="r281"><stop offset=".000" stop-color="#0d0887"/><stop offset=".071" stop-color="#0d0887"/><stop offset=".078" stop-color="#100788"/><stop offset=".109" stop-color="#100788"/><stop offset=".120" stop-color="#130789"/><stop offset=".145" stop-color="#130789"/><stop offset=".166" stop-color="#16078a"/><stop offset=".347" stop-color="#19068c"/><stop offset=".399" stop-color="#16078a"/><stop offset=".420" stop-color="#130789"/><stop offset=".464" stop-color="#130789"/><stop offset=".475" stop-color="#100788"/><stop offset=".578" stop-color="#100788"/><stop offset=".584" stop-color="#0d0887"/><stop offset=".994" stop-color="#0d0887"/><stop offset="1.000" stop-color="#100788"/></linearGradient><linearGradient id="r282"><stop offset=".000" stop-color="#0d0887"/><stop offset=".074" stop-color="#0d0887"/><stop offset=".080" stop-color="#100788"/><stop offset=".111" stop-color="#100788"/><stop offset=".122" stop-color="#130789"/><stop offset=".149" stop-color="#130789"/><stop offset=".170" stop-color="#16078a"/><stop offset=".332" stop-color="#19068c"/><stop offset=".391" stop-color="#16078a"/><stop offset=".412" stop-color="#130789"/><stop offset=".450" stop-color="#130789"/><stop offset=".460" stop-color="#100788"/><stop offset=".567" stop-color="#100788"/><stop offset=".574" stop-color="#0d0887"/><stop offset="1.000" stop-color="#0d0887"/></linearGradient><linearGradient id="r283"><stop offset=".000" stop-color="#0d0887"/><stop offset=".076" stop-color="#0d0887"/><stop offset=".082" stop-color="#100788"/><stop offset=".116" stop-color="#100788"/><stop offset=".126" stop-color="#130789"/><stop offset=".155" stop-color="#130789"/><stop offset=".176" stop-color="#16078a"/><stop offset=".315" stop-color="#19068c"/><stop offset=".374" stop-color="#16078a"/><stop offset=".437" stop-color="#130789"/><stop offset=".447" stop-color="#100788"/><stop offset=".559" stop-color="#100788"/><stop offset=".565" stop-color="#0d0887"/><stop offset="1.000" stop-color="#0d0887"/></linearGradient><linearGradient id="r284"><stop offset=".000" stop-color="#0d0887"/><stop offset=".078" stop-color="#0d0887"/><stop offset=".084" stop-color="#100788"/><stop offset=".118" stop-color="#100788"/><stop offset=".128" stop-color="#130789"/><stop offset=".162" stop-color="#130789"/><stop offset=".183" stop-color="#16078a"/><stop offset=".290" stop-color="#19068c"/><stop offset=".349" stop-color="#16078a"/><stop offset=".370" stop-color="#16078a"/><stop offset=".391" stop-color="#130789"/><stop offset=".429" stop-color="#130789"/><stop offset=".439" stop-color="#100788"/><stop offset=".548" stop-color="#100788"/><stop offset=".555" stop-color="#0d0887"/><stop offset="1.000" stop-color="#0d0887"/></linearGradient><linearGradient id="r285"><stop offset=".000" stop-color="#0d0887"/><stop offset=".078" stop-color="#0d0887"/><stop offset=".084" stop-color="#100788"/><stop offset=".122" stop-color="#100788"/><stop offset=".132" stop-color="#130789"/><stop offset=".168" stop-color="#130789"/><stop offset=".189" stop-color="#16078a"/><stop offset=".359" stop-color="#16078a"/><stop offset=".380" stop-color="#130789"/><stop offset=".420" stop-color="#130789"/><stop offset=".431" stop-color="#100788"/><stop offset=".538" stop-color="#100788"/><stop offset=".544" stop-color="#0d0887"/><stop offset="1.000" stop-color="#0d0887"/></linearGradient><linearGradient id="r286"><stop offset=".000" stop-color="#0d0887"/><stop offset=".080" stop-color="#0d0887"/><stop offset=".086" stop-color="#100788"/><stop offset=".126" stop-color="#100788"/><stop offset=".137" stop-color="#130789"/><stop offset=".174" stop-color="#130789"/><stop offset=".195" stop-color="#16078a"/><stop offset=".347" stop-color="#16078a"/><stop offset=".368" stop-color="#130789"/><stop offset=".412" stop-color="#130789"/><stop offset=".422" stop-color="#100788"/><stop offset=".527" stop-color="#100788"/><stop offset=".534" stop-color="#0d0887"/><stop offset="1.000" stop-color="#0d0887"/></linearGradient><linearGradient id="r287"><stop offset=".000" stop-color="#0d0887"/><stop offset=".082" stop-color="#0d0887"/><stop offset=".088" stop-color="#100788"/><stop offset=".128" stop-color="#100788"/><stop offset=".139" stop-color="#130789"/><stop offset=".183" stop-color="#130789"/><stop offset=".204" stop-color="#16078a"/><stop offset=".334" stop-color="#16078a"/><stop offset=".355" stop-color="#130789"/><stop offset=".403" stop-color="#130789"/><stop offset=".414" stop-color="#100788"/><stop offset=".515" stop-color="#100788"/><stop offset=".521" stop-color="#0d0887"/><stop offset="1.000" stop-color="#0d0887"/></linearGradient><linearGradient id="r288"><stop offset=".000" stop-color="#0d0887"/><stop offset=".084" stop-color="#0d0887"/><stop offset=".090" stop-color="#100788"/><stop offset=".132" stop-color="#100788"/><stop offset=".143" stop-color="#130789"/><stop offset=".193" stop-color="#130789"/><stop offset=".214" stop-color="#16078a"/><stop offset=".319" stop-color="#16078a"/><stop offset=".340" stop-color="#130789"/><stop offset=".395" stop-color="#130789"/><stop offset=".405" stop-color="#100788"/><stop offset=".504" stop-color="#100788"/><stop offset=".511" stop-color="#0d0887"/><stop offset="1.000" stop-color="#0d0887"/></linearGradient><linearGradient id="r289"><stop offset=".000" stop-color="#0d0887"/><stop offset=".086" stop-color="#0d0887"/><stop offset=".092" stop-color="#100788"/><stop offset=".137" stop-color="#100788"/><stop offset=".147" stop-color="#130789"/><stop offset=".208" stop-color="#130789"/><stop offset=".229" stop-color="#16078a"/><stop offset=".300" stop-color="#16078a"/><stop offset=".321" stop-color="#130789"/><stop offset=".387" stop-color="#130789"/><stop offset=".397" stop-color="#100788"/><stop offset=".492" stop-color="#100788"/><stop offset=".498" stop-color="#0d0887"/><stop offset="1.000" stop-color="#0d0887"/></linearGradient><linearGradient id="r290"><stop offset=".000" stop-color="#0d0887"/><stop offset=".088" stop-color="#0d0887"/><stop offset=".095" stop-color="#100788"/><stop offset=".143" stop-color="#100788"/><stop offset=".153" stop-color="#130789"/><stop offset=".233" stop-color="#130789"/><stop offset=".254" stop-color="#16078a"/><stop offset=".376" stop-color="#130789"/><stop offset=".387" stop-color="#100788"/><stop offset=".479" stop-color="#100788"/><stop offset=".485" stop-color="#0d0887"/><stop offset="1.000" stop-color="#0d0887"/></linearGradient><linearGradient id="r291"><stop offset=".000" stop-color="#0d0887"/><stop offset=".090" stop-color="#0d0887"/><stop offset=".097" stop-color="#100788"/><stop offset=".147" stop-color="#100788"/><stop offset=".158" stop-color="#130789"/><stop offset=".368" stop-color="#130789"/><stop offset=".378" stop-color="#100788"/><stop offset=".464" stop-color="#100788"/><stop offset=".471" stop-color="#0d0887"/><stop offset="1.000" stop-color="#0d0887"/></linearGradient><linearGradient id="r292"><stop offset=".000" stop-color="#0d0887"/><stop offset=".092" stop-color="#0d0887"/><stop offset=".099" stop-color="#100788"/><stop offset=".153" stop-color="#100788"/><stop offset=".164" stop-color="#130789"/><stop offset=".357" stop-color="#130789"/><stop offset=".368" stop-color="#100788"/><stop offset=".450" stop-color="#100788"/><stop offset=".456" stop-color="#0d0887"/><stop offset="1.000" stop-color="#0d0887"/></linearGradient><linearGradient id="r293"><stop offset=".000" stop-color="#0d0887"/><stop offset=".097" stop-color="#0d0887"/><stop offset=".103" stop-color="#100788"/><stop offset=".160" stop-color="#100788"/><stop offset=".170" stop-color="#130789"/><stop offset=".345" stop-color="#130789"/><stop offset=".355" stop-color="#100788"/><stop offset=".437" stop-color="#100788"/><stop offset=".443" stop-color="#0d0887"/><stop offset="1.000" stop-color="#0d0887"/></linearGradient><linearGradient id="r294"><stop offset=".000" stop-color="#0d0887"/><stop offset=".099" stop-color="#0d0887"/><stop offset=".105" stop-color="#100788"/><stop offset=".168" stop-color="#100788"/><stop offset=".179" stop-color="#130789"/><stop offset=".332" stop-color="#130789"/><stop offset=".342" stop-color="#100788"/><stop offset=".429" stop-color="#100788"/><stop offset=".435" stop-color="#0d0887"/><stop offset="1.000" stop-color="#0d0887"/></linearGradient><linearGradient id="r295"><stop offset=".000" stop-color="#0d0887"/><stop offset=".101" stop-color="#0d0887"/><stop offset=".107" stop-color="#100788"/><stop offset=".176" stop-color="#100788"/><stop offset=".187" stop-color="#130789"/><stop offset=".319" stop-color="#130789"/><stop offset=".330" stop-color="#100788"/><stop offset=".422" stop-color="#100788"/><stop offset=".429" stop-color="#0d0887"/><stop offset="1.000" stop-color="#0d0887"/></linearGradient><linearGradient id="r296"><stop offset=".000" stop-color="#0d0887"/><stop offset=".103" stop-color="#0d0887"/><stop offset=".109" stop-color="#100788"/><stop offset=".187" stop-color="#100788"/><stop offset=".197" stop-color="#130789"/><stop offset=".305" stop-color="#130789"/><stop offset=".315" stop-color="#100788"/><stop offset=".414" stop-color="#100788"/><stop offset=".420" stop-color="#0d0887"/><stop offset="1.000" stop-color="#0d0887"/></linearGradient><linearGradient id="r297"><stop offset=".000" stop-color="#0d0887"/><stop offset=".107" stop-color="#0d0887"/><stop offset=".113" stop-color="#100788"/><stop offset=".202" stop-color="#100788"/><stop offset=".212" stop-color="#130789"/><stop offset=".284" stop-color="#130789"/><stop offset=".294" stop-color="#100788"/><stop offset=".408" stop-color="#100788"/><stop offset=".414" stop-color="#0d0887"/><stop offset="1.000" stop-color="#0d0887"/></linearGradient><linearGradient id="r298"><stop offset=".000" stop-color="#0d0887"/><stop offset=".109" stop-color="#0d0887"/><stop offset=".116" stop-color="#100788"/><stop offset=".399" stop-color="#100788"/><stop offset=".405" stop-color="#0d0887"/><stop offset="1.000" stop-color="#0d0887"/></linearGradient><linearGradient id="r299"><stop offset=".000" stop-color="#0d0887"/><stop offset=".113" stop-color="#0d0887"/><stop offset=".120" stop-color="#100788"/><stop offset=".391" stop-color="#100788"/><stop offset=".397" stop-color="#0d0887"/><stop offset="1.000" stop-color="#0d0887"/></linearGradient><linearGradient id="r300"><stop offset=".000" stop-color="#0d0887"/><stop offset=".118" stop-color="#0d0887"/><stop offset=".124" stop-color="#100788"/><stop offset=".382" stop-color="#100788"/><stop offset=".389" stop-color="#0d0887"/><stop offset="1.000" stop-color="#0d0887"/></linearGradient><linearGradient id="cb" x1="0" x2="0" y1="0" y2="1"><stop offset="0.000" stop-color="#f0f921"/><stop offset="0.040" stop-color="#f6e826"/><stop offset="0.080" stop-color="#fbd724"/><stop offset="0.120" stop-color="#fdc627"/><stop offset="0.160" stop-color="#feb72d"/><stop offset="0.200" stop-color="#fca636"/><stop offset="0.240" stop-color="#f9983e"/><stop offset="0.280" stop-color="#f58b47"/><stop offset="0.320" stop-color="#ef7e50"/><stop offset="0.360" stop-color="#e87059"/><stop offset="0.400" stop-color="#e16462"/><stop offset="0.440" stop-color="#d9586a"/><stop offset="0.480" stop-color="#d04d73"/><stop offset="0.520" stop-color="#c6417d"/><stop offset="0.560" stop-color="#bc3587"/><stop offset="0.600" stop-color="#b12a90"/><stop offset="0.640" stop-color="#a51f99"/><stop offset="0.680" stop-color="#9613a1"/><stop offset="0.720" stop-color="#8808a6"/><stop offset="0.760" stop-color="#7a02a8"/><stop offset="0.800" stop-color="#6a00a8"/><stop offset="0.840" stop-color="#5901a5"/><stop offset="0.880" stop-color="#4903a0"/><stop offset="0.920" stop-color="#38049a"/><stop offset="0.960" stop-color="#260591"/><stop offset="1.000" stop-color="#0d0887"/></linearGradient><clipPath id="bclip"><rect x="82" y="385" width="519" height="219"/></clipPath></defs>
<g><rect x="84" y="2" width="476" height="1" fill="url(#r0)"/><rect x="84" y="3" width="476" height="1" fill="url(#r1)"/><rect x="84" y="4" width="476" height="1" fill="url(#r2)"/><rect x="84" y="5" width="476" height="1" fill="url(#r3)"/><rect x="84" y="6" width="476" height="1" fill="url(#r4)"/><rect x="84" y="7" width="476" height="1" fill="url(#r5)"/><rect x="84" y="8" width="476" height="1" fill="url(#r6)"/><rect x="84" y="9" width="476" height="1" fill="url(#r7)"/><rect x="84" y="10" width="476" height="1" fill="url(#r8)"/><rect x="84" y="11" width="476" height="1" fill="url(#r9)"/><rect x="84" y="12" width="476" height="1" fill="url(#r10)"/><rect x="84" y="13" width="476" height="1" fill="url(#r11)"/><rect x="84" y="14" width="476" height="1" fill="url(#r12)"/><rect x="84" y="15" width="476" height="1" fill="url(#r13)"/><rect x="84" y="16" width="476" height="1" fill="url(#r14)"/><rect x="84" y="17" width="476" height="1" fill="url(#r15)"/><rect x="84" y="18" width="476" height="1" fill="url(#r16)"/><rect x="84" y="19" width="476" height="1" fill="url(#r17)"/><rect x="84" y="20" width="476" height="1" fill="url(#r18)"/><rect x="84" y="21" width="476" height="1" fill="url(#r19)"/><rect x="84" y="22" width="476" height="1" fill="url(#r20)"/><rect x="84" y="23" width="476" height="1" fill="url(#r21)"/><rect x="84" y="24" width="476" height="1" fill="url(#r22)"/><rect x="84" y="25" width="476" height="1" fill="url(#r23)"/><rect x="84" y="26" width="476" height="1" fill="url(#r24)"/><rect x="84" y="27" width="476" height="1" fill="url(#r25)"/><rect x="84" y="28" width="476" height="1" fill="url(#r26)"/><rect x="84" y="29" width="476" height="1" fill="url(#r27)"/><rect x="84" y="30" width="476" height="1" fill="url(#r28)"/><rect x="84" y="31" width="476" height="1" fill="url(#r29)"/><rect x="84" y="32" width="476" height="1" fill="url(#r30)"/><rect x="84" y="33" width="476" height="1" fill="url(#r31)"/><rect x="84" y="34" width="476" height="1" fill="url(#r32)"/><rect x="84" y="35" width="476" height="1" fill="url(#r33)"/><rect x="84" y="36" width="476" height="1" fill="url(#r34)"/><rect x="84" y="37" width="476" height="1" fill="url(#r35)"/><rect x="84" y="38" width="476" height="1" fill="url(#r36)"/><rect x="84" y="39" width="476" height="1" fill="url(#r37)"/><rect x="84" y="40" width="476" height="1" fill="url(#r38)"/><rect x="84" y="41" width="476" height="1" fill="url(#r39)"/><rect x="84" y="42" width="476" height="1" fill="url(#r40)"/><rect x="84" y="43" width="476" height="1" fill="url(#r41)"/><rect x="84" y="44" width="476" height="1" fill="url(#r42)"/><rect x="84" y="45" width="476" height="1" fill="url(#r43)"/><rect x="84" y="46" width="476" height="1" fill="url(#r44)"/><rect x="84" y="47" width="476" height="1" fill="url(#r45)"/><rect x="84" y="48" width="476" height="1" fill="url(#r46)"/><rect x="84" y="49" width="476" height="1" fill="url(#r47)"/><rect x="84" y="50" width="476" height="1" fill="url(#r48)"/><rect x="84" y="51" width="476" height="1" fill="url(#r49)"/><rect x="84" y="52" width="476" height="1" fill="url(#r50)"/><rect x="84" y="53" width="476" height="1" fill="url(#r51)"/><rect x="84" y="54" width="476" height="1" fill="url(#r52)"/><rect x="84" y="55" width="476" height="1" fill="url(#r53)"/><rect x="84" y="56" width="476" height="1" fill="url(#r54)"/><rect x="84" y="57" width="476" height="1" fill="url(#r55)"/><rect x="84" y="58" width="476" height="1" fill="url(#r56)"/><rect x="84" y="59" width="476" height="1" fill="url(#r57)"/><rect x="84" y="60" width="476" height="1" fill="url(#r58)"/><rect x="84" y="61" width="476" height="1" fill="url(#r59)"/><rect x="84" y="62" width="476" height="1" fill="url(#r60)"/><rect x="84" y="63" width="476" height="1" fill="url(#r61)"/><rect x="84" y="64" width="476" height="1" fill="url(#r62)"/><rect x="84" y="65" width="476" height="1" fill="url(#r63)"/><rect x="84" y="66" width="476" height="1" fill="url(#r64)"/><rect x="84" y="67" width="476" height="1" fill="url(#r65)"/><rect x="84" y="68" width="476" height="1" fill="url(#r66)"/><rect x="84" y="69" width="476" height="1" fill="url(#r67)"/><rect x="84" y="70" width="476" height="1" fill="url(#r68)"/><rect x="84" y="71" width="476" height="1" fill="url(#r69)"/><rect x="84" y="72" width="476" height="1" fill="url(#r70)"/><rect x="84" y="73" width="476" height="1" fill="url(#r71)"/><rect x="84" y="74" width="476" height="1" fill="url(#r72)"/><rect x="84" y="75" width="476" height="1" fill="url(#r73)"/><rect x="84" y="76" width="476" height="1" fill="url(#r74)"/><rect x="84" y="77" width="476" height="1" fill="url(#r75)"/><rect x="84" y="78" width="476" height="1" fill="url(#r76)"/><rect x="84" y="79" width="476" height="1" fill="url(#r77)"/><rect x="84" y="80" width="476" height="1" fill="url(#r78)"/><rect x="84" y="81" width="476" height="1" fill="url(#r79)"/><rect x="84" y="82" width="476" height="1" fill="url(#r80)"/><rect x="84" y="83" width="476" height="1" fill="url(#r81)"/><rect x="84" y="84" width="476" height="1" fill="url(#r82)"/><rect x="84" y="85" width="476" height="1" fill="url(#r83)"/><rect x="84" y="86" width="476" height="1" fill="url(#r84)"/><rect x="84" y="87" width="476" height="1" fill="url(#r85)"/><rect x="84" y="88" width="476" height="1" fill="url(#r86)"/><rect x="84" y="89" width="476" height="1" fill="url(#r87)"/><rect x="84" y="90" width="476" height="1" fill="url(#r88)"/><rect x="84" y="91" width="476" height="1" fill="url(#r89)"/><rect x="84" y="92" width="476" height="1" fill="url(#r90)"/><rect x="84" y="93" width="476" height="1" fill="url(#r91)"/><rect x="84" y="94" width="476" height="1" fill="url(#r92)"/><rect x="84" y="95" width="476" height="1" fill="url(#r93)"/><rect x="84" y="96" width="476" height="1" fill="url(#r94)"/><rect x="84" y="97" width="476" height="1" fill="url(#r95)"/><rect x="84" y="98" width="476" height="1" fill="url(#r96)"/><rect x="84" y="99" width="476" height="1" fill="url(#r97)"/><rect x="84" y="100" width="476" height="1" fill="url(#r98)"/><rect x="84" y="101" width="476" height="1" fill="url(#r99)"/><rect x="84" y="102" width="476" height="1" fill="url(#r100)"/><rect x="84" y="103" width="476" height="1" fill="url(#r101)"/><rect x="84" y="104" width="476" height="1" fill="url(#r102)"/><rect x="84" y="105" width="476" height="1" fill="url(#r103)"/><rect x="84" y="106" width="476" height="1" fill="url(#r104)"/><rect x="84" y="107" width="476" height="1" fill="url(#r105)"/><rect x="84" y="108" width="476" height="1" fill="url(#r106)"/><rect x="84" y="109" width="476" height="1" fill="url(#r107)"/><rect x="84" y="110" width="476" height="1" fill="url(#r108)"/><rect x="84" y="111" width="476" height="1" fill="url(#r109)"/><rect x="84" y="112" width="476" height="1" fill="url(#r110)"/><rect x="84" y="113" width="476" height="1" fill="url(#r111)"/><rect x="84" y="114" width="476" height="1" fill="url(#r112)"/><rect x="84" y="115" width="476" height="1" fill="url(#r113)"/><rect x="84" y="116" width="476" height="1" fill="url(#r114)"/><rect x="84" y="117" width="476" height="1" fill="url(#r115)"/><rect x="84" y="118" width="476" height="1" fill="url(#r116)"/><rect x="84" y="119" width="476" height="1" fill="url(#r117)"/><rect x="84" y="120" width="476" height="1" fill="url(#r118)"/><rect x="84" y="121" width="476" height="1" fill="url(#r119)"/><rect x="84" y="122" width="476" height="1" fill="url(#r120)"/><rect x="84" y="123" width="476" height="1" fill="url(#r121)"/><rect x="84" y="124" width="476" height="1" fill="url(#r122)"/><rect x="84" y="125" width="476" height="1" fill="url(#r123)"/><rect x="84" y="126" width="476" height="1" fill="url(#r124)"/><rect x="84" y="127" width="476" height="1" fill="url(#r125)"/><rect x="84" y="128" width="476" height="1" fill="url(#r126)"/><rect x="84" y="129" width="476" height="1" fill="url(#r127)"/><rect x="84" y="130" width="476" height="1" fill="url(#r128)"/><rect x="84" y="131" width="476" height="1" fill="url(#r129)"/><rect x="84" y="132" width="476" height="1" fill="url(#r130)"/><rect x="84" y="133" width="476" height="1" fill="url(#r131)"/><rect x="84" y="134" width="476" height="1" fill="url(#r132)"/><rect x="84" y="135" width="476" height="1" fill="url(#r133)"/><rect x="84" y="136" width="476" height="1" fill="url(#r134)"/><rect x="84" y="137" width="476" height="1" fill="url(#r135)"/><rect x="84" y="138" width="476" height="1" fill="url(#r136)"/><rect x="84" y="139" width="476" height="1" fill="url(#r137)"/><rect x="84" y="140" width="476" height="1" fill="url(#r138)"/><rect x="84" y="141" width="476" height="1" fill="url(#r139)"/><rect x="84" y="142" width="476" height="1" fill="url(#r140)"/><rect x="84" y="143" width="476" height="1" fill="url(#r141)"/><rect x="84" y="144" width="476" height="1" fill="url(#r142)"/><rect x="84" y="145" width="476" height="1" fill="url(#r143)"/><rect x="84" y="146" width="476" height="1" fill="url(#r144)"/><rect x="84" y="147" width="476" height="1" fill="url(#r145)"/><rect x="84" y="148" width="476" height="1" fill="url(#r146)"/><rect x="84" y="149" width="476" height="1" fill="url(#r147)"/><rect x="84" y="150" width="476" height="1" fill="url(#r148)"/><rect x="84" y="151" width="476" height="1" fill="url(#r149)"/><rect x="84" y="152" width="476" height="1" fill="url(#r150)"/><rect x="84" y="153" width="476" height="1" fill="url(#r151)"/><rect x="84" y="154" width="476" height="1" fill="url(#r152)"/><rect x="84" y="155" width="476" height="1" fill="url(#r153)"/><rect x="84" y="156" width="476" height="1" fill="url(#r154)"/><rect x="84" y="157" width="476" height="1" fill="url(#r155)"/><rect x="84" y="158" width="476" height="1" fill="url(#r156)"/><rect x="84" y="159" width="476" height="1" fill="url(#r157)"/><rect x="84" y="160" width="476" height="1" fill="url(#r158)"/><rect x="84" y="161" width="476" height="1" fill="url(#r159)"/><rect x="84" y="162" width="476" height="1" fill="url(#r160)"/><rect x="84" y="163" width="476" height="1" fill="url(#r161)"/><rect x="84" y="164" width="476" height="1" fill="url(#r162)"/><rect x="84" y="165" width="476" height="1" fill="url(#r163)"/><rect x="84" y="166" width="476" height="1" fill="url(#r164)"/><rect x="84" y="167" width="476" height="1" fill="url(#r165)"/><rect x="84" y="168" width="476" height="1" fill="url(#r166)"/><rect x="84" y="169" width="476" height="1" fill="url(#r167)"/><rect x="84" y="170" width="476" height="1" fill="url(#r168)"/><rect x="84" y="171" width="476" height="1" fill="url(#r169)"/><rect x="84" y="172" width="476" height="1" fill="url(#r170)"/><rect x="84" y="173" width="476" height="1" fill="url(#r171)"/><rect x="84" y="174" width="476" height="1" fill="url(#r172)"/><rect x="84" y="175" width="476" height="1" fill="url(#r173)"/><rect x="84" y="176" width="476" height="1" fill="url(#r174)"/><rect x="84" y="177" width="476" height="1" fill="url(#r175)"/><rect x="84" y="178" width="476" height="1" fill="url(#r176)"/><rect x="84" y="179" width="476" height="1" fill="url(#r177)"/><rect x="84" y="180" width="476" height="1" fill="url(#r178)"/><rect x="84" y="181" width="476" height="1" fill="url(#r179)"/><rect x="84" y="182" width="476" height="1" fill="url(#r180)"/><rect x="84" y="183" width="476" height="1" fill="url(#r181)"/><rect x="84" y="184" width="476" height="1" fill="url(#r182)"/><rect x="84" y="185" width="476" height="1" fill="url(#r183)"/><rect x="84" y="186" width="476" height="1" fill="url(#r184)"/><rect x="84" y="187" width="476" height="1" fill="url(#r185)"/><rect x="84" y="188" width="476" height="1" fill="url(#r186)"/><rect x="84" y="189" width="476" height="1" fill="url(#r187)"/><rect x="84" y="190" width="476" height="1" fill="url(#r188)"/><rect x="84" y="191" width="476" height="1" fill="url(#r189)"/><rect x="84" y="192" width="476" height="1" fill="url(#r190)"/><rect x="84" y="193" width="476" height="1" fill="url(#r191)"/><rect x="84" y="194" width="476" height="1" fill="url(#r192)"/><rect x="84" y="195" width="476" height="1" fill="url(#r193)"/><rect x="84" y="196" width="476" height="1" fill="url(#r194)"/><rect x="84" y="197" width="476" height="1" fill="url(#r195)"/><rect x="84" y="198" width="476" height="1" fill="url(#r196)"/><rect x="84" y="199" width="476" height="1" fill="url(#r197)"/><rect x="84" y="200" width="476" height="1" fill="url(#r198)"/><rect x="84" y="201" width="476" height="1" fill="url(#r199)"/><rect x="84" y="202" width="476" height="1" fill="url(#r200)"/><rect x="84" y="203" width="476" height="1" fill="url(#r201)"/><rect x="84" y="204" width="476" height="1" fill="url(#r202)"/><rect x="84" y="205" width="476" height="1" fill="url(#r203)"/><rect x="84" y="206" width="476" height="1" fill="url(#r204)"/><rect x="84" y="207" width="476" height="1" fill="url(#r205)"/><rect x="84" y="208" width="476" height="1" fill="url(#r206)"/><rect x="84" y="209" width="476" height="1" fill="url(#r207)"/><rect x="84" y="210" width="476" height="1" fill="url(#r208)"/><rect x="84" y="211" width="476" height="1" fill="url(#r209)"/><rect x="84" y="212" width="476" height="1" fill="url(#r210)"/><rect x="84" y="213" width="476" height="1" fill="url(#r211)"/><rect x="84" y="214" width="476" height="1" fill="url(#r212)"/><rect x="84" y="215" width="476" height="1" fill="url(#r213)"/><rect x="84" y="216" width="476" height="1" fill="url(#r214)"/><rect x="84" y="217" width="476" height="1" fill="url(#r215)"/><rect x="84" y="218" width="476" height="1" fill="url(#r216)"/><rect x="84" y="219" width="476" height="1" fill="url(#r217)"/><rect x="84" y="220" width="476" height="1" fill="url(#r218)"/><rect x="84" y="221" width="476" height="1" fill="url(#r219)"/><rect x="84" y="222" width="476" height="1" fill="url(#r220)"/><rect x="84" y="223" width="476" height="1" fill="url(#r221)"/><rect x="84" y="224" width="476" height="1" fill="url(#r222)"/><rect x="84" y="225" width="476" height="1" fill="url(#r223)"/><rect x="84" y="226" width="476" height="1" fill="url(#r224)"/><rect x="84" y="227" width="476" height="1" fill="url(#r225)"/><rect x="84" y="228" width="476" height="1" fill="url(#r226)"/><rect x="84" y="229" width="476" height="1" fill="url(#r227)"/><rect x="84" y="230" width="476" height="1" fill="url(#r228)"/><rect x="84" y="231" width="476" height="1" fill="url(#r229)"/><rect x="84" y="232" width="476" height="1" fill="url(#r230)"/><rect x="84" y="233" width="476" height="1" fill="url(#r231)"/><rect x="84" y="234" width="476" height="1" fill="url(#r232)"/><rect x="84" y="235" width="476" height="1" fill="url(#r233)"/><rect x="84" y="236" width="476" height="1" fill="url(#r234)"/><rect x="84" y="237" width="476" height="1" fill="url(#r235)"/><rect x="84" y="238" width="476" height="1" fill="url(#r236)"/><rect x="84" y="239" width="476" height="1" fill="url(#r237)"/><rect x="84" y="240" width="476" height="1" fill="url(#r238)"/><rect x="84" y="241" width="476" height="1" fill="url(#r239)"/><rect x="84" y="242" width="476" height="1" fill="url(#r240)"/><rect x="84" y="243" width="476" height="1" fill="url(#r241)"/><rect x="84" y="244" width="476" height="1" fill="url(#r242)"/><rect x="84" y="245" width="476" height="1" fill="url(#r243)"/><rect x="84" y="246" width="476" height="1" fill="url(#r244)"/><rect x="84" y="247" width="476" height="1" fill="url(#r245)"/><rect x="84" y="248" width="476" height="1" fill="url(#r246)"/><rect x="84" y="249" width="476" height="1" fill="url(#r247)"/><rect x="84" y="250" width="476" height="1" fill="url(#r248)"/><rect x="84" y="251" width="476" height="1" fill="url(#r249)"/><rect x="84" y="252" width="476" height="1" fill="url(#r250)"/><rect x="84" y="253" width="476" height="1" fill="url(#r251)"/><rect x="84" y="254" width="476" height="1" fill="url(#r252)"/><rect x="84" y="255" width="476" height="1" fill="url(#r253)"/><rect x="84" y="256" width="476" height="1" fill="url(#r254)"/><rect x="84" y="257" width="476" height="1" fill="url(#r255)"/><rect x="84" y="258" width="476" height="1" fill="url(#r256)"/><rect x="84" y="259" width="476" height="1" fill="url(#r257)"/><rect x="84" y="260" width="476" height="1" fill="url(#r258)"/><rect x="84" y="261" width="476" height="1" fill="url(#r259)"/><rect x="84" y="262" width="476" height="1" fill="url(#r260)"/><rect x="84" y="263" width="476" height="1" fill="url(#r261)"/><rect x="84" y="264" width="476" height="1" fill="url(#r262)"/><rect x="84" y="265" width="476" height="1" fill="url(#r263)"/><rect x="84" y="266" width="476" height="1" fill="url(#r264)"/><rect x="84" y="267" width="476" height="1" fill="url(#r265)"/><rect x="84" y="268" width="476" height="1" fill="url(#r266)"/><rect x="84" y="269" width="476" height="1" fill="url(#r267)"/><rect x="84" y="270" width="476" height="1" fill="url(#r268)"/><rect x="84" y="271" width="476" height="1" fill="url(#r269)"/><rect x="84" y="272" width="476" height="1" fill="url(#r270)"/><rect x="84" y="273" width="476" height="1" fill="url(#r271)"/><rect x="84" y="274" width="476" height="1" fill="url(#r272)"/><rect x="84" y="275" width="476" height="1" fill="url(#r273)"/><rect x="84" y="276" width="476" height="1" fill="url(#r274)"/><rect x="84" y="277" width="476" height="1" fill="url(#r275)"/><rect x="84" y="278" width="476" height="1" fill="url(#r276)"/><rect x="84" y="279" width="476" height="1" fill="url(#r277)"/><rect x="84" y="280" width="476" height="1" fill="url(#r278)"/><rect x="84" y="281" width="476" height="1" fill="url(#r279)"/><rect x="84" y="282" width="476" height="1" fill="url(#r280)"/><rect x="84" y="283" width="476" height="1" fill="url(#r281)"/><rect x="84" y="284" width="476" height="1" fill="url(#r282)"/><rect x="84" y="285" width="476" height="1" fill="url(#r283)"/><rect x="84" y="286" width="476" height="1" fill="url(#r284)"/><rect x="84" y="287" width="476" height="1" fill="url(#r285)"/><rect x="84" y="288" width="476" height="1" fill="url(#r286)"/><rect x="84" y="289" width="476" height="1" fill="url(#r287)"/><rect x="84" y="290" width="476" height="1" fill="url(#r288)"/><rect x="84" y="291" width="476" height="1" fill="url(#r289)"/><rect x="84" y="292" width="476" height="1" fill="url(#r290)"/><rect x="84" y="293" width="476" height="1" fill="url(#r291)"/><rect x="84" y="294" width="476" height="1" fill="url(#r292)"/><rect x="84" y="295" width="476" height="1" fill="url(#r293)"/><rect x="84" y="296" width="476" height="1" fill="url(#r294)"/><rect x="84" y="297" width="476" height="1" fill="url(#r295)"/><rect x="84" y="298" width="476" height="1" fill="url(#r296)"/><rect x="84" y="299" width="476" height="1" fill="url(#r297)"/><rect x="84" y="300" width="476" height="1" fill="url(#r298)"/><rect x="84" y="301" width="476" height="1" fill="url(#r299)"/><rect x="84" y="302" width="476" height="1" fill="url(#r300)"/></g><path d="M179.2 303V294.5M179.2 2V10.5M274.4 303V294.5M274.4 2V10.5M369.7 303V294.5M369.7 2V10.5M464.9 303V294.5M464.9 2V10.5M83 227.5H91.5M560 227.5H551.5M83 152.5H91.5M560 152.5H551.5M83 77.5H91.5M560 77.5H551.5" stroke="#000" stroke-opacity="0.85" stroke-width="1.1" fill="none"/><rect x="83.1" y="2" width="477" height="301" fill="none" stroke="#000" stroke-width="2.1"/><circle cx="294" cy="138.7" r="4.9" fill="none" stroke="#000" stroke-width="1.6"/><text x="90.6" y="36.6" font-family="'Liberation Serif', serif" font-size="30" fill="#fff">(<tspan font-weight="bold" font-size="29">a</tspan>)</text><rect x="572.5" y="2.3" width="23.5" height="300" fill="url(#cb)" stroke="#000" stroke-width="1"/><path d="M573 242.3H580.5M595.5 242.3H588M573 182.3H580.5M595.5 182.3H588M573 122.3H580.5M595.5 122.3H588M573 62.3H580.5M595.5 62.3H588" stroke="#000" stroke-opacity="0.75" stroke-width="1.1" fill="none"/>
<rect x="82.2" y="385.7" width="518" height="217.7" fill="none" stroke="#000" stroke-width="1.7"/><path d="M146.8 603V595.5M146.8 386V393.5M211.6 603V595.5M211.6 386V393.5M276.4 603V595.5M276.4 386V393.5M341.3 603V595.5M341.3 386V393.5M406.2 603V595.5M406.2 386V393.5M471.0 603V595.5M471.0 386V393.5M535.9 603V595.5M535.9 386V393.5M82 553.9H89.5M82 514.3H89.5M82 474.8H89.5M82 435.2H89.5M82 395.6H89.5M600 547.5H592.5M600 497.6H592.5M600 447.8H592.5M600 397.9H592.5" stroke="#000" stroke-width="1.1" fill="none"/><path d="M82.0 395.6L83.0 395.6 84.0 395.6 85.0 395.6 86.0 395.6 87.0 395.6 88.0 395.6 89.0 395.6 90.0 395.6 91.0 395.6 92.0 395.6 93.0 395.6 94.0 395.6 95.0 395.6 96.0 395.6 97.0 395.6 98.0 395.6 99.0 395.6 100.0 395.6 101.0 395.6 102.0 395.6 103.0 395.6 104.0 395.6 105.0 395.6 106.0 395.6 107.0 395.6 108.0 395.6 109.0 395.6 110.0 395.6 111.0 395.6 112.0 395.6 113.0 395.6 114.0 395.6 115.0 395.6 116.0 395.6 117.0 395.6 118.0 395.6 119.0 395.6 120.0 395.6 121.0 395.6 122.0 395.6 123.0 395.6 124.0 395.6 125.0 395.6 126.0 395.6 127.0 395.6 128.0 395.6 129.0 395.6 130.0 395.6 131.0 395.6 132.0 395.6 133.0 395.6 134.0 395.6 135.0 395.6 136.0 395.6 137.0 395.6 138.0 395.6 139.0 395.6 140.0 395.6 141.0 395.6 142.0 395.6 143.0 395.6 144.0 395.6 145.0 395.6 146.0 395.6 147.0 395.6 148.0 395.6 149.0 395.6 150.0 395.6 151.0 395.6 152.0 395.6 153.0 395.6 154.0 395.6 155.0 395.6 156.0 395.6 157.0 395.6 158.0 395.6 159.0 395.6 160.0 395.6 161.0 395.6 162.0 395.6 163.0 395.6 164.0 395.6 165.0 395.6 166.0 395.6 167.0 395.6 168.0 395.6 169.0 395.6 170.0 395.6 171.0 395.6 172.0 395.6 173.0 395.6 174.0 395.6 175.0 395.6 176.0 395.6 177.0 395.6 178.0 395.6 179.0 395.6 180.0 395.6 181.0 395.6 182.0 395.6 183.0 395.6 184.0 395.6 185.0 395.6 186.0 395.6 187.0 395.6 188.0 395.6 189.0 395.6 190.0 395.6 191.0 395.6 192.0 395.6 193.0 395.6 194.0 395.6 195.0 395.6 196.0 395.6 197.0 395.6 198.0 395.6 199.0 395.6 200.0 395.6 201.0 395.6 202.0 395.6 203.0 395.6 204.0 395.6 205.0 395.6 205.9 395.6 206.9 395.6 207.8 395.6 208.7 395.6 209.7 395.6 210.6 395.6 211.5 395.6 212.5 395.6 213.4 395.6 214.4 395.7 215.4 395.8 216.4 396.1 217.4 396.3 218.4 396.6 219.4 396.7 220.4 396.8 221.4 396.7 222.3 396.6 223.3 396.4 224.3 396.1 225.2 396.0 226.2 395.9 227.1 396.0 228.0 396.4 228.9 396.8 229.9 397.4 230.8 397.8 231.7 398.2 232.6 398.3 233.5 398.2 234.4 397.8 235.2 397.4 236.1 396.9 237.0 396.5 237.9 396.4 238.8 396.6 239.7 397.1 240.6 397.8 241.6 398.5 242.5 399.2 243.4 399.7 244.3 399.9 245.2 399.7 246.1 399.2 247.1 398.6 248.0 397.9 248.9 397.5 249.8 397.3 250.8 397.6 251.7 398.4 252.7 399.6 253.7 400.9 254.7 402.1 255.6 402.9 256.6 403.2 257.5 402.9 258.3 401.9 259.2 400.7 260.1 399.4 260.9 398.5 261.8 398.2 262.7 398.7 263.6 400.3 264.5 402.5 265.5 404.9 266.4 407.1 267.3 408.7 268.2 409.2 269.1 408.6 270.0 406.9 270.9 404.6 271.7 402.2 272.6 400.5 273.5 399.9 274.4 400.8 275.3 403.4 276.2 407.1 277.1 411.3 278.0 415.0 278.9 417.6 279.8 418.5 280.8 417.5 281.7 414.7 282.6 410.9 283.6 407.1 284.6 404.3 285.5 403.3 286.4 404.7 287.2 408.8 288.1 414.7 289.0 421.1 289.9 427.0 290.7 431.1 291.6 432.5 292.5 430.9 293.4 426.6 294.4 420.6 295.3 414.6 296.2 410.3 297.1 408.7 298.0 410.8 298.8 416.6 299.7 424.9 300.6 434.3 301.5 442.6 302.3 448.4 303.2 450.5 304.2 448.3 305.1 442.4 306.1 434.2 307.1 426.1 308.0 420.2 309.0 418.0 309.9 420.7 310.7 428.4 311.6 439.5 312.5 451.8 313.4 462.9 314.2 470.6 315.1 473.3 316.0 470.5 317.0 462.8 317.9 452.2 318.8 441.7 319.8 433.9 320.7 431.1 321.6 434.4 322.4 443.6 323.3 457.0 324.2 471.7 325.1 485.1 325.9 494.3 326.8 497.6 327.8 494.4 328.7 485.5 329.7 473.4 330.7 461.2 331.6 452.3 332.6 449.1 333.5 452.7 334.4 462.9 335.3 477.7 336.2 494.0 337.1 508.8 338.0 519.0 338.9 522.6 339.8 519.1 340.6 509.7 341.5 496.8 342.4 483.9 343.2 474.5 344.1 471.0 345.1 476.0 346.1 489.8 347.1 508.5 348.0 527.2 349.0 541.0 350.0 546.0 350.9 543.5 351.8 536.6 352.7 526.7 353.6 515.6 354.5 505.7 355.4 498.8 356.3 496.3 357.3 502.7 358.3 519.6 359.2 540.3 360.2 557.2 361.2 563.6 362.1 561.5 363.0 555.5 363.9 546.9 364.8 537.4 365.7 528.8 366.6 522.8 367.5 520.7 368.4 523.4 369.2 531.1 370.1 542.1 371.0 554.3 371.9 565.3 372.7 573.0 373.6 575.7 374.5 573.4 375.4 567.3 376.3 558.9 377.2 550.4 378.1 544.3 379.0 542.0 379.9 544.1 380.8 549.9 381.7 558.4 382.5 567.7 383.4 576.2 384.3 582.0 385.2 584.1 386.1 582.5 387.0 578.1 387.9 572.1 388.7 566.0 389.6 561.6 390.5 560.0 391.4 561.5 392.3 565.5 393.2 571.4 394.1 578.0 395.0 583.9 395.9 587.9 396.8 589.4 397.8 588.3 398.7 585.4 399.6 581.4 400.6 577.4 401.6 574.5 402.5 573.4 403.4 574.3 404.3 576.8 405.2 580.4 406.0 584.3 406.9 587.9 407.8 590.4 408.7 591.3 409.6 590.7 410.6 589.1 411.5 586.9 412.4 584.6 413.4 583.0 414.3 582.4 415.2 582.9 416.0 584.3 416.9 586.4 417.8 588.6 418.7 590.7 419.5 592.1 420.4 592.6 421.3 592.3 422.3 591.5 423.2 590.3 424.2 589.1 425.2 588.3 426.1 588.0 427.0 588.3 427.8 589.0 428.7 590.0 429.6 591.1 430.5 592.1 431.3 592.8 432.2 593.1 433.1 592.9 434.0 592.5 434.9 591.9 435.8 591.2 436.7 590.8 437.6 590.6 438.6 590.8 439.5 591.3 440.5 591.9 441.5 592.6 442.4 593.1 443.4 593.3 444.3 593.2 445.3 593.0 446.2 592.7 447.1 592.4 448.1 592.2 449.0 592.1 449.9 592.2 450.8 592.3 451.7 592.6 452.5 592.8 453.4 593.1 454.3 593.2 455.2 593.3 456.1 593.3 457.1 593.1 458.0 593.0 458.9 592.8 459.9 592.6 460.8 592.6 461.7 592.6 462.6 592.7 463.5 592.9 464.3 593.0 465.2 593.2 466.1 593.3 467.0 593.3 468.0 593.3 469.0 593.3 470.0 593.3 471.0 593.3 472.0 593.3 473.0 593.3 474.0 593.3 475.0 593.3 476.0 593.3 477.0 593.3 478.0 593.3 479.0 593.3 480.0 593.3 480.9 593.3 481.9 593.3 482.9 593.3 483.9 593.3 484.9 593.3 485.9 593.3 486.9 593.3 487.9 593.3 488.9 593.3 489.9 593.3 490.9 593.3 491.9 593.3 492.9 593.3 493.9 593.3 494.9 593.3 495.9 593.3 496.9 593.3 497.9 593.3 498.9 593.3 499.9 593.3 500.9 593.3 501.9 593.3 502.9 593.3 503.9 593.3 504.9 593.3 505.9 593.3 506.9 593.3 507.8 593.3 508.8 593.3 509.8 593.3 510.8 593.3 511.8 593.3 512.8 593.3 513.8 593.3 514.8 593.3 515.8 593.3 516.8 593.3 517.8 593.3 518.8 593.3 519.8 593.3 520.8 593.3 521.8 593.3 522.8 593.3 523.8 593.3 524.8 593.3 525.8 593.3 526.8 593.3 527.8 593.3 528.8 593.3 529.8 593.3 530.8 593.3 531.8 593.3 532.8 593.3 533.8 593.3 534.7 593.3 535.7 593.3 536.7 593.3 537.7 593.3 538.7 593.3 539.7 593.3 540.7 593.3 541.7 593.3 542.7 593.3 543.7 593.3 544.7 593.3 545.7 593.3 546.7 593.3 547.7 593.3 548.7 593.3 549.7 593.3 550.7 593.3 551.7 593.3 552.7 593.3 553.7 593.3 554.7 593.3 555.7 593.3 556.7 593.3 557.7 593.3 558.7 593.3 559.7 593.3 560.6 593.3 561.6 593.3 562.6 593.3 563.6 593.3 564.6 593.3 565.6 593.3 566.6 593.3 567.6 593.3 568.6 593.3 569.6 593.3 570.6 593.3 571.6 593.3 572.6 593.3 573.6 593.3 574.6 593.3 575.6 593.3 576.6 593.3 577.6 593.3 578.6 593.3 579.6 593.3 580.6 593.3 581.6 593.3 582.6 593.3 583.6 593.3 584.6 593.3 585.6 593.3 586.6 593.3 587.5 593.3 588.5 593.3 589.5 593.3 590.5 593.3 591.5 593.3 592.5 593.3 593.5 593.3 594.5 593.3 595.5 593.3 596.5 593.3 597.5 593.3 598.5 593.3 599.5 593.3 600.5 593.3" stroke="#000" stroke-width="2.4" fill="none" stroke-linejoin="round"/><path d="M82.0 593.5L83.0 593.5 84.0 593.5 85.0 593.5 86.0 593.5 87.0 593.5 88.0 593.5 89.0 593.5 90.0 593.5 91.0 593.5 92.0 593.5 93.0 593.5 94.0 593.5 95.0 593.5 96.0 593.5 97.0 593.5 98.0 593.5 99.0 593.5 100.0 593.5 101.0 593.5 102.0 593.5 103.0 593.5 104.0 593.5 105.0 593.5 106.0 593.5 107.0 593.5 108.0 593.5 109.0 593.5 110.0 593.5 111.0 593.5 112.0 593.5 113.0 593.5 114.0 593.5 115.0 593.5 116.0 593.5 117.0 593.5 118.0 593.5 119.0 593.5 120.0 593.5 121.0 593.5 122.0 593.5 123.0 593.5 124.0 593.5 125.0 593.5 126.0 593.5 127.0 593.5 128.0 593.5 129.0 593.5 130.0 593.5 131.0 593.5 132.0 593.5 133.0 593.5 134.0 593.5 135.0 593.5 136.0 593.5 137.0 593.5 138.0 593.5 139.0 593.5 140.0 593.5 141.0 593.5 142.0 593.5 143.0 593.5 144.0 593.5 145.0 593.5 146.0 593.5 147.0 593.5 148.0 593.5 149.0 593.5 150.0 593.5 151.0 593.5 152.0 593.5 153.0 593.5 154.0 593.5 155.0 593.5 156.0 593.5 157.0 593.5 158.0 593.5 159.0 593.5 160.0 593.5 161.0 593.5 162.0 593.5 163.0 593.5 164.0 593.5 165.0 593.5 166.0 593.5 167.0 593.5 168.0 593.5 169.0 593.5 170.0 593.5 171.0 593.5 172.0 593.5 173.0 593.5 174.0 593.5 175.0 593.5 176.0 593.5 177.0 593.5 178.0 593.5 179.0 593.5 180.0 593.5 181.0 593.5 182.0 593.5 183.0 593.5 184.0 593.5 185.0 593.5 186.0 593.5 187.0 593.5 188.0 593.5 189.0 593.5 190.0 593.5 191.0 593.5 192.0 593.5 193.0 593.5 194.0 593.5 195.0 593.5 196.0 593.5 197.0 593.5 198.0 593.5 199.0 593.5 200.0 593.5 201.0 593.5 202.0 593.4 203.0 593.2 204.0 593.0 204.9 592.9 205.9 592.7 206.9 592.5 207.9 592.4 208.9 592.4 209.9 592.5 210.8 592.7 211.8 592.9 212.8 593.2 213.7 593.4 214.7 593.5 215.7 593.4 216.6 593.1 217.6 592.8 218.6 592.4 219.5 592.1 220.5 592.0 221.5 592.1 222.5 592.4 223.4 592.8 224.4 593.1 225.4 593.4 226.4 593.5 227.4 593.4 228.3 593.0 229.3 592.4 230.3 591.9 231.2 591.4 232.2 591.3 233.2 591.4 234.2 591.8 235.1 592.4 236.1 592.9 237.1 593.4 238.1 593.5 239.1 593.3 240.0 592.6 241.0 591.6 242.0 590.7 242.9 590.0 243.9 589.8 244.9 590.0 245.8 590.7 246.8 591.6 247.8 592.6 248.7 593.3 249.7 593.5 250.7 593.1 251.7 592.0 252.6 590.6 253.6 589.1 254.6 588.0 255.6 587.6 256.6 588.0 257.5 589.1 258.5 590.5 259.5 592.0 260.4 593.1 261.4 593.5 262.4 592.9 263.4 591.1 264.4 588.8 265.3 586.4 266.3 584.6 267.3 584.0 268.3 584.6 269.2 586.4 270.2 588.8 271.2 591.1 272.1 592.9 273.1 593.5 274.0 592.8 274.9 590.8 275.8 588.0 276.7 584.8 277.6 582.0 278.5 580.0 279.4 579.3 280.4 580.2 281.4 582.8 282.4 586.2 283.3 589.7 284.3 592.3 285.3 593.2 286.3 591.8 287.2 588.2 288.2 583.1 289.2 578.1 290.1 574.4 291.1 573.0 292.1 574.3 293.0 578.0 294.0 583.0 294.9 588.1 295.9 591.8 296.8 593.1 297.8 591.3 298.7 586.2 299.7 579.4 300.7 572.6 301.6 567.5 302.6 565.7 303.5 567.1 304.4 570.9 305.3 576.4 306.2 582.4 307.1 587.9 308.0 591.7 308.9 593.1 309.9 590.7 310.8 584.3 311.8 575.5 312.8 566.7 313.7 560.3 314.7 557.9 315.7 560.2 316.6 566.6 317.6 575.4 318.6 584.1 319.5 590.6 320.5 592.9 321.4 590.0 322.4 582.0 323.4 571.1 324.3 560.3 325.2 552.3 326.2 549.4 327.2 552.1 328.2 559.6 329.2 569.9 330.2 580.1 331.2 587.7 332.2 590.4 333.2 585.8 334.1 573.8 335.1 558.9 336.0 546.9 337.0 542.3 337.9 544.5 338.9 550.7 339.8 559.7 340.8 569.6 341.7 578.6 342.7 584.8 343.6 587.0 344.5 583.6 345.4 574.4 346.3 561.8 347.2 549.1 348.1 539.9 349.0 536.5 349.9 538.8 350.8 545.3 351.7 554.6 352.5 565.0 353.4 574.3 354.3 580.8 355.2 583.1 356.1 579.9 357.0 571.2 357.9 559.4 358.8 547.5 359.7 538.8 360.6 535.6 361.5 537.7 362.4 543.6 363.3 552.2 364.1 561.7 365.0 570.3 365.9 576.2 366.8 578.3 367.7 575.6 368.5 568.1 369.4 558.0 370.3 547.8 371.1 540.3 372.0 537.6 373.0 540.0 374.0 546.5 375.0 555.4 376.0 564.2 377.0 570.7 378.0 573.1 378.9 570.9 379.8 565.1 380.6 557.0 381.5 549.0 382.4 543.1 383.3 540.9 384.3 542.8 385.3 548.1 386.2 555.4 387.2 562.6 388.2 568.0 389.2 569.9 390.1 568.3 391.1 563.9 392.0 557.9 393.0 551.8 393.9 547.4 394.9 545.8 395.8 547.3 396.8 551.4 397.8 557.0 398.7 562.6 399.7 566.7 400.6 568.2 401.5 567.0 402.4 563.9 403.4 559.6 404.3 555.3 405.2 552.2 406.1 551.0 407.1 552.1 408.0 555.3 409.0 559.5 409.9 563.8 410.9 567.0 411.8 568.1 412.7 567.3 413.7 565.2 414.6 562.2 415.5 559.3 416.5 557.2 417.4 556.4 418.4 557.3 419.4 559.8 420.4 563.2 421.3 566.7 422.3 569.2 423.3 570.1 424.2 569.6 425.1 568.1 426.0 566.1 426.8 564.0 427.7 562.5 428.6 562.0 429.6 562.8 430.6 564.8 431.6 567.6 432.5 570.4 433.5 572.4 434.5 573.2 435.4 572.9 436.3 571.9 437.2 570.7 438.1 569.4 439.0 568.4 439.9 568.1 440.8 568.6 441.6 569.8 442.5 571.7 443.4 573.7 444.3 575.6 445.1 576.8 446.0 577.3 446.9 577.1 447.7 576.5 448.6 575.8 449.4 575.0 450.2 574.4 451.1 574.2 452.0 574.6 452.8 575.6 453.7 577.0 454.6 578.6 455.5 580.0 456.3 581.0 457.2 581.4 458.2 581.3 459.2 580.9 460.1 580.4 461.1 580.0 462.1 579.9 463.1 580.2 464.0 581.0 465.0 582.2 465.9 583.4 466.9 584.6 467.8 585.4 468.8 585.7 469.6 585.6 470.5 585.2 471.4 584.8 472.2 584.4 473.0 584.0 473.9 583.9 474.8 584.1 475.8 584.8 476.7 585.7 477.6 586.8 478.5 587.7 479.5 588.4 480.4 588.6 481.4 588.5 482.4 588.3 483.4 588.0 484.3 587.7 485.3 587.5 486.3 587.4 487.3 587.6 488.2 588.2 489.2 589.1 490.2 589.9 491.1 590.6 492.1 590.8 493.1 590.7 494.1 590.6 495.1 590.4 496.0 590.2 497.0 590.1 498.0 590.0 499.0 590.0 499.9 590.2 500.9 590.4 501.9 590.6 502.8 590.9 503.8 591.1 504.8 591.3 505.7 591.5 506.7 591.5 507.7 591.5 508.6 591.6 509.6 591.7 510.6 591.8 511.6 591.9 512.5 592.1 513.5 592.3 514.5 592.4 515.5 592.5 516.4 592.6 517.4 592.7 518.4 592.7 519.4 592.7 520.3 592.7 521.3 592.8 522.3 592.8 523.3 592.9 524.2 592.9 525.2 593.0 526.2 593.0 527.2 593.1 528.1 593.1 529.1 593.2 530.1 593.2 531.1 593.3 532.0 593.3 533.0 593.3 534.0 593.3 535.0 593.3 536.0 593.3 537.0 593.3 538.0 593.3 539.0 593.3 539.9 593.3 540.9 593.3 541.9 593.3 542.9 593.3 543.9 593.3 544.9 593.3 545.9 593.3 546.9 593.3 547.9 593.3 548.9 593.3 549.9 593.3 550.9 593.3 551.9 593.3 552.9 593.3 553.8 593.3 554.8 593.3 555.8 593.3 556.8 593.3 557.8 593.3 558.8 593.3 559.8 593.3 560.8 593.3 561.8 593.3 562.8 593.3 563.8 593.3 564.8 593.3 565.8 593.3 566.8 593.3 567.7 593.4 568.7 593.4 569.7 593.4 570.7 593.4 571.7 593.4 572.7 593.4 573.7 593.4 574.7 593.4 575.7 593.4 576.7 593.4 577.7 593.4 578.7 593.4 579.7 593.4 580.6 593.4 581.6 593.4 582.6 593.4 583.6 593.4 584.6 593.4 585.6 593.4 586.6 593.4 587.6 593.4 588.6 593.4 589.6 593.4 590.6 593.4 591.6 593.4 592.6 593.4 593.6 593.4 594.5 593.4 595.5 593.4 596.5 593.4 597.5 593.4 598.5 593.4 599.5 593.4 600.5 593.4" stroke="#f00" stroke-width="2.4" fill="none" stroke-linejoin="round"/><path d="M82.0 593.5L83.0 593.5 84.0 593.5 85.0 593.5 86.0 593.5 87.0 593.5 88.0 593.5 89.0 593.5 90.0 593.5 91.0 593.5 92.0 593.5 93.0 593.5 94.0 593.5 95.0 593.5 96.0 593.5 97.0 593.5 98.0 593.5 99.0 593.5 100.0 593.5 101.0 593.5 102.0 593.5 103.0 593.5 104.0 593.5 105.0 593.5 106.0 593.5 107.0 593.5 108.0 593.5 109.0 593.5 110.0 593.5 111.0 593.5 112.0 593.5 113.0 593.5 114.0 593.5 115.0 593.5 116.0 593.5 117.0 593.5 118.0 593.5 119.0 593.5 120.0 593.5 121.0 593.5 122.0 593.5 123.0 593.5 124.0 593.5 125.0 593.5 126.0 593.5 127.0 593.5 128.0 593.5 129.0 593.5 130.0 593.5 131.0 593.5 132.0 593.5 133.0 593.5 134.0 593.5 135.0 593.5 136.0 593.5 137.0 593.5 138.0 593.5 139.0 593.5 140.0 593.5 141.0 593.5 142.0 593.5 143.0 593.5 144.0 593.5 145.0 593.5 146.0 593.5 147.0 593.5 148.0 593.5 149.0 593.5 150.0 593.5 151.0 593.5 152.0 593.5 153.0 593.5 154.0 593.5 155.0 593.5 156.0 593.5 157.0 593.5 158.0 593.5 159.0 593.5 160.0 593.5 161.0 593.5 162.0 593.5 163.0 593.5 164.0 593.5 165.0 593.5 166.0 593.5 167.0 593.5 168.0 593.5 169.0 593.5 170.0 593.5 171.0 593.5 172.0 593.5 173.0 593.5 174.0 593.5 175.0 593.5 176.0 593.5 177.0 593.5 178.0 593.5 179.0 593.5 180.0 593.5 181.0 593.5 182.0 593.5 183.0 593.5 184.0 593.5 185.0 593.5 186.0 593.5 187.0 593.5 188.0 593.5 189.0 593.5 190.0 593.5 191.0 593.5 192.0 593.5 193.0 593.5 194.0 593.5 195.0 593.5 196.0 593.5 197.0 593.5 198.0 593.5 199.0 593.5 200.0 593.5 201.0 593.5 202.0 593.5 203.0 593.5 204.0 593.5 205.0 593.5 206.0 593.5 207.0 593.5 208.0 593.5 209.0 593.5 210.0 593.5 211.0 593.5 212.0 593.5 213.0 593.5 214.0 593.5 215.0 593.5 216.0 593.5 217.0 593.5 218.0 593.5 219.0 593.5 220.0 593.5 221.0 593.5 222.0 593.5 223.0 593.5 224.0 593.5 225.0 593.5 226.0 593.5 227.0 593.5 228.0 593.5 229.0 593.5 230.0 593.5 231.0 593.5 232.0 593.5 233.0 593.5 234.0 593.5 235.0 593.5 236.0 593.5 237.0 593.5 238.0 593.5 239.0 593.5 240.0 593.5 241.0 593.5 242.0 593.4 243.0 593.3 244.0 593.2 245.0 593.1 246.0 592.9 247.0 592.8 248.0 592.7 249.0 592.6 250.0 592.6 250.9 592.6 251.9 592.4 252.8 592.2 253.8 591.9 254.7 591.7 255.7 591.4 256.6 591.2 257.6 591.0 258.5 591.0 259.4 591.1 260.4 591.5 261.3 591.9 262.2 592.0 263.1 591.9 264.0 591.4 264.9 590.8 265.9 590.1 266.8 589.3 267.7 588.7 268.6 588.2 269.5 588.1 270.4 588.3 271.2 588.8 272.1 589.4 272.9 589.9 273.8 590.1 274.7 589.8 275.6 589.0 276.5 587.8 277.5 586.5 278.4 585.1 279.3 583.9 280.2 583.1 281.1 582.8 282.0 583.2 282.9 584.1 283.7 585.3 284.6 586.2 285.5 586.6 286.5 586.0 287.5 584.4 288.5 582.1 289.4 579.4 290.4 577.1 291.4 575.5 292.4 574.9 293.4 575.5 294.4 576.9 295.3 578.8 296.3 580.2 297.3 580.8 298.2 580.1 299.1 578.1 300.1 575.0 301.0 571.5 301.9 567.9 302.9 564.8 303.8 562.8 304.7 562.1 305.6 563.0 306.6 565.3 307.5 568.3 308.5 570.6 309.4 571.5 310.4 570.2 311.4 566.5 312.4 561.3 313.3 555.4 314.3 550.2 315.3 546.5 316.3 545.2 317.2 546.1 318.0 548.5 318.9 551.8 319.8 555.1 320.6 557.5 321.5 558.4 322.5 556.7 323.4 552.1 324.4 545.4 325.4 537.9 326.4 531.2 327.3 526.6 328.3 524.9 329.2 526.1 330.1 529.4 331.0 534.0 331.8 538.5 332.7 541.9 333.6 543.1 334.5 541.1 335.5 535.6 336.4 527.5 337.4 518.6 338.3 510.5 339.3 505.0 340.2 503.0 341.1 504.6 342.0 508.9 342.9 514.9 343.7 520.8 344.6 525.2 345.5 526.8 346.4 524.6 347.4 518.4 348.3 509.4 349.2 499.5 350.1 490.5 351.1 484.3 352.0 482.1 352.9 483.9 353.8 488.8 354.6 495.5 355.5 502.2 356.4 507.1 357.3 508.9 358.2 506.7 359.1 500.5 360.0 491.6 360.9 481.6 361.8 472.7 362.7 466.5 363.6 464.3 364.6 466.1 365.5 471.1 366.5 477.9 367.5 484.7 368.4 489.7 369.4 491.5 370.3 489.4 371.1 483.7 372.0 475.4 372.9 466.1 373.8 457.8 374.6 452.1 375.5 450.0 376.4 451.7 377.4 456.4 378.4 462.8 379.3 469.3 380.2 474.0 381.2 475.7 382.1 473.3 383.1 466.9 384.0 458.1 385.0 449.3 385.9 442.9 386.9 440.5 387.8 441.9 388.8 445.8 389.8 451.1 390.7 456.3 391.7 460.2 392.6 461.6 393.5 460.1 394.4 456.0 395.3 450.0 396.2 443.4 397.1 437.4 398.0 433.3 398.9 431.8 399.9 433.0 400.8 436.3 401.8 440.8 402.8 445.2 403.7 448.5 404.7 449.7 405.7 448.1 406.7 443.9 407.7 438.0 408.7 432.2 409.7 427.9 410.7 426.3 411.6 427.2 412.5 429.6 413.4 432.9 414.3 436.3 415.2 438.7 416.1 439.6 417.0 438.7 417.9 436.2 418.8 432.6 419.7 428.7 420.6 425.1 421.5 422.6 422.4 421.7 423.3 422.3 424.2 423.9 425.1 426.2 426.1 428.4 427.0 430.1 427.9 430.7 428.8 430.0 429.6 428.1 430.5 425.4 431.4 422.3 432.3 419.6 433.1 417.7 434.0 417.0 434.9 417.4 435.8 418.4 436.7 419.9 437.6 421.4 438.5 422.4 439.4 422.8 440.3 422.3 441.1 420.8 442.0 418.7 442.9 416.4 443.8 414.3 444.6 412.8 445.5 412.3 446.4 412.5 447.3 413.2 448.1 414.1 449.0 415.1 449.9 415.8 450.8 416.0 451.7 415.6 452.7 414.5 453.6 412.9 454.5 411.2 455.4 409.6 456.4 408.5 457.3 408.1 458.3 408.2 459.3 408.5 460.2 408.9 461.2 409.2 462.2 409.3 463.2 409.0 464.1 408.2 465.1 407.0 466.0 405.6 467.0 404.4 467.9 403.6 468.9 403.3 469.8 403.4 470.8 403.8 471.7 404.2 472.7 404.6 473.6 404.7 474.5 404.5 475.5 403.9 476.4 403.0 477.3 402.0 478.2 401.1 479.2 400.5 480.1 400.3 481.0 400.4 481.8 400.5 482.7 400.7 483.6 400.9 484.4 401.0 485.3 401.1 486.2 401.0 487.1 400.5 488.0 399.9 488.8 399.3 489.7 398.7 490.6 398.2 491.5 398.1 492.4 398.1 493.3 398.3 494.1 398.4 495.0 398.6 495.9 398.8 496.8 398.8 497.8 398.7 498.8 398.3 499.8 397.8 500.7 397.2 501.7 396.8 502.7 396.7 503.6 396.7 504.4 396.8 505.2 396.8 506.1 396.9 506.9 397.0 507.8 397.0 508.7 397.0 509.5 396.8 510.4 396.6 511.3 396.4 512.2 396.2 513.0 396.0 513.9 396.0 514.8 396.0 515.8 396.0 516.7 395.9 517.6 395.9 518.5 395.9 519.5 395.8 520.4 395.7 521.3 395.7 522.2 395.7 523.1 395.6 524.1 395.6 525.0 395.6 526.0 395.6 527.0 395.6 528.0 395.6 529.0 395.6 530.0 395.6 531.0 395.6 532.0 395.6 532.9 395.6 533.9 395.6 534.9 395.6 535.9 395.6 536.9 395.6 537.9 395.6 538.9 395.6 539.9 395.6 540.9 395.6 541.9 395.6 542.9 395.6 543.9 395.6 544.9 395.6 545.9 395.6 546.9 395.6 547.8 395.6 548.8 395.6 549.8 395.6 550.8 395.6 551.8 395.6 552.8 395.6 553.8 395.6 554.8 395.6 555.8 395.6 556.8 395.6 557.8 395.6 558.8 395.6 559.8 395.6 560.8 395.6 561.8 395.6 562.8 395.6 563.7 395.6 564.7 395.6 565.7 395.6 566.7 395.6 567.7 395.6 568.7 395.6 569.7 395.6 570.7 395.6 571.7 395.6 572.7 395.6 573.7 395.6 574.7 395.6 575.7 395.6 576.7 395.6 577.7 395.6 578.6 395.6 579.6 395.6 580.6 395.6 581.6 395.6 582.6 395.6 583.6 395.6 584.6 395.6 585.6 395.6 586.6 395.6 587.6 395.6 588.6 395.6 589.6 395.6 590.6 395.6 591.6 395.6 592.6 395.6 593.5 395.6 594.5 395.6 595.5 395.6 596.5 395.6 597.5 395.6 598.5 395.6 599.5 395.6 600.5 395.6" stroke="#00f" stroke-width="2.4" fill="none" stroke-linejoin="round"/><g clip-path="url(#bclip)"><path d="M80.8 596.8L81.9 596.8 83.5 596.8 85.1 596.8 86.8 596.7 88.4 596.7 90.0 596.6 91.6 596.6 93.2 596.5 94.9 596.4 96.5 596.4 98.1 596.3 99.7 596.2 101.4 596.1 103.0 596.0 104.6 595.9 106.2 595.8 107.8 595.7 109.5 595.6 111.1 595.5 112.7 595.4 114.3 595.2 115.9 595.1 117.6 594.9 119.2 594.8 120.8 594.6 122.4 594.4 124.1 594.3 125.7 594.1 127.3 593.9 128.9 593.6 130.5 593.4 132.2 593.2 133.8 592.9 135.4 592.6 137.0 592.4 138.6 592.1 140.3 591.8 141.9 591.4 143.5 591.1 145.1 590.7 146.8 590.3 148.4 590.0 150.0 589.5 151.6 589.1 153.2 588.7 154.9 588.2 156.5 587.7 158.1 587.2 159.7 586.6 161.3 586.1 163.0 585.5 164.6 584.9 166.2 584.3 167.8 583.6 169.4 582.9 171.1 582.2 172.7 581.5 174.3 580.7 175.9 579.9 177.6 579.1 179.2 578.2 180.8 577.3 182.4 576.4 184.0 575.5 185.7 574.5 187.3 573.4 188.9 572.4 190.5 571.3 192.1 570.2 193.8 569.0 195.4 567.8 197.0 566.6 198.6 565.3 200.3 564.0 201.9 562.7 203.5 561.3 205.1 559.9 206.7 558.5 208.4 557.0 210.0 555.4 211.6 553.9 213.2 552.3 214.8 550.6 216.5 549.0 218.1 547.2 219.7 545.5 221.3 543.7 222.9 541.9 224.6 540.0 226.2 538.1 227.8 536.2 229.4 534.2 231.1 532.2 232.7 530.2 234.3 528.1 235.9 526.0 237.5 523.9 239.2 521.7 240.8 519.5 242.4 517.3 244.0 515.1 245.6 512.8 247.3 510.6 248.9 508.3 250.5 505.9 252.1 503.6 253.8 501.2 255.4 498.9 257.0 496.5 258.6 494.1 260.2 491.7 261.9 489.3 263.5 486.9 265.1 484.5 266.7 482.1 268.3 479.6 270.0 477.2 271.6 474.8 273.2 472.4 274.8 470.1 276.4 467.7 278.1 465.3 279.7 463.0 281.3 460.7 282.9 458.4 284.6 456.1 286.2 453.9 287.8 451.7 289.4 449.5 291.0 447.4 292.7 445.3 294.3 443.2 295.9 441.2 297.5 439.3 299.1 437.3 300.8 435.5 302.4 433.7 304.0 431.9 305.6 430.2 307.3 428.5 308.9 427.0 310.5 425.4 312.1 424.0 313.7 422.6 315.4 421.3 317.0 420.0 318.6 418.9 320.2 417.8 321.8 416.7 323.5 415.8 325.1 414.9 326.7 414.1 328.3 413.4 330.0 412.8 331.6 412.2 333.2 411.8 334.8 411.4 336.4 411.1 338.1 410.9 339.7 410.8 341.3 410.7 342.9 410.8 344.5 410.9 346.2 411.1 347.8 411.4 349.4 411.8 351.0 412.2 352.6 412.8 354.3 413.4 355.9 414.1 357.5 414.9 359.1 415.8 360.8 416.7 362.4 417.8 364.0 418.9 365.6 420.0 367.2 421.3 368.9 422.6 370.5 424.0 372.1 425.4 373.7 427.0 375.3 428.5 377.0 430.2 378.6 431.9 380.2 433.7 381.8 435.5 383.5 437.3 385.1 439.3 386.7 441.2 388.3 443.2 389.9 445.3 391.6 447.4 393.2 449.5 394.8 451.7 396.4 453.9 398.0 456.1 399.7 458.4 401.3 460.7 402.9 463.0 404.5 465.3 406.2 467.7 407.8 470.1 409.4 472.4 411.0 474.8 412.6 477.2 414.3 479.6 415.9 482.1 417.5 484.5 419.1 486.9 420.7 489.3 422.4 491.7 424.0 494.1 425.6 496.5 427.2 498.9 428.8 501.2 430.5 503.6 432.1 505.9 433.7 508.3 435.3 510.6 437.0 512.8 438.6 515.1 440.2 517.3 441.8 519.5 443.4 521.7 445.1 523.9 446.7 526.0 448.3 528.1 449.9 530.2 451.5 532.2 453.2 534.2 454.8 536.2 456.4 538.1 458.0 540.0 459.7 541.9 461.3 543.7 462.9 545.5 464.5 547.2 466.1 549.0 467.8 550.6 469.4 552.3 471.0 553.9 472.6 555.4 474.2 557.0 475.9 558.5 477.5 559.9 479.1 561.3 480.7 562.7 482.3 564.0 484.0 565.3 485.6 566.6 487.2 567.8 488.8 569.0 490.5 570.2 492.1 571.3 493.7 572.4 495.3 573.4 496.9 574.5 498.6 575.5 500.2 576.4 501.8 577.3 503.4 578.2 505.0 579.1 506.7 579.9 508.3 580.7 509.9 581.5 511.5 582.2 513.2 582.9 514.8 583.6 516.4 584.3 518.0 584.9 519.6 585.5 521.3 586.1 522.9 586.6 524.5 587.2 526.1 587.7 527.7 588.2 529.4 588.7 531.0 589.1 532.6 589.5 534.2 590.0 535.9 590.3 537.5 590.7 539.1 591.1 540.7 591.4 542.3 591.8 544.0 592.1 545.6 592.4 547.2 592.6 548.8 592.9 550.4 593.2 552.1 593.4 553.7 593.6 555.3 593.9 556.9 594.1 558.5 594.3 560.2 594.4 561.8 594.6 563.4 594.8 565.0 594.9 566.7 595.1 568.3 595.2 569.9 595.4 571.5 595.5 573.1 595.6 574.8 595.7 576.4 595.8 578.0 595.9 579.6 596.0 581.2 596.1 582.9 596.2 584.5 596.3 586.1 596.4 587.7 596.4 589.4 596.5 591.0 596.6 592.6 596.6 594.2 596.7 595.8 596.7 597.5 596.8 599.1 596.8 600.7 596.8" stroke="#5e4fa2" stroke-width="2.4" fill="none" stroke-dasharray="4.8 6.2 4.8 6.2 4.8 6.2 4.8 2.5"/><path d="M80.8 542H600" stroke="#abdda4" stroke-width="2.4" fill="none" stroke-dasharray="4.8 6.2 4.8 6.2 4.8 6.2 4.8 2.5"/></g><path d="M167 437.3H187" stroke="#000" stroke-width="2.4"/><path d="M167 475.1H187" stroke="#f00" stroke-width="2.4"/><path d="M167 513.4H187" stroke="#00f" stroke-width="2.4"/><path d="M566 437.1H583" stroke="#5e4fa2" stroke-width="2.4" stroke-dasharray="5 6"/><path d="M566 475.1H583" stroke="#abdda4" stroke-width="2.4" stroke-dasharray="5 6"/><path d="M146.0 426.3L152.2 438.2L146.0 450.1" stroke="#000" stroke-width="1.2" fill="none"/><path d="M146.0 464.1L152.2 476.0L146.0 487.9" stroke="#000" stroke-width="1.2" fill="none"/><path d="M146.0 502.1L152.2 514.0L146.0 525.9" stroke="#000" stroke-width="1.2" fill="none"/>
<text x="67.7" y="17.6" text-anchor="end" font-size="26" font-family="'Liberation Serif', serif" >2.5</text><text x="67.7" y="86.5" text-anchor="end" font-size="26" font-family="'Liberation Serif', serif" >2.4</text><text x="67.7" y="161.5" text-anchor="end" font-size="26" font-family="'Liberation Serif', serif" >2.3</text><text x="67.7" y="236.5" text-anchor="end" font-size="26" font-family="'Liberation Serif', serif" >2.2</text><text x="67.7" y="311.5" text-anchor="end" font-size="26" font-family="'Liberation Serif', serif" >2.1</text><text x="86.7" y="331.5" text-anchor="middle" font-size="26" font-family="'Liberation Serif', serif" >0</text><text x="182.0" y="331.5" text-anchor="middle" font-size="26" font-family="'Liberation Serif', serif" >0.2</text><text x="277.2" y="331.5" text-anchor="middle" font-size="26" font-family="'Liberation Serif', serif" >0.4</text><text x="372.5" y="331.5" text-anchor="middle" font-size="26" font-family="'Liberation Serif', serif" >0.6</text><text x="467.7" y="331.5" text-anchor="middle" font-size="26" font-family="'Liberation Serif', serif" >0.8</text><text x="563.0" y="331.5" text-anchor="middle" font-size="26" font-family="'Liberation Serif', serif" >1</text><text x="612.0" y="17.6" text-anchor="start" font-size="26" font-family="'Liberation Serif', serif" >1.0</text><text x="612.0" y="71.3" text-anchor="start" font-size="26" font-family="'Liberation Serif', serif" >0.8</text><text x="612.0" y="131.3" text-anchor="start" font-size="26" font-family="'Liberation Serif', serif" >0.6</text><text x="612.0" y="191.3" text-anchor="start" font-size="26" font-family="'Liberation Serif', serif" >0.4</text><text x="612.0" y="251.3" text-anchor="start" font-size="26" font-family="'Liberation Serif', serif" >0.2</text><text x="612.0" y="311.3" text-anchor="start" font-size="26" font-family="'Liberation Serif', serif" >0.0</text><text x="66.1" y="602.0" text-anchor="end" font-size="26" font-family="'Liberation Serif', serif" >0.0</text><text x="66.1" y="562.4" text-anchor="end" font-size="26" font-family="'Liberation Serif', serif" >0.2</text><text x="66.1" y="522.8" text-anchor="end" font-size="26" font-family="'Liberation Serif', serif" >0.4</text><text x="66.1" y="483.3" text-anchor="end" font-size="26" font-family="'Liberation Serif', serif" >0.6</text><text x="66.1" y="443.7" text-anchor="end" font-size="26" font-family="'Liberation Serif', serif" >0.8</text><text x="66.1" y="404.1" text-anchor="end" font-size="26" font-family="'Liberation Serif', serif" >1.0</text><text x="615.2" y="605.9" text-anchor="start" font-size="26" font-family="'Liberation Serif', serif" >0.0</text><text x="615.2" y="556.0" text-anchor="start" font-size="26" font-family="'Liberation Serif', serif" >0.4</text><text x="615.2" y="506.1" text-anchor="start" font-size="26" font-family="'Liberation Serif', serif" >0.8</text><text x="615.2" y="456.3" text-anchor="start" font-size="26" font-family="'Liberation Serif', serif" >1.2</text><text x="615.2" y="406.4" text-anchor="start" font-size="26" font-family="'Liberation Serif', serif" >1.6</text><text x="82.9" y="631.5" text-anchor="middle" font-size="26" font-family="'Liberation Serif', serif" >−40</text><text x="147.8" y="631.5" text-anchor="middle" font-size="26" font-family="'Liberation Serif', serif" >−30</text><text x="212.6" y="631.5" text-anchor="middle" font-size="26" font-family="'Liberation Serif', serif" >−20</text><text x="277.4" y="631.5" text-anchor="middle" font-size="26" font-family="'Liberation Serif', serif" >−10</text><text x="342.3" y="631.5" text-anchor="middle" font-size="26" font-family="'Liberation Serif', serif" >0</text><text x="407.2" y="631.5" text-anchor="middle" font-size="26" font-family="'Liberation Serif', serif" >10</text><text x="472.0" y="631.5" text-anchor="middle" font-size="26" font-family="'Liberation Serif', serif" >20</text><text x="536.9" y="631.5" text-anchor="middle" font-size="26" font-family="'Liberation Serif', serif" >30</text><text x="601.7" y="631.5" text-anchor="middle" font-size="26" font-family="'Liberation Serif', serif" >40</text><text x="127.6" y="444.7" font-size="26" font-family="'Liberation Serif', serif">|g</text><text x="127.6" y="482.5" font-size="26" font-family="'Liberation Serif', serif">|x</text><text x="114.6" y="520.5" font-size="26" font-family="'Liberation Serif', serif">|xx</text><text x="551.8" y="445.7" text-anchor="end" font-size="26" font-family="'Liberation Serif', serif" >Optical</text><text x="551.8" y="483.3" text-anchor="end" font-size="26" font-family="'Liberation Serif', serif" >Acoustic</text><text x="86.3" y="423.0" text-anchor="start" font-size="30" font-family="'Liberation Serif', serif" >(b)</text><text x="341.5" y="660.2" text-anchor="middle" font-size="26" font-family="'Liberation Serif', serif" >Time <tspan font-size="30">(</tspan>ps<tspan font-size="30">)</tspan></text><text transform="translate(680.2 494.5) rotate(-90)" text-anchor="middle" font-size="26" font-family="'Liberation Serif', serif">Amplitude (meV)</text><text transform="translate(21 494.5) rotate(-90)" text-anchor="middle" font-size="26" font-family="'Liberation Serif', serif">Occupation</text><text transform="translate(675.2 151.5) rotate(-90)" text-anchor="middle" font-size="26" font-family="'Liberation Serif', serif">Occupation</text><text x="260" y="364.5" font-size="26" font-family="'Liberation Serif', serif"><tspan font-style="italic">ħA</tspan><tspan font-family="'Liberation Sans', sans-serif" font-size="19" dy="7.5">ac</tspan><tspan dy="-7.5"> (meV)</tspan></text><text transform="translate(18.6 153.5) rotate(-90)" text-anchor="middle" font-size="26" font-family="'Liberation Serif', serif"><tspan font-style="italic">ħω</tspan><tspan font-family="'Liberation Sans', sans-serif" font-size="19" dy="7.5">ac</tspan><tspan dy="-7.5"> (meV)</tspan></text>
</svg>
</body></html>
